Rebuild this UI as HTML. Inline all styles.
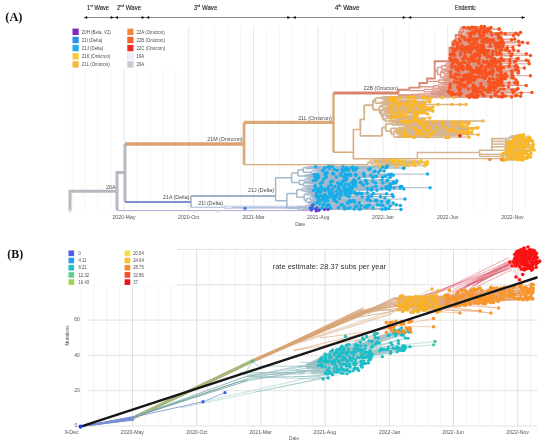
<!DOCTYPE html>
<html><head><meta charset="utf-8"><style>
html,body{margin:0;padding:0;background:#fff;}
svg{display:block;}
text{font-family:"Liberation Sans",sans-serif;}
text.serif{font-family:"Liberation Serif",serif;}
</style></head><body>
<svg width="550" height="446" viewBox="0 0 550 446">
<rect width="550" height="446" fill="#fff"/>
<line x1="72.2" y1="26" x2="72.2" y2="211.5" stroke="#f0f0f0" stroke-width="0.6"/>
<line x1="85.1" y1="26" x2="85.1" y2="211.5" stroke="#f0f0f0" stroke-width="0.6"/>
<line x1="98.1" y1="26" x2="98.1" y2="211.5" stroke="#f0f0f0" stroke-width="0.6"/>
<line x1="111" y1="26" x2="111" y2="211.5" stroke="#f0f0f0" stroke-width="0.6"/>
<line x1="124" y1="26" x2="124" y2="211.5" stroke="#e2e2e2" stroke-width="0.8"/>
<line x1="136.9" y1="26" x2="136.9" y2="211.5" stroke="#f0f0f0" stroke-width="0.6"/>
<line x1="149.9" y1="26" x2="149.9" y2="211.5" stroke="#f0f0f0" stroke-width="0.6"/>
<line x1="162.8" y1="26" x2="162.8" y2="211.5" stroke="#f0f0f0" stroke-width="0.6"/>
<line x1="175.8" y1="26" x2="175.8" y2="211.5" stroke="#f0f0f0" stroke-width="0.6"/>
<line x1="188.7" y1="26" x2="188.7" y2="211.5" stroke="#e2e2e2" stroke-width="0.8"/>
<line x1="201.7" y1="26" x2="201.7" y2="211.5" stroke="#f0f0f0" stroke-width="0.6"/>
<line x1="214.6" y1="26" x2="214.6" y2="211.5" stroke="#f0f0f0" stroke-width="0.6"/>
<line x1="227.6" y1="26" x2="227.6" y2="211.5" stroke="#f0f0f0" stroke-width="0.6"/>
<line x1="240.5" y1="26" x2="240.5" y2="211.5" stroke="#f0f0f0" stroke-width="0.6"/>
<line x1="253.5" y1="26" x2="253.5" y2="211.5" stroke="#e2e2e2" stroke-width="0.8"/>
<line x1="266.4" y1="26" x2="266.4" y2="211.5" stroke="#f0f0f0" stroke-width="0.6"/>
<line x1="279.4" y1="26" x2="279.4" y2="211.5" stroke="#f0f0f0" stroke-width="0.6"/>
<line x1="292.3" y1="26" x2="292.3" y2="211.5" stroke="#f0f0f0" stroke-width="0.6"/>
<line x1="305.3" y1="26" x2="305.3" y2="211.5" stroke="#f0f0f0" stroke-width="0.6"/>
<line x1="318.2" y1="26" x2="318.2" y2="211.5" stroke="#e2e2e2" stroke-width="0.8"/>
<line x1="331.2" y1="26" x2="331.2" y2="211.5" stroke="#f0f0f0" stroke-width="0.6"/>
<line x1="344.1" y1="26" x2="344.1" y2="211.5" stroke="#f0f0f0" stroke-width="0.6"/>
<line x1="357.1" y1="26" x2="357.1" y2="211.5" stroke="#f0f0f0" stroke-width="0.6"/>
<line x1="370" y1="26" x2="370" y2="211.5" stroke="#f0f0f0" stroke-width="0.6"/>
<line x1="383" y1="26" x2="383" y2="211.5" stroke="#e2e2e2" stroke-width="0.8"/>
<line x1="395.9" y1="26" x2="395.9" y2="211.5" stroke="#f0f0f0" stroke-width="0.6"/>
<line x1="408.8" y1="26" x2="408.8" y2="211.5" stroke="#f0f0f0" stroke-width="0.6"/>
<line x1="421.8" y1="26" x2="421.8" y2="211.5" stroke="#f0f0f0" stroke-width="0.6"/>
<line x1="434.7" y1="26" x2="434.7" y2="211.5" stroke="#f0f0f0" stroke-width="0.6"/>
<line x1="447.7" y1="26" x2="447.7" y2="211.5" stroke="#e2e2e2" stroke-width="0.8"/>
<line x1="460.6" y1="26" x2="460.6" y2="211.5" stroke="#f0f0f0" stroke-width="0.6"/>
<line x1="473.6" y1="26" x2="473.6" y2="211.5" stroke="#f0f0f0" stroke-width="0.6"/>
<line x1="486.5" y1="26" x2="486.5" y2="211.5" stroke="#f0f0f0" stroke-width="0.6"/>
<line x1="499.5" y1="26" x2="499.5" y2="211.5" stroke="#f0f0f0" stroke-width="0.6"/>
<line x1="512.4" y1="26" x2="512.4" y2="211.5" stroke="#e2e2e2" stroke-width="0.8"/>
<line x1="525.4" y1="26" x2="525.4" y2="211.5" stroke="#f0f0f0" stroke-width="0.6"/>
<line x1="84" y1="17.5" x2="525" y2="17.5" stroke="#333" stroke-width="0.6"/>
<path d="M84,17.5L87.2,16.1L87.2,18.9Z" fill="#111"/>
<path d="M113.8,17.5L110.6,16.1L110.6,18.9Z" fill="#111"/>
<path d="M114.8,17.5L118,16.1L118,18.9Z" fill="#111"/>
<path d="M144.8,17.5L141.6,16.1L141.6,18.9Z" fill="#111"/>
<path d="M146,17.5L149.2,16.1L149.2,18.9Z" fill="#111"/>
<path d="M290.6,17.5L287.4,16.1L287.4,18.9Z" fill="#111"/>
<path d="M292.6,17.5L295.8,16.1L295.8,18.9Z" fill="#111"/>
<path d="M406,17.5L402.8,16.1L402.8,18.9Z" fill="#111"/>
<path d="M408,17.5L411.2,16.1L411.2,18.9Z" fill="#111"/>
<path d="M525,17.5L521.8,16.1L521.8,18.9Z" fill="#111"/>
<text x="87" y="9.9" font-size="6.6" fill="#222" stroke="#222" stroke-width="0.12" textLength="22" lengthAdjust="spacingAndGlyphs">1<tspan font-size="3.8" dy="-2.4">st</tspan><tspan dy="2.4"> Wave</tspan></text>
<text x="116.9" y="9.9" font-size="6.6" fill="#222" stroke="#222" stroke-width="0.12" textLength="24.2" lengthAdjust="spacingAndGlyphs">2<tspan font-size="3.8" dy="-2.4">nd</tspan><tspan dy="2.4"> Wave</tspan></text>
<text x="193.8" y="9.9" font-size="6.6" fill="#222" stroke="#222" stroke-width="0.12" textLength="23.5" lengthAdjust="spacingAndGlyphs">3<tspan font-size="3.8" dy="-2.4">rd</tspan><tspan dy="2.4"> Wave</tspan></text>
<text x="334.7" y="9.9" font-size="6.6" fill="#222" stroke="#222" stroke-width="0.12" textLength="24.9" lengthAdjust="spacingAndGlyphs">4<tspan font-size="3.8" dy="-2.4">th</tspan><tspan dy="2.4"> Wave</tspan></text>
<text x="455" y="9.9" font-size="6.3" fill="#222" text-anchor="start" textLength="20.7" lengthAdjust="spacingAndGlyphs" stroke="#222" stroke-width="0.12">Endemic</text>
<text x="5.3" y="21.2" font-size="13" font-weight="bold" fill="#111" class="serif" textLength="17.2" lengthAdjust="spacingAndGlyphs">(A)</text>
<rect x="60" y="24" width="126" height="45" fill="#fff"/>
<rect x="72.5" y="28.6" width="6.2" height="6.4" fill="#7b2bbf"/>
<text x="81.8" y="33.6" font-size="5.1" fill="#4a4a4a" text-anchor="start" textLength="29.0" lengthAdjust="spacingAndGlyphs">20H (Beta, V2)</text>
<rect x="72.5" y="36.8" width="6.2" height="6.4" fill="#2c8fe8"/>
<text x="81.8" y="41.8" font-size="5.1" fill="#4a4a4a" text-anchor="start" textLength="20.5" lengthAdjust="spacingAndGlyphs">21I (Delta)</text>
<rect x="72.5" y="44.9" width="6.2" height="6.4" fill="#22aee8"/>
<text x="81.8" y="49.9" font-size="5.1" fill="#4a4a4a" text-anchor="start" textLength="21.4" lengthAdjust="spacingAndGlyphs">21J (Delta)</text>
<rect x="72.5" y="53.1" width="6.2" height="6.4" fill="#f7cc3a"/>
<text x="81.8" y="58.1" font-size="5.1" fill="#4a4a4a" text-anchor="start" textLength="28.5" lengthAdjust="spacingAndGlyphs">21K (Omicron)</text>
<rect x="72.5" y="61.2" width="6.2" height="6.4" fill="#f5b63c"/>
<text x="81.8" y="66.2" font-size="5.1" fill="#4a4a4a" text-anchor="start" textLength="27.9" lengthAdjust="spacingAndGlyphs">21L (Omicron)</text>
<rect x="127.3" y="28.6" width="6.2" height="6.4" fill="#f58a3c"/>
<text x="136.4" y="33.6" font-size="5.1" fill="#4a4a4a" text-anchor="start" textLength="28.3" lengthAdjust="spacingAndGlyphs">22A (Omicron)</text>
<rect x="127.3" y="36.8" width="6.2" height="6.4" fill="#f5612f"/>
<text x="136.4" y="41.8" font-size="5.1" fill="#4a4a4a" text-anchor="start" textLength="28.5" lengthAdjust="spacingAndGlyphs">22B (Omicron)</text>
<rect x="127.3" y="44.9" width="6.2" height="6.4" fill="#ee2b25"/>
<text x="136.4" y="49.9" font-size="5.1" fill="#4a4a4a" text-anchor="start" textLength="28.8" lengthAdjust="spacingAndGlyphs">22C (Omicron)</text>
<rect x="127.3" y="53.1" width="6.2" height="6.4" fill="#eef2f7" stroke="#d5dbe3" stroke-width="0.4"/>
<text x="136.4" y="58.1" font-size="5.1" fill="#4a4a4a" text-anchor="start" textLength="7.8" lengthAdjust="spacingAndGlyphs">19A</text>
<rect x="127.3" y="61.2" width="6.2" height="6.4" fill="#c6cbd3"/>
<text x="136.4" y="66.2" font-size="5.1" fill="#4a4a4a" text-anchor="start" textLength="7.8" lengthAdjust="spacingAndGlyphs">20A</text>
<text x="124" y="219" font-size="5.2" fill="#555" text-anchor="middle">2020-May</text>
<text x="188.7" y="219" font-size="5.2" fill="#555" text-anchor="middle">2020-Oct</text>
<text x="253.5" y="219" font-size="5.2" fill="#555" text-anchor="middle">2021-Mar</text>
<text x="318.2" y="219" font-size="5.2" fill="#555" text-anchor="middle">2021-Aug</text>
<text x="382.9" y="219" font-size="5.2" fill="#555" text-anchor="middle">2022-Jan</text>
<text x="447.7" y="219" font-size="5.2" fill="#555" text-anchor="middle">2022-Jun</text>
<text x="512.4" y="219" font-size="5.2" fill="#555" text-anchor="middle">2022-Nov</text>
<text x="300.2" y="225.9" font-size="4.8" fill="#555" text-anchor="middle">Date</text>
<path d="M70,210.5V191.3H117" fill="none" stroke="#b6bac0" stroke-width="3"/>
<path d="M117,210.6V172.5H125" fill="none" stroke="#b6bac0" stroke-width="3"/>
<path d="M125,202V143.8" fill="none" stroke="#b6bac0" stroke-width="3"/>
<circle cx="70" cy="210.6" r="1.3" fill="#fff" stroke="#b6bac0" stroke-width="0.7"/>
<line x1="117" y1="210.6" x2="312" y2="210.6" stroke="#b9a8d8" stroke-width="1.0"/>
<path d="M125,202H191" fill="none" stroke="#7d90d0" stroke-width="2"/>
<path d="M191,196V207.3" fill="none" stroke="#93abc6" stroke-width="1.4"/>
<line x1="191" y1="207.3" x2="226" y2="207.3" stroke="#a9b7d6" stroke-width="1.1"/>
<rect x="224.5" y="206" width="88" height="2.8" fill="#dde7f1" stroke="#b8c9dc" stroke-width="0.6"/>
<line x1="232" y1="207.4" x2="312" y2="207.4" stroke="#9aa6dc" stroke-width="0.7"/>
<circle cx="194.5" cy="211.3" r="1" fill="#fff" stroke="#bbb" stroke-width="0.5"/>
<circle cx="217" cy="211.3" r="1" fill="#fff" stroke="#bbb" stroke-width="0.5"/>
<path d="M191,196H275.6" fill="none" stroke="#9bb3c8" stroke-width="1.9"/>
<path d="M125,144H244" fill="none" stroke="#dba277" stroke-width="3.5"/>
<path d="M244,122.4V164.7" fill="none" stroke="#d9ab7c" stroke-width="2.8"/>
<path d="M244,122.4H333.5" fill="none" stroke="#d8aa76" stroke-width="3.4"/>
<path d="M244,164.7H368" fill="none" stroke="#d9ab7c" stroke-width="1.3"/>
<path d="M333.5,93V152.3" fill="none" stroke="#d9ab7c" stroke-width="2.4"/>
<path d="M333.5,93H398.5" fill="none" stroke="#d8846f" stroke-width="3"/>
<path d="M398.5,93V95H420" fill="none" stroke="#dc9282" stroke-width="1.3"/>
<path d="M333.5,152.3H353.4V129.5" fill="none" stroke="#d9ab7c" stroke-width="1.6"/>
<path d="M353.4,152.3V158.7H417.4" fill="none" stroke="#d9ab7c" stroke-width="1.5"/>
<path d="M318,166.1L387.2,166.1M320.9,166.5L329.3,166.5M320.9,166.6L387.1,166.6M311.2,166.7L315.6,166.7M319.1,166.7L332.6,166.7M321.6,166.8L343,166.8M323,166.8L328.1,166.8M323,167L382.5,167M315.3,167.2L352.8,167.2M323.2,167.4L351.8,167.4M332,167.5L353,167.5M332,167.7L386,167.7M321.1,167.7L324.9,167.7M321.1,167.8L404.1,167.8M320.5,167.9L346.2,167.9M319.9,168L357,168M321.7,168.2L403.6,168.2M321.7,168.6L329.2,168.6M313.3,168.7L370.3,168.7M310.3,168.8L347.7,168.8M332.5,169.2L368.9,169.2M332.5,169.2L348.6,169.2M323.7,169.3L342.1,169.3M326.4,169.3L346.4,169.3M328.1,169.6L344.9,169.6M328.1,169.6L334.3,169.6M330.6,169.7L345.4,169.7M330.6,169.8L355.4,169.8M319.9,169.9L323.7,169.9M318.4,169.9L380.5,169.9M333.4,170.2L353.5,170.2M333.4,170.4L348.1,170.4M319.9,170.6L337.3,170.6M319.9,170.7L322.6,170.7M319,171L384.1,171M333.2,171.1L375,171.1M338.5,171.5L343.1,171.5M338.5,171.9L373.9,171.9M336.8,172.1L342.8,172.1M325.6,172.3L378.6,172.3M319.5,172.8L327.2,172.8M320.9,173.4L325.1,173.4M320.9,173.5L363.7,173.5M318,173.7L332.7,173.7M324.2,173.8L333.8,173.8M324.2,173.8L333.2,173.8M333.6,173.9L345.5,173.9M333.6,174L350,174M329.9,174L340.7,174M352.3,174.1L427.5,174.1M352.3,174.3L391.4,174.3M310.3,174.3L314.3,174.3M310.3,174.3L355.8,174.3M309.7,174.5L317.3,174.5M327.7,174.6L388.8,174.6M333.7,174.6L348.5,174.6M333.7,174.7L364.5,174.7M317.9,174.9L325.8,174.9M326.9,175.1L370.7,175.1M326.9,175.2L350.6,175.2M325.5,175.3L355.7,175.3M331.2,175.3L347,175.3M331.2,175.3L393.1,175.3M316.1,175.3L340.5,175.3M316.1,175.7L325.4,175.7M313.2,175.9L318.5,175.9M313.2,175.9L364.2,175.9M334.3,176.1L385.7,176.1M334.3,176.2L376.2,176.2M311.1,176.3L315.1,176.3M324.2,176.6L343.7,176.6M324.2,176.7L346.7,176.7M317.6,176.9L336.3,176.9M313.3,176.9L374.2,176.9M313.3,177.1L326.2,177.1M311.8,177.2L315.2,177.2M311.8,177.2L382.8,177.2M312.5,177.3L372.7,177.3M313.7,177.3L390.2,177.3M313.7,177.7L318.6,177.7M311.9,178.2L359,178.2M317.3,178.6L346.7,178.6M317.3,178.9L323.8,178.9M315.3,179.3L344.5,179.3M312.5,179.5L316.3,179.5M311.3,179.8L354.1,179.8M331.3,179.9L381.9,179.9M331.3,179.9L387.7,179.9M309.6,180.2L345.8,180.2M310.2,180.3L316.2,180.3M310.7,180.3L365.9,180.3M310.7,180.4L313.7,180.4M333.2,180.4L354.1,180.4M333.2,180.7L396.8,180.7M335,180.9L355.1,180.9M350,181L386.9,181M350,181L372.9,181M326.4,181.2L332.4,181.2M335.7,181.5L354.6,181.5M335.7,181.6L366.1,181.6M328.2,181.6L343.1,181.6M324.3,181.6L354.7,181.6M324.3,181.9L330.4,181.9M321.4,181.9L341.8,181.9M313.8,182L393.5,182M316.6,182.2L322.3,182.2M316.6,182.4L351.7,182.4M320.1,182.4L360.4,182.4M320.1,182.9L337.8,182.9M338.3,182.9L375.6,182.9M338.3,182.9L396.1,182.9M315.2,183L382.9,183M331.3,183.1L361.3,183.1M331.3,183.1L355.5,183.1M316.4,183.4L367,183.4M317,183.4L393.2,183.4M317.3,183.6L320.3,183.6M317.3,183.7L353.5,183.7M334.2,184L390.6,184M334.2,184.1L354,184.1M327.8,184.3L345.6,184.3M322.1,184.3L339.3,184.3M330.3,184.5L348.6,184.5M330.3,184.5L354.5,184.5M325.6,184.6L341.5,184.6M326.3,184.9L389.6,184.9M326.3,185L331.2,185M319.3,185.1L363.4,185.1M332.8,185.2L353.7,185.2M332.8,185.7L353.7,185.7M323.9,185.7L390,185.7M323.9,185.8L349.5,185.8M309.4,185.8L315.3,185.8M328.2,186.1L355.8,186.1M328.2,186.2L350.1,186.2M326.4,186.3L338.8,186.3M326.4,186.4L400.4,186.4M322.6,186.4L375.8,186.4M322.6,186.4L328.6,186.4M315.5,186.4L401.8,186.4M317.6,186.5L334.8,186.5M318.2,186.7L321.4,186.7M318.2,186.8L386.1,186.8M316.9,186.9L343.7,186.9M311.6,187L315.2,187M311.6,187.5L344.7,187.5M323.2,187.5L349.9,187.5M342.5,187.6L387.3,187.6M342.5,187.6L390.5,187.6M327.6,187.7L430,187.7M333.3,187.8L344.4,187.8M333.3,187.9L351.2,187.9M349.3,187.9L400.1,187.9M349.3,188L372.1,188M333.9,188.1L394.2,188.1M329.5,188.2L386.3,188.2M329.5,188.3L352.3,188.3M315.2,188.4L319.4,188.4M319.1,188.4L339.4,188.4M319.1,188.4L338,188.4M330.3,188.5L387,188.5M346.2,188.6L372,188.6M346.2,188.7L367.4,188.7M332.3,188.8L381.8,188.8M332.3,188.9L349.6,188.9M319,188.9L345.1,188.9M319,188.9L325.1,188.9M313.1,189L332.5,189M315.1,189L322,189M315.1,189.1L403.8,189.1M315.2,189.3L346.9,189.3M315.2,189.5L327.8,189.5M311.2,189.6L316.8,189.6M311.2,189.8L389.6,189.8M321.9,189.8L371.1,189.8M342.5,189.9L371.4,189.9M342.5,190.3L377,190.3M324.4,190.4L329.8,190.4M317.8,190.4L344.5,190.4M316.5,190.4L324.6,190.4M316.5,190.5L346.4,190.5M309.2,190.5L313.5,190.5M314.1,190.6L340.9,190.6M314.1,190.9L328.9,190.9M314.5,190.9L336.6,190.9M315.3,191.3L347.2,191.3M315.3,191.4L319,191.4M313.7,191.4L351.6,191.4M312,191.9L320.7,191.9M317.9,192.2L332.9,192.2M317.9,192.2L349.3,192.2M312.3,192.3L317.6,192.3M323.5,192.3L340.5,192.3M323.5,192.5L341.1,192.5M324.8,192.6L354.6,192.6M324.8,192.6L346.7,192.6M316.5,192.7L367.3,192.7M320.5,192.8L329.5,192.8M320.5,192.9L355.7,192.9M321.5,193.1L359.4,193.1M321.5,193.2L338.6,193.2M313.5,193.3L316.7,193.3M325.4,193.4L340.7,193.4M325.4,193.4L339.4,193.4M312.9,193.4L361.9,193.4M321.3,193.5L373.3,193.5M338.5,193.7L345.1,193.7M338.5,193.7L386.7,193.7M334.9,193.8L360.2,193.8M338,193.8L350.1,193.8M338,193.9L356.5,193.9M322.1,194L331.5,194M322.1,194.3L329.6,194.3M318.8,194.3L344.8,194.3M334.1,194.4L356.9,194.4M334.1,194.5L392.2,194.5M317.8,194.7L336.5,194.7M317.8,194.8L325.2,194.8M318,195.1L324.5,195.1M318,195.4L340.8,195.4M316,195.5L320.5,195.5M316,195.8L333.9,195.8M313.2,195.8L347.1,195.8M313.2,195.8L316.1,195.8M312.9,196L371.7,196M314.4,196.1L336.7,196.1M314.4,196.1L319.2,196.1M314.9,196.2L319.3,196.2M314.9,196.5L380.5,196.5M323.5,196.5L393.1,196.5M323.5,196.6L349.2,196.6M317.5,196.8L323.1,196.8M317.5,196.8L368.1,196.8M321.5,196.8L330.7,196.8M322.6,196.8L326.6,196.8M322.6,196.9L368.6,196.9M321.2,196.9L362.2,196.9M321.2,197.1L325,197.1M319.6,197.2L334.1,197.2M319.6,197.3L323,197.3M318.2,197.4L328,197.4M313.1,197.6L317.3,197.6M313.1,197.8L335.5,197.8M315,197.9L318,197.9M315,198.1L384.9,198.1M314.4,198.6L339.5,198.6M316.3,198.8L324,198.8M318.7,199L323.8,199M318.7,199L405,199M315.9,199.3L333.5,199.3M345.7,199.4L367,199.4M345.7,199.4L367.9,199.4M333.3,199.8L367.8,199.8M317.2,199.9L321.5,199.9M314.7,200.3L319.5,200.3M314.7,200.4L376.8,200.4M312.8,200.4L375.2,200.4M315.3,200.4L319,200.4M315.3,200.4L353.8,200.4M320.5,200.5L326.3,200.5M349.4,200.7L370.4,200.7M349.4,200.7L376.7,200.7M332,200.7L349.8,200.7M318.3,200.8L327.7,200.8M323.3,200.8L334.6,200.8M337.2,200.9L387.9,200.9M337.2,200.9L351.9,200.9M344.6,201.1L389.1,201.1M344.6,201.6L381.6,201.6M315.9,201.8L324.9,201.8M315.9,201.9L387.6,201.9M324.9,201.9L336.9,201.9M324.9,202.1L350.5,202.1M319.8,202.2L347.8,202.2M311.5,202.3L354.6,202.3M312.3,202.4L317,202.4M312.3,202.8L359.2,202.8M309.6,203L393.1,203M310.9,203L387.7,203M313,203.3L347.7,203.3M313,203.7L319.8,203.7M311.2,204.3L314,204.3M317.6,204.6L323.5,204.6M317.6,204.8L396.4,204.8M315.2,204.8L342.3,204.8M322.9,204.8L377.5,204.8M322.9,204.9L328.9,204.9M321.7,205L380.6,205M327.9,205.1L340.9,205.1M327.9,205.2L368.4,205.2M320.6,205.3L326.9,205.3M321.9,205.3L328.5,205.3M334.9,205.4L369.4,205.4M334.9,205.5L361,205.5M318.9,205.6L400.4,205.6M343,205.6L382.9,205.6M343,205.8L366.9,205.8M325.8,205.8L343.1,205.8M323.5,206L390.2,206M325.6,206.1L329.2,206.1M325.6,206.1L356.9,206.1M325,206.6L355.7,206.6M334.5,207.1L364.9,207.1M334.5,207.1L344.8,207.1M329.2,207.2L366.9,207.2M317.7,207.3L322.7,207.3M317.7,207.7L373,207.7M316.2,207.7L350,207.7M317,207.7L338.3,207.7M322.7,208L385.4,208M322.7,208.2L330.6,208.2M317.6,208.2L326.6,208.2M317.6,208.5L347.8,208.5M315.4,208.6L388.7,208.6M311.4,208.6L316.2,208.6M312,208.7L316.3,208.7M312,208.9L344.5,208.9M328.8,209.1L360.5,209.1M328.8,209.1L354.2,209.1M311.2,209.1L320.4,209.1M335,209.1L359.1,209.1M335,209.2L382,209.2M332.4,209.3L385.6,209.3M332.4,209.4L401,209.4" fill="none" stroke="#a3b9cb" stroke-width="1.0"/>
<path d="M320.9,166.5L320.9,166.6M318,166.5L320.9,166.5M323,166.8L323,167M321.6,166.9L323,166.9M332,167.5L332,167.7M323.2,167.6L332,167.6M321.1,167.7L321.1,167.8M320.5,167.8L321.1,167.8M321.7,168.2L321.7,168.6M317.5,168.4L321.7,168.4M332.5,169.2L332.5,169.2M318.1,169.2L332.5,169.2M328.1,169.6L328.1,169.6M326.4,169.6L328.1,169.6M330.6,169.7L330.6,169.8M319.9,169.7L330.6,169.7M333.4,170.2L333.4,170.4M319.6,170.3L333.4,170.3M319.9,170.6L319.9,170.7M319.6,170.7L319.9,170.7M338.5,171.5L338.5,171.9M336.8,171.7L338.5,171.7M320.9,173.4L320.9,173.5M319.5,173.4L320.9,173.4M324.2,173.8L324.2,173.8M321.8,173.8L324.2,173.8M333.6,173.9L333.6,174M325.8,174L333.6,174M352.3,174.1L352.3,174.3M329.9,174.2L352.3,174.2M310.3,174.3L310.3,174.3M309.7,174.3L310.3,174.3M333.7,174.6L333.7,174.7M327.7,174.7L333.7,174.7M326.9,175.1L326.9,175.2M317.9,175.1L326.9,175.1M331.2,175.3L331.2,175.3M325.5,175.3L331.2,175.3M316.1,175.3L316.1,175.7M310.5,175.5L316.1,175.5M313.2,175.9L313.2,175.9M310.5,175.9L313.2,175.9M334.3,176.1L334.3,176.2M311.1,176.2L334.3,176.2M324.2,176.6L324.2,176.7M317.6,176.7L324.2,176.7M313.3,176.9L313.3,177.1M308.4,177L313.3,177M311.8,177.2L311.8,177.2M311.2,177.2L311.8,177.2M313.7,177.3L313.7,177.7M312.5,177.5L313.7,177.5M317.3,178.6L317.3,178.9M315.3,178.7L317.3,178.7M331.3,179.9L331.3,179.9M308.6,179.9L331.3,179.9M310.7,180.3L310.7,180.4M310.2,180.4L310.7,180.4M333.2,180.4L333.2,180.7M320.4,180.6L333.2,180.6M350,181L350,181M335,181L350,181M335.7,181.5L335.7,181.6M328.2,181.5L335.7,181.5M324.3,181.6L324.3,181.9M321.4,181.8L324.3,181.8M316.6,182.2L316.6,182.4M313.8,182.3L316.6,182.3M320.1,182.4L320.1,182.9M309.4,182.6L320.1,182.6M338.3,182.9L338.3,182.9M312.1,182.9L338.3,182.9M331.3,183.1L331.3,183.1M315.8,183.1L331.3,183.1M317.3,183.6L317.3,183.7M317,183.7L317.3,183.7M334.2,184L334.2,184.1M327.8,184.1L334.2,184.1M330.3,184.5L330.3,184.5M323.9,184.5L330.3,184.5M326.3,184.9L326.3,185M325.6,184.9L326.3,184.9M332.8,185.2L332.8,185.7M313.7,185.4L332.8,185.4M323.9,185.7L323.9,185.8M309.4,185.8L323.9,185.8M328.2,186.1L328.2,186.2M316.9,186.2L328.2,186.2M326.4,186.3L326.4,186.4M321.5,186.3L326.4,186.3M322.6,186.4L322.6,186.4M321.5,186.4L322.6,186.4M318.2,186.7L318.2,186.8M317.6,186.8L318.2,186.8M311.6,187L311.6,187.5M311,187.2L311.6,187.2M342.5,187.6L342.5,187.6M323.2,187.6L342.5,187.6M333.3,187.8L333.3,187.9M327.6,187.8L333.3,187.8M349.3,187.9L349.3,188M333.9,188L349.3,188M329.5,188.2L329.5,188.3M315.2,188.2L329.5,188.2M319.1,188.4L319.1,188.4M311.3,188.4L319.1,188.4M346.2,188.6L346.2,188.7M330.3,188.6L346.2,188.6M332.3,188.8L332.3,188.9M317.8,188.8L332.3,188.8M319,188.9L319,188.9M317.8,188.9L319,188.9M315.1,189L315.1,189.1M313.1,189.1L315.1,189.1M315.2,189.3L315.2,189.5M309.4,189.4L315.2,189.4M311.2,189.6L311.2,189.8M309.4,189.7L311.2,189.7M342.5,189.9L342.5,190.3M324.4,190.1L342.5,190.1M316.5,190.4L316.5,190.5M313.5,190.4L316.5,190.4M314.1,190.6L314.1,190.9M309.2,190.7L314.1,190.7M315.3,191.3L315.3,191.4M314.5,191.3L315.3,191.3M317.9,192.2L317.9,192.2M312.3,192.2L317.9,192.2M323.5,192.3L323.5,192.5M317.9,192.4L323.5,192.4M324.8,192.6L324.8,192.6M317.9,192.6L324.8,192.6M320.5,192.8L320.5,192.9M316.5,192.8L320.5,192.8M321.5,193.1L321.5,193.2M312.3,193.2L321.5,193.2M325.4,193.4L325.4,193.4M313.5,193.4L325.4,193.4M338.5,193.7L338.5,193.7M334.9,193.7L338.5,193.7M338,193.8L338,193.9M332.2,193.9L338,193.9M322.1,194L322.1,194.3M318.8,194.2L322.1,194.2M334.1,194.4L334.1,194.5M314.7,194.5L334.1,194.5M317.8,194.7L317.8,194.8M313.6,194.8L317.8,194.8M318,195.1L318,195.4M315.3,195.2L318,195.2M316,195.5L316,195.8M315.3,195.6L316,195.6M313.2,195.8L313.2,195.8M312.9,195.8L313.2,195.8M314.4,196.1L314.4,196.1M312.8,196.1L314.4,196.1M314.9,196.2L314.9,196.5M314,196.3L314.9,196.3M323.5,196.5L323.5,196.6M314,196.6L323.5,196.6M317.5,196.8L317.5,196.8M316.3,196.8L317.5,196.8M322.6,196.8L322.6,196.9M321.5,196.9L322.6,196.9M321.2,196.9L321.2,197.1M320.5,197L321.2,197M319.6,197.2L319.6,197.3M319,197.3L319.6,197.3M313.1,197.6L313.1,197.8M311.7,197.7L313.1,197.7M315,197.9L315,198.1M314.4,198L315,198M318.7,199L318.7,199M316.3,199L318.7,199M345.7,199.4L345.7,199.4M333.3,199.4L345.7,199.4M314.7,200.3L314.7,200.4M312.8,200.3L314.7,200.3M315.3,200.4L315.3,200.4M314.6,200.4L315.3,200.4M349.4,200.7L349.4,200.7M332,200.7L349.4,200.7M337.2,200.9L337.2,200.9M323.3,200.9L337.2,200.9M344.6,201.1L344.6,201.6M319.4,201.3L344.6,201.3M315.9,201.8L315.9,201.9M313,201.9L315.9,201.9M324.9,201.9L324.9,202.1M319.8,202L324.9,202M312.3,202.4L312.3,202.8M311.5,202.6L312.3,202.6M313,203.3L313,203.7M311.2,203.5L313,203.5M317.6,204.6L317.6,204.8M315.2,204.7L317.6,204.7M322.9,204.8L322.9,204.9M321.7,204.9L322.9,204.9M327.9,205.1L327.9,205.2M317.3,205.1L327.9,205.1M334.9,205.4L334.9,205.5M321.9,205.5L334.9,205.5M343,205.6L343,205.8M325.8,205.7L343,205.7M325.6,206.1L325.6,206.1M325,206.1L325.6,206.1M334.5,207.1L334.5,207.1M329.2,207.1L334.5,207.1M317.7,207.3L317.7,207.7M316.2,207.5L317.7,207.5M322.7,208L322.7,208.2M317,208.1L322.7,208.1M317.6,208.2L317.6,208.5M315.4,208.3L317.6,208.3M312,208.7L312,208.9M311.4,208.8L312,208.8M328.8,209.1L328.8,209.1M307.6,209.1L328.8,209.1M335,209.1L335,209.2M311.2,209.2L335,209.2M332.4,209.3L332.4,209.4M302.7,209.3L332.4,209.3" fill="none" stroke="#a3b9cb" stroke-width="1.1"/>
<path d="M318,166.1L318,166.5M310.2,166.3L318,166.3M321.6,166.8L321.6,166.9M319.1,166.8L321.6,166.8M319.1,166.7L319.1,166.8M315.3,166.8L319.1,166.8M315.3,166.8L315.3,167.2M311.2,167L315.3,167M323.2,167.4L323.2,167.6M309.3,167.5L323.2,167.5M320.5,167.8L320.5,167.9M319.9,167.8L320.5,167.8M319.9,167.8L319.9,168M317.5,167.9L319.9,167.9M326.4,169.3L326.4,169.6M323.7,169.4L326.4,169.4M323.7,169.3L323.7,169.4M319.2,169.4L323.7,169.4M319.9,169.7L319.9,169.9M319.2,169.8L319.9,169.8M319.6,170.3L319.6,170.7M319,170.5L319.6,170.5M319,170.5L319,171M318.4,170.7L319,170.7M336.8,171.7L336.8,172.1M333.2,171.9L336.8,171.9M333.2,171.1L333.2,171.9M325.6,171.5L333.2,171.5M325.6,171.5L325.6,172.3M315.6,171.9L325.6,171.9M319.5,172.8L319.5,173.4M318,173.1L319.5,173.1M318,173.1L318,173.7M316,173.4L318,173.4M329.9,174L329.9,174.2M325.8,174.1L329.9,174.1M325.8,174L325.8,174.1M321.8,174L325.8,174M309.7,174.3L309.7,174.5M308.9,174.4L309.7,174.4M327.7,174.6L327.7,174.7M308.9,174.6L327.7,174.6M317.9,174.9L317.9,175.1M312.6,175L317.9,175M325.5,175.3L325.5,175.3M312.6,175.3L325.5,175.3M310.5,175.5L310.5,175.9M306.5,175.7L310.5,175.7M311.1,176.2L311.1,176.3M310.3,176.3L311.1,176.3M317.6,176.7L317.6,176.9M310.3,176.8L317.6,176.8M312.5,177.3L312.5,177.5M311.2,177.4L312.5,177.4M311.2,177.2L311.2,177.4M310,177.3L311.2,177.3M315.3,178.7L315.3,179.3M312.5,179L315.3,179M312.5,179L312.5,179.5M311.9,179.3L312.5,179.3M311.9,178.2L311.9,179.3M311.3,178.7L311.9,178.7M310.2,180.3L310.2,180.4M309.6,180.3L310.2,180.3M309.6,180.2L309.6,180.3M308.6,180.2L309.6,180.2M335,180.9L335,181M326.4,180.9L335,180.9M326.4,180.9L326.4,181.2M323.5,181L326.4,181M328.2,181.5L328.2,181.6M323.5,181.6L328.2,181.6M321.4,181.8L321.4,181.9M317.1,181.8L321.4,181.8M313.8,182L313.8,182.3M311.1,182.2L313.8,182.2M317,183.4L317,183.7M316.4,183.5L317,183.5M316.4,183.4L316.4,183.5M315.8,183.5L316.4,183.5M327.8,184.1L327.8,184.3M314.2,184.2L327.8,184.2M325.6,184.6L325.6,184.9M323.9,184.8L325.6,184.8M323.9,184.5L323.9,184.8M322.1,184.6L323.9,184.6M309.4,185.8L309.4,185.8M308.3,185.8L309.4,185.8M321.5,186.3L321.5,186.4M316.9,186.4L321.5,186.4M317.6,186.5L317.6,186.8M316.9,186.6L317.6,186.6M316.9,186.6L316.9,186.9M315.5,186.8L316.9,186.8M315.5,186.4L315.5,186.8M313.4,186.6L315.5,186.6M323.2,187.5L323.2,187.6M309.6,187.5L323.2,187.5M327.6,187.7L327.6,187.8M313.3,187.8L327.6,187.8M333.9,188L333.9,188.1M314.1,188L333.9,188M315.2,188.2L315.2,188.4M314.1,188.3L315.2,188.3M330.3,188.5L330.3,188.6M316.4,188.6L330.3,188.6M317.8,188.8L317.8,188.9M316.4,188.9L317.8,188.9M313.1,189L313.1,189.1M309.9,189L313.1,189M309.4,189.4L309.4,189.7M307.9,189.5L309.4,189.5M324.4,190.1L324.4,190.4M321.9,190.2L324.4,190.2M321.9,189.8L321.9,190.2M317.8,190L321.9,190M317.8,190L317.8,190.4M313.5,190.2L317.8,190.2M309.2,190.5L309.2,190.7M308.4,190.6L309.2,190.6M314.5,190.9L314.5,191.3M313.7,191.1L314.5,191.1M313.7,191.1L313.7,191.4M312,191.3L313.7,191.3M312,191.3L312,191.9M308.4,191.6L312,191.6M312.3,192.2L312.3,192.3M310.4,192.2L312.3,192.2M317.9,192.4L317.9,192.6M310.4,192.5L317.9,192.5M316.5,192.7L316.5,192.8M310.9,192.8L316.5,192.8M313.5,193.3L313.5,193.4M312.9,193.3L313.5,193.3M312.9,193.3L312.9,193.4M312.3,193.4L312.9,193.4M334.9,193.7L334.9,193.8M332.2,193.7L334.9,193.7M332.2,193.7L332.2,193.9M321.3,193.8L332.2,193.8M318.8,194.2L318.8,194.3M314.7,194.2L318.8,194.2M314.7,194.2L314.7,194.5M310.5,194.4L314.7,194.4M315.3,195.2L315.3,195.6M313.6,195.4L315.3,195.4M312.9,195.8L312.9,196M312.3,195.9L312.9,195.9M314,196.3L314,196.6M312.8,196.5L314,196.5M321.5,196.8L321.5,196.9M320.5,196.8L321.5,196.8M320.5,196.8L320.5,197M319,196.9L320.5,196.9M314.4,198L314.4,198.6M313.8,198.3L314.4,198.3M316.3,198.8L316.3,199M313.8,198.9L316.3,198.9M333.3,199.4L333.3,199.8M317.2,199.6L333.3,199.6M317.2,199.6L317.2,199.9M315.9,199.8L317.2,199.8M315.9,199.3L315.9,199.8M313.1,199.5L315.9,199.5M312.8,200.3L312.8,200.4M311.5,200.4L312.8,200.4M332,200.7L332,200.7M320.5,200.7L332,200.7M320.5,200.5L320.5,200.7M318.3,200.6L320.5,200.6M318.3,200.6L318.3,200.8M314.6,200.7L318.3,200.7M323.3,200.8L323.3,200.9M319.4,200.9L323.3,200.9M319.4,200.9L319.4,201.3M314,201.1L319.4,201.1M319.8,202L319.8,202.2M311.2,202.1L319.8,202.1M311.5,202.3L311.5,202.6M308.8,202.5L311.5,202.5M311.2,203.5L311.2,204.3M310.9,203.9L311.2,203.9M310.9,203L310.9,203.9M310.3,203.5L310.9,203.5M315.2,204.7L315.2,204.8M310.3,204.7L315.2,204.7M321.7,204.9L321.7,205M317.3,204.9L321.7,204.9M317.3,204.9L317.3,205.1M311.2,205L317.3,205M321.9,205.3L321.9,205.5M320.6,205.4L321.9,205.4M320.6,205.3L320.6,205.4M318.9,205.3L320.6,205.3M318.9,205.3L318.9,205.6M316.5,205.4L318.9,205.4M325.8,205.7L325.8,205.8M320.6,205.8L325.8,205.8M325,206.1L325,206.6M323.5,206.3L325,206.3M323.5,206L323.5,206.3M322.3,206.1L323.5,206.1M329.2,207.1L329.2,207.2M322.3,207.2L329.2,207.2M316.2,207.5L316.2,207.7M312.4,207.6L316.2,207.6M317,207.7L317,208.1M312.4,207.9L317,207.9M315.4,208.3L315.4,208.6M310.8,208.5L315.4,208.5M311.4,208.6L311.4,208.8M310.8,208.7L311.4,208.7M311.2,209.1L311.2,209.2M307.6,209.1L311.2,209.1M307.6,209.1L307.6,209.1M302.7,209.1L307.6,209.1" fill="none" stroke="#a3b9cb" stroke-width="1.2"/>
<path d="M311.2,166.7L311.2,167M310.2,166.8L311.2,166.8M310.2,166.3L310.2,166.8M309.3,166.6L310.2,166.6M309.3,166.6L309.3,167.5M306.1,167L309.3,167M317.5,167.9L317.5,168.4M313.3,168.1L317.5,168.1M313.3,168.1L313.3,168.7M310.3,168.4L313.3,168.4M310.3,168.4L310.3,168.8M306.1,168.6L310.3,168.6M319.2,169.4L319.2,169.8M318.1,169.6L319.2,169.6M318.1,169.2L318.1,169.6M317.1,169.4L318.1,169.4M318.4,169.9L318.4,170.7M317.1,170.3L318.4,170.3M321.8,173.8L321.8,174M316,173.9L321.8,173.9M316,173.4L316,173.9M311.7,173.7L316,173.7M308.9,174.4L308.9,174.6M308.1,174.5L308.9,174.5M312.6,175L312.6,175.3M308.1,175.1L312.6,175.1M308.1,174.5L308.1,175.1M306.5,174.8L308.1,174.8M310.3,176.3L310.3,176.8M308.4,176.5L310.3,176.5M308.4,176.5L308.4,177M304.6,176.8L308.4,176.8M311.3,178.7L311.3,179.8M310,179.3L311.3,179.3M310,177.3L310,179.3M307.7,178.3L310,178.3M308.6,179.9L308.6,180.2M307.7,180.1L308.6,180.1M323.5,181L323.5,181.6M320.4,181.3L323.5,181.3M320.4,180.6L320.4,181.3M317.1,180.9L320.4,180.9M317.1,180.9L317.1,181.8M311.1,181.4L317.1,181.4M315.8,183.1L315.8,183.5M315.2,183.3L315.8,183.3M315.2,183L315.2,183.3M314.2,183.1L315.2,183.1M314.2,183.1L314.2,184.2M312.1,183.7L314.2,183.7M312.1,182.9L312.1,183.7M309.4,183.3L312.1,183.3M322.1,184.3L322.1,184.6M319.3,184.5L322.1,184.5M319.3,184.5L319.3,185.1M313.7,184.8L319.3,184.8M313.7,184.8L313.7,185.4M308.3,185.1L313.7,185.1M308.3,185.1L308.3,185.8M306.6,185.4L308.3,185.4M316.9,186.2L316.9,186.4M313.4,186.3L316.9,186.3M313.4,186.3L313.4,186.6M311,186.4L313.4,186.4M311,186.4L311,187.2M309.6,186.8L311,186.8M314.1,188L314.1,188.3M313.3,188.2L314.1,188.2M313.3,187.8L313.3,188.2M311.3,188L313.3,188M311.3,188L311.3,188.4M306.6,188.2L311.3,188.2M316.4,188.6L316.4,188.9M309.9,188.7L316.4,188.7M309.9,188.7L309.9,189M306.6,188.9L309.9,188.9M313.5,190.2L313.5,190.4M307.9,190.3L313.5,190.3M307.9,189.5L307.9,190.3M305.4,189.9L307.9,189.9M308.4,190.6L308.4,191.6M307.5,191.1L308.4,191.1M310.4,192.2L310.4,192.5M307.5,192.3L310.4,192.3M312.3,193.2L312.3,193.4M310.9,193.3L312.3,193.3M310.9,192.8L310.9,193.3M309.6,193L310.9,193M321.3,193.5L321.3,193.8M309.6,193.6L321.3,193.6M313.6,194.8L313.6,195.4M312.3,195.1L313.6,195.1M312.3,195.1L312.3,195.9M311.7,195.5L312.3,195.5M312.8,196.1L312.8,196.5M311.7,196.3L312.8,196.3M319,196.9L319,197.3M318.2,197.1L319,197.1M318.2,197.1L318.2,197.4M316.3,197.3L318.2,197.3M316.3,196.8L316.3,197.3M311.7,197L316.3,197M311.7,197L311.7,197.7M310,197.4L311.7,197.4M313.8,198.3L313.8,198.9M313.1,198.6L313.8,198.6M313.1,198.6L313.1,199.5M311.5,199.1L313.1,199.1M314.6,200.4L314.6,200.7M314,200.6L314.6,200.6M314,200.6L314,201.1M313,200.8L314,200.8M310.3,203.5L310.3,204.7M309.6,204.1L310.3,204.1M309.6,203L309.6,204.1M308.8,203.6L309.6,203.6M308.8,202.5L308.8,203.6M308.1,203L308.8,203M322.3,206.1L322.3,207.2M320.6,206.7L322.3,206.7M320.6,205.8L320.6,206.7M316.5,206.2L320.6,206.2M312.4,207.6L312.4,207.9M308.8,207.7L312.4,207.7M310.8,208.5L310.8,208.7M308.8,208.6L310.8,208.6M308.8,207.7L308.8,208.6M305.7,208.2L308.8,208.2M302.7,209.1L302.7,209.3M297.8,209.2L302.7,209.2" fill="none" stroke="#a3b9cb" stroke-width="1.3"/>
<path d="M306.1,167L306.1,168.6M303.2,167.8L306.1,167.8M317.1,169.4L317.1,170.3M315.6,169.9L317.1,169.9M315.6,169.9L315.6,171.9M311.7,170.9L315.6,170.9M311.7,170.9L311.7,173.7M303.2,172.3L311.7,172.3M306.5,174.8L306.5,175.7M304.6,175.3L306.5,175.3M304.6,175.3L304.6,176.8M297.9,176L304.6,176M307.7,178.3L307.7,180.1M304.8,179.2L307.7,179.2M311.1,181.4L311.1,182.2M304.8,181.8L311.1,181.8M309.4,182.6L309.4,183.3M303.5,183L309.4,183M309.6,186.8L309.6,187.5M306.6,187.2L309.6,187.2M306.6,185.4L306.6,187.2M303.5,186.3L306.6,186.3M306.6,188.2L306.6,188.9M302.1,188.5L306.6,188.5M307.5,191.1L307.5,192.3M305.4,191.7L307.5,191.7M305.4,189.9L305.4,191.7M302.1,190.8L305.4,190.8M309.6,193L309.6,193.6M307.8,193.3L309.6,193.3M311.7,195.5L311.7,196.3M310.5,195.9L311.7,195.9M310.5,194.4L310.5,195.9M307.8,195.1L310.5,195.1M311.5,199.1L311.5,200.4M310,199.7L311.5,199.7M310,197.4L310,199.7M306.5,198.5L310,198.5M313,200.8L313,201.9M311.2,201.3L313,201.3M311.2,201.3L311.2,202.1M308.1,201.7L311.2,201.7M308.1,201.7L308.1,203M306.5,202.4L308.1,202.4M316.5,205.4L316.5,206.2M311.2,205.8L316.5,205.8M311.2,205L311.2,205.8M305.7,205.4L311.2,205.4" fill="none" stroke="#a3b9cb" stroke-width="1.4"/>
<path d="M303.2,167.8L303.2,172.3M297.9,170L303.2,170M297.9,170L297.9,176M291.6,173L297.9,173M304.8,179.2L304.8,181.8M299.2,180.5L304.8,180.5M303.5,183L303.5,186.3M299.2,184.6L303.5,184.6M299.2,180.5L299.2,184.6M291.6,182.6L299.2,182.6M291.6,173L291.6,182.6M275.6,177.8L291.6,177.8M302.1,188.5L302.1,190.8M296.7,189.7L302.1,189.7M307.8,193.3L307.8,195.1M304.2,194.2L307.8,194.2M306.5,198.5L306.5,202.4M304.2,200.5L306.5,200.5M304.2,194.2L304.2,200.5M296.7,197.3L304.2,197.3M296.7,189.7L296.7,197.3M286.9,193.5L296.7,193.5M305.7,205.4L305.7,208.2M297.8,206.8L305.7,206.8M297.8,206.8L297.8,209.2M286.9,208L297.8,208M286.9,193.5L286.9,208M275.6,200.8L286.9,200.8M275.6,177.8L275.6,200.8" fill="none" stroke="#a3b9cb" stroke-width="1.5"/>
<path d="M398.5,93.1V89.8H409.4V87.6H419.5V83H427.1V78.5H434.7V61.2H449.5V47.7H452.3V41.8H455.7V35H459V32H463V29.2H467" fill="none" stroke="#d98676" stroke-width="1.9"/>
<path d="M443.8,92.8L513.2,92.8M443.8,93L449.8,93M452,93L521.2,93M452,93.2L472.5,93.2M453.9,93.4L461,93.4M453.9,93.4L502.5,93.4M450,93.7L482.1,93.7M456.8,93.7L495.9,93.7M456.8,93.8L476.2,93.8M441.1,93.9L457.6,93.9M447.5,94.3L454.5,94.3M447.5,94.7L483.1,94.7M446.1,95L495.2,95M442.8,95L469.8,95M442.8,95L459.6,95M436.3,95.1L452,95.1M453.7,95.2L502.9,95.2M463.9,95.2L516.9,95.2M463.9,95.3L478,95.3M461.2,95.7L484.2,95.7M461.2,95.7L515.6,95.7M458.9,95.8L472.8,95.8M463.5,95.9L505.4,95.9M463.5,96L467.4,96M462.4,96.2L520.6,96.2M456.8,96.4L498.4,96.4M457.3,96.5L471.9,96.5M457.3,96.5L502.7,96.5M459.8,96.7L476.2,96.7M481,96.8L501.3,96.8M481,96.8L502.5,96.8M478.8,96.9L491,96.9M478.8,96.9L511.6,96.9M468,97.2L477,97.2M468,97.3L474,97.3M447.3,97.5L469.3,97.5" fill="none" stroke="#dd9888" stroke-width="0.9"/>
<path d="M443.8,92.8L443.8,93M439.8,92.9L443.8,92.9M452,93L452,93.2M439.8,93.1L452,93.1M453.9,93.4L453.9,93.4M450,93.4L453.9,93.4M456.8,93.7L456.8,93.8M442.9,93.7L456.8,93.7M447.5,94.3L447.5,94.7M446.1,94.5L447.5,94.5M442.8,95L442.8,95M436.3,95L442.8,95M463.9,95.2L463.9,95.3M453.7,95.2L463.9,95.2M461.2,95.7L461.2,95.7M445.9,95.7L461.2,95.7M463.5,95.9L463.5,96M462.4,96L463.5,96M457.3,96.5L457.3,96.5M452.4,96.5L457.3,96.5M481,96.8L481,96.8M471.8,96.8L481,96.8M478.8,96.9L478.8,96.9M471.8,96.9L478.8,96.9M468,97.2L468,97.3M465.1,97.2L468,97.2" fill="none" stroke="#dd9888" stroke-width="1.0"/>
<path d="M439.8,92.9L439.8,93.1M434.8,93L439.8,93M450,93.4L450,93.7M442.9,93.5L450,93.5M442.9,93.5L442.9,93.7M434.8,93.6L442.9,93.6M446.1,94.5L446.1,95M441.1,94.7L446.1,94.7M441.1,93.9L441.1,94.7M431,94.3L441.1,94.3M436.3,95L436.3,95.1M426.6,95L436.3,95M453.7,95.2L453.7,95.2M426.6,95.2L453.7,95.2M462.4,96L462.4,96.2M458.9,96.1L462.4,96.1M458.9,95.8L458.9,96.1M456.8,95.9L458.9,95.9M456.8,95.9L456.8,96.4M452.4,96.2L456.8,96.2M471.8,96.8L471.8,96.9M465.1,96.9L471.8,96.9" fill="none" stroke="#dd9888" stroke-width="1.1"/>
<path d="M434.8,93L434.8,93.6M431,93.3L434.8,93.3M426.6,95L426.6,95.2M419.1,95.1L426.6,95.1M452.4,96.2L452.4,96.5M445.9,96.3L452.4,96.3M445.9,95.7L445.9,96.3M438.7,96L445.9,96M465.1,96.9L465.1,97.2M459.8,97.1L465.1,97.1M459.8,96.7L459.8,97.1M447.3,96.9L459.8,96.9M447.3,96.9L447.3,97.5M438.7,97.2L447.3,97.2" fill="none" stroke="#dd9888" stroke-width="1.2"/>
<path d="M431,93.3L431,94.3M419.1,93.8L431,93.8M419.1,93.8L419.1,95.1M411.5,94.5L419.1,94.5M438.7,96L438.7,97.2M411.5,96.6L438.7,96.6" fill="none" stroke="#dd9888" stroke-width="1.3"/>
<path d="M411.5,94.5L411.5,96.6M398.5,95.5L411.5,95.5M398.5,93.1L398.5,95.5" fill="none" stroke="#dd9888" stroke-width="1.4"/>
<path d="M452.2,88.6L517.9,88.6M452.2,88.7L476.1,88.7M449.5,88.9L468.4,88.9M452.6,88.9L500.8,88.9M452.6,89L460.4,89M481.3,89L504,89M481.3,89.4L517,89.4M468.4,89.5L489.8,89.5M458.7,89.8L483.7,89.8M449.2,90L489.4,90M462.2,90L473.3,90M462.2,90.1L512,90.1M456.4,90.2L475.6,90.2M465.4,90.2L494.2,90.2M468.6,90.3L486.1,90.3M468.6,90.4L476.8,90.4M454.7,90.6L459.5,90.6M453.7,91.1L490.4,91.1M453.4,91.2L498,91.2M453.4,91.2L474.2,91.2M435.8,91.3L514.3,91.3M435.8,91.5L448.3,91.5M459.9,91.6L477,91.6M459.9,91.6L474.3,91.6M455.4,91.7L478.9,91.7M455.4,91.9L480.8,91.9M443.2,92.1L449.8,92.1M443.2,92.3L452.1,92.3M460.4,92.3L488.1,92.3M460.4,92.4L531.9,92.4" fill="none" stroke="#dd9888" stroke-width="0.9"/>
<path d="M452.2,88.6L452.2,88.7M444.9,88.6L452.2,88.6M452.6,88.9L452.6,89M449.5,88.9L452.6,88.9M481.3,89L481.3,89.4M468.4,89.2L481.3,89.2M462.2,90L462.2,90.1M456.4,90L462.2,90M468.6,90.3L468.6,90.4M465.4,90.4L468.6,90.4M453.4,91.2L453.4,91.2M445.5,91.2L453.4,91.2M435.8,91.3L435.8,91.5M430.2,91.4L435.8,91.4M459.9,91.6L459.9,91.6M447.9,91.6L459.9,91.6M455.4,91.7L455.4,91.9M447.9,91.8L455.4,91.8M443.2,92.1L443.2,92.3M440.2,92.2L443.2,92.2M460.4,92.3L460.4,92.4M436.1,92.3L460.4,92.3" fill="none" stroke="#dd9888" stroke-width="1.0"/>
<path d="M449.5,88.9L449.5,88.9M444.9,88.9L449.5,88.9M444.9,88.6L444.9,88.9M432.3,88.8L444.9,88.8M468.4,89.2L468.4,89.5M458.7,89.4L468.4,89.4M458.7,89.4L458.7,89.8M439.3,89.6L458.7,89.6M456.4,90L456.4,90.2M452,90.1L456.4,90.1M465.4,90.2L465.4,90.4M454.7,90.3L465.4,90.3M454.7,90.3L454.7,90.6M453.7,90.5L454.7,90.5M453.7,90.5L453.7,91.1M452,90.8L453.7,90.8M447.9,91.6L447.9,91.8M440.2,91.7L447.9,91.7" fill="none" stroke="#dd9888" stroke-width="1.1"/>
<path d="M452,90.1L452,90.8M449.2,90.4L452,90.4M449.2,90L449.2,90.4M445.5,90.2L449.2,90.2M445.5,90.2L445.5,91.2M439.3,90.7L445.5,90.7M440.2,91.7L440.2,92.2M436.1,91.9L440.2,91.9M436.1,91.9L436.1,92.3M430.2,92.1L436.1,92.1M430.2,91.4L430.2,92.1M424,91.8L430.2,91.8" fill="none" stroke="#dd9888" stroke-width="1.2"/>
<path d="M439.3,89.6L439.3,90.7M432.3,90.1L439.3,90.1M432.3,88.8L432.3,90.1M424,89.4L432.3,89.4" fill="none" stroke="#dd9888" stroke-width="1.3"/>
<path d="M424,89.4L424,91.8M409.4,90.6L424,90.6M409.4,89.8L409.4,90.6" fill="none" stroke="#dd9888" stroke-width="1.4"/>
<path d="M444.9,84.6L464.2,84.6M454.5,84.7L462.4,84.7M454.5,84.9L461.5,84.9M451.1,84.9L473.4,84.9M474.3,85.1L489.2,85.1M474.3,85.1L502.1,85.1M483.3,85.4L493.6,85.4M483.3,85.5L526.2,85.5M486,85.6L497.9,85.6M486,85.6L503,85.6M474.6,85.8L498.8,85.8M453.8,86.1L466.3,86.1M454.6,86.5L458.1,86.5M454.6,86.5L493.1,86.5M468.1,86.5L480.9,86.5M468.1,86.7L508.6,86.7M456.5,87L464.4,87M443.7,87.2L475.8,87.2M450.1,87.2L491.1,87.2M451.7,87.3L459.6,87.3M451.7,87.3L473.5,87.3M446.5,87.4L449.9,87.4M446.5,87.4L483.1,87.4M444.9,87.5L495.9,87.5M444.4,87.8L458.1,87.8M444.4,87.9L491.4,87.9M442.6,88L449.6,88M460.5,88.1L494.9,88.1M460.5,88.2L488.4,88.2M462.8,88.3L472.3,88.3M462.8,88.3L479.8,88.3M460.4,88.3L494.8,88.3" fill="none" stroke="#dd9888" stroke-width="0.9"/>
<path d="M454.5,84.7L454.5,84.9M451.1,84.8L454.5,84.8M474.3,85.1L474.3,85.1M466.8,85.1L474.3,85.1M483.3,85.4L483.3,85.5M479.4,85.4L483.3,85.4M486,85.6L486,85.6M479.4,85.6L486,85.6M454.6,86.5L454.6,86.5M453.8,86.5L454.6,86.5M468.1,86.5L468.1,86.7M456.5,86.6L468.1,86.6M451.7,87.3L451.7,87.3M450.1,87.3L451.7,87.3M446.5,87.4L446.5,87.4M445.6,87.4L446.5,87.4M444.4,87.8L444.4,87.9M438,87.8L444.4,87.8M460.5,88.1L460.5,88.2M450.5,88.2L460.5,88.2M462.8,88.3L462.8,88.3M460.4,88.3L462.8,88.3" fill="none" stroke="#dd9888" stroke-width="1.0"/>
<path d="M451.1,84.8L451.1,84.9M444.9,84.9L451.1,84.9M444.9,84.6L444.9,84.9M438,84.7L444.9,84.7M479.4,85.4L479.4,85.6M474.6,85.5L479.4,85.5M474.6,85.5L474.6,85.8M466.8,85.7L474.6,85.7M453.8,86.1L453.8,86.5M452.6,86.3L453.8,86.3M456.5,86.6L456.5,87M452.6,86.8L456.5,86.8M450.1,87.2L450.1,87.3M445.6,87.3L450.1,87.3M445.6,87.3L445.6,87.4M444.9,87.3L445.6,87.3M460.4,88.3L460.4,88.3M450.5,88.3L460.4,88.3M450.5,88.2L450.5,88.3M442.6,88.2L450.5,88.2" fill="none" stroke="#dd9888" stroke-width="1.1"/>
<path d="M466.8,85.1L466.8,85.7M448.8,85.4L466.8,85.4M452.6,86.3L452.6,86.8M448.8,86.5L452.6,86.5M444.9,87.3L444.9,87.5M443.7,87.4L444.9,87.4M443.7,87.2L443.7,87.4M441.6,87.3L443.7,87.3M442.6,88L442.6,88.2M438,88.1L442.6,88.1M438,87.8L438,88.1M433.5,88L438,88" fill="none" stroke="#dd9888" stroke-width="1.2"/>
<path d="M448.8,85.4L448.8,86.5M441.6,86L448.8,86M441.6,86L441.6,87.3M438,86.6L441.6,86.6" fill="none" stroke="#dd9888" stroke-width="1.3"/>
<path d="M438,84.7L438,86.6M433.5,85.7L438,85.7M433.5,85.7L433.5,88M419.5,86.8L433.5,86.8M419.5,87.6L419.5,86.8" fill="none" stroke="#dd9888" stroke-width="1.4"/>
<path d="M448.4,79L456.4,79M458.7,79.1L468.7,79.1M458.7,79.2L502.2,79.2M453.7,79.2L497,79.2M453.7,79.3L460.1,79.3M453.7,79.5L501.1,79.5M456.1,79.6L462.5,79.6M456.1,79.9L516.1,79.9M454.2,80L473.3,80M454.2,80.3L474,80.3M457,80.5L497.2,80.5M457,80.6L463.1,80.6M454.2,80.8L500.2,80.8M454.5,81.3L460.6,81.3M454.5,81.7L470.1,81.7M447.9,81.7L501.7,81.7M463.3,81.7L488.5,81.7M463.3,81.7L489.4,81.7M451.2,81.9L454.2,81.9M457,81.9L499.3,81.9M457,82.1L470.8,82.1M450,82.1L467.7,82.1M455.8,82.2L494.2,82.2M473.8,82.2L517.5,82.2M473.8,82.4L490.8,82.4M450,82.4L499.9,82.4M450,82.6L457.2,82.6M467.2,82.8L514.7,82.8M467.2,82.8L500.7,82.8M457.4,83L496.5,83M460.7,83L468.5,83M460.7,83L509.1,83M445.3,83.3L459.5,83.3M446.3,83.6L480.9,83.6M458.1,83.7L499.4,83.7M458.1,84.2L493.2,84.2M448.2,84.2L500.3,84.2M448.2,84.3L450.3,84.3M462.8,84.4L517.5,84.4M462.8,84.4L497.1,84.4" fill="none" stroke="#dd9888" stroke-width="0.9"/>
<path d="M458.7,79.1L458.7,79.2M453.7,79.1L458.7,79.1M453.7,79.3L453.7,79.5M451.2,79.4L453.7,79.4M456.1,79.6L456.1,79.9M451.2,79.7L456.1,79.7M454.2,80L454.2,80.3M447.8,80.1L454.2,80.1M457,80.5L457,80.6M454.2,80.6L457,80.6M454.5,81.3L454.5,81.7M451.8,81.5L454.5,81.5M463.3,81.7L463.3,81.7M450.6,81.7L463.3,81.7M457,81.9L457,82.1M451.2,82L457,82M473.8,82.2L473.8,82.4M455.8,82.3L473.8,82.3M450,82.4L450,82.6M443.6,82.5L450,82.5M467.2,82.8L467.2,82.8M451.5,82.8L467.2,82.8M460.7,83L460.7,83M457.4,83L460.7,83M458.1,83.7L458.1,84.2M447,83.9L458.1,83.9M448.2,84.2L448.2,84.3M447.6,84.2L448.2,84.2M462.8,84.4L462.8,84.4M447.6,84.4L462.8,84.4" fill="none" stroke="#dd9888" stroke-width="1.0"/>
<path d="M453.7,79.1L453.7,79.2M448.4,79.2L453.7,79.2M448.4,79L448.4,79.2M446.8,79.1L448.4,79.1M451.2,79.4L451.2,79.7M446.8,79.6L451.2,79.6M454.2,80.6L454.2,80.8M451.8,80.7L454.2,80.7M451.8,80.7L451.8,81.5M447.8,81.1L451.8,81.1M451.2,81.9L451.2,82M450.6,81.9L451.2,81.9M450.6,81.7L450.6,81.9M450,81.8L450.6,81.8M455.8,82.2L455.8,82.3M446.3,82.2L455.8,82.2M457.4,83L457.4,83M451.5,83L457.4,83M451.5,82.8L451.5,83M444.5,82.9L451.5,82.9M447.6,84.2L447.6,84.4M447,84.3L447.6,84.3" fill="none" stroke="#dd9888" stroke-width="1.1"/>
<path d="M446.8,79.1L446.8,79.6M444,79.3L446.8,79.3M447.8,80.1L447.8,81.1M444,80.6L447.8,80.6M450,81.8L450,82.1M447.9,82L450,82M447.9,81.7L447.9,82M446.3,81.8L447.9,81.8M446.3,81.8L446.3,82.2M443.6,82L446.3,82M447,83.9L447,84.3M446.3,84.1L447,84.1M446.3,83.6L446.3,84.1M445.3,83.8L446.3,83.8M445.3,83.3L445.3,83.8M444.5,83.6L445.3,83.6" fill="none" stroke="#dd9888" stroke-width="1.2"/>
<path d="M444,79.3L444,80.6M438.6,80L444,80M443.6,82L443.6,82.5M441.1,82.3L443.6,82.3M444.5,82.9L444.5,83.6M441.1,83.2L444.5,83.2" fill="none" stroke="#dd9888" stroke-width="1.3"/>
<path d="M441.1,82.3L441.1,83.2M438.6,82.7L441.1,82.7M438.6,80L438.6,82.7M427.1,81.4L438.6,81.4M427.1,83L427.1,81.4" fill="none" stroke="#dd9888" stroke-width="1.4"/>
<path d="M460.8,62L469.4,62M465.7,62.3L484.2,62.3M465.7,62.3L492.3,62.3M456.6,62.4L465.1,62.4M470.5,62.4L493.6,62.4M470.5,62.5L496.5,62.5M457,62.8L462.9,62.8M453.7,62.9L457.8,62.9M453.7,63.1L509.9,63.1M452.4,63.1L462,63.1M449.2,63.2L452.8,63.2M451.1,63.2L488.9,63.2M454.7,63.2L478.6,63.2M454.7,63.4L460.5,63.4M470.3,63.5L491,63.5M470.3,63.5L479.2,63.5M467.7,63.8L529.2,63.8M457.8,64.4L500.5,64.4M460.6,64.8L490.9,64.8M461.7,64.9L467.8,64.9M461.7,64.9L489.5,64.9M455.5,65.1L459.3,65.1M474.1,65.2L491.9,65.2M474.1,65.3L488.2,65.3M469.8,65.3L495.4,65.3M449.8,65.6L489.2,65.6M449.8,65.6L451.8,65.6M456.8,65.7L516.4,65.7M462.4,65.8L509.2,65.8M463.9,65.8L481.8,65.8M463.9,65.9L467.5,65.9M459.6,65.9L492.7,65.9M461.6,66L515,66M461.6,66.2L469,66.2M457.7,66.2L462.4,66.2M457.7,66.3L509.1,66.3M461.6,66.4L489.6,66.4M461.6,66.4L467.2,66.4M459.9,66.5L489,66.5M458.4,66.6L495.9,66.6M449.3,66.6L489,66.6M460.6,66.6L486.8,66.6M460.6,66.6L500.4,66.6M451.8,66.7L481.3,66.7M451.8,66.8L455.5,66.8M449.4,67.1L488.7,67.1M450,67.2L452.1,67.2M450,67.2L462.6,67.2M473.3,67.3L499.5,67.3M473.3,67.3L517.7,67.3M462.2,67.5L470.3,67.5M462.2,67.5L500.7,67.5M458.9,67.7L503.4,67.7M458.9,67.8L476.8,67.8M454.5,67.8L485.1,67.8M454.8,67.9L479.9,67.9M454.8,68L460.5,68M454.5,68L524.4,68M455.1,68.1L458.1,68.1M455.1,68.4L463.8,68.4M471.6,68.8L516.7,68.8M471.6,69L497.8,69M455.7,69L492.5,69M461,69L480.2,69M461,69L467.8,69M466,69.2L500.5,69.2M466,69.4L478.8,69.4M463.1,69.4L492.1,69.4M463.1,69.4L476.6,69.4M452.1,69.5L456.4,69.5M449.8,69.6L477.1,69.6M454.4,69.7L485.7,69.7M456.9,69.7L462.5,69.7M456.9,69.7L498.3,69.7M451.8,69.7L497.5,69.7M453.2,69.9L457.7,69.9M453.2,70L481.5,70M454.2,70L471.3,70M454.2,70.1L515.3,70.1M461.9,70.1L477.3,70.1M461.9,70.3L471.5,70.3M459.4,70.3L470.4,70.3M451.2,70.4L473.3,70.4M460,70.4L485.8,70.4M460,70.6L472.2,70.6M452.7,70.7L518.5,70.7M452.7,70.9L458.6,70.9M464.7,71L483.1,71M464.7,71L511.8,71M464.9,71.2L472.3,71.2M468.4,71.4L490.1,71.4M470,71.4L500.2,71.4M470,71.5L473.6,71.5M479.2,71.7L493.5,71.7M479.2,71.7L511.8,71.7M447.8,71.7L475.5,71.7M448.4,71.8L478.3,71.8M449.3,71.9L472.1,71.9M449.3,71.9L450.4,71.9M449,71.9L500.6,71.9M461.8,72L492,72M461.8,72.3L481.4,72.3M461.1,72.5L478.8,72.5M466,72.5L501.4,72.5M467.9,72.6L473.4,72.6M467.9,72.9L518.3,72.9M454.3,73L478,73M455.6,73L485.3,73M462.9,73.2L480,73.2M465.1,73.4L487.1,73.4M465.1,73.4L470.6,73.4M467,73.6L489.7,73.6M467,73.7L505.6,73.7M450.7,73.8L471.5,73.8M451.3,74L482,74M452.9,74.2L455.6,74.2M453.5,74.3L512.1,74.3M453.5,74.4L456.9,74.4M458,74.4L492.3,74.4M458,74.7L466.2,74.7M452.1,74.7L468.6,74.7M453.7,75L500.6,75M453.7,75L459.4,75M449.2,75L451.2,75M458.9,75.1L497.2,75.1M458.9,75.2L469.8,75.2M448,75.4L503.5,75.4M447.3,75.6L487,75.6M454.8,75.7L530.4,75.7M454.8,75.7L463.7,75.7M457.9,75.8L465.1,75.8M460.7,75.8L485,75.8M460.7,75.9L468.2,75.9M455.4,76L506.8,76M448.8,76.1L512.5,76.1M449.1,76.1L469.6,76.1M449.4,76.3L472.8,76.3M449.7,76.4L465.8,76.4M450,76.5L502.3,76.5M450,76.7L450.8,76.7M458.3,76.7L478.8,76.7M462,77L500.7,77M462,77L476.2,77M462.7,77.1L485.6,77.1M462.7,77.2L470.3,77.2M458.4,77.3L481.9,77.3M449.9,77.5L511.9,77.5M449.9,77.5L454.7,77.5M451.8,77.5L500,77.5M451.8,77.6L454.1,77.6M451.2,77.7L474.4,77.7M464.9,77.8L504.8,77.8M464.9,78L513.5,78M448.8,78.2L501.3,78.2M463.7,78.2L500.1,78.2M466.9,78.5L484.7,78.5M466.9,78.6L475.5,78.6M472.7,78.7L489.7,78.7M472.7,78.7L505.2,78.7M456.6,78.7L471,78.7M458.6,78.7L462.8,78.7M458.6,78.8L467.2,78.8M474.4,78.8L492.9,78.8M474.4,78.8L500.9,78.8M451.9,79L465.7,79" fill="none" stroke="#dd9888" stroke-width="0.9"/>
<path d="M465.7,62.3L465.7,62.3M460.8,62.3L465.7,62.3M470.5,62.4L470.5,62.5M457,62.4L470.5,62.4M453.7,62.9L453.7,63.1M452.4,63L453.7,63M454.7,63.2L454.7,63.4M451.1,63.3L454.7,63.3M470.3,63.5L470.3,63.5M467.7,63.5L470.3,63.5M461.7,64.9L461.7,64.9M460.6,64.9L461.7,64.9M474.1,65.2L474.1,65.3M469.8,65.2L474.1,65.2M449.8,65.6L449.8,65.6M449.2,65.6L449.8,65.6M463.9,65.8L463.9,65.9M462.4,65.8L463.9,65.8M461.6,66L461.6,66.2M456.5,66.1L461.6,66.1M457.7,66.2L457.7,66.3M456.5,66.3L457.7,66.3M461.6,66.4L461.6,66.4M459.9,66.4L461.6,66.4M460.6,66.6L460.6,66.6M450.5,66.6L460.6,66.6M451.8,66.7L451.8,66.8M450.5,66.7L451.8,66.7M450,67.2L450,67.2M449.4,67.2L450,67.2M473.3,67.3L473.3,67.3M459,67.3L473.3,67.3M462.2,67.5L462.2,67.5M459,67.5L462.2,67.5M458.9,67.7L458.9,67.8M454.5,67.8L458.9,67.8M454.8,67.9L454.8,68M453.5,67.9L454.8,67.9M455.1,68.1L455.1,68.4M454.5,68.2L455.1,68.2M471.6,68.8L471.6,69M451.5,68.9L471.6,68.9M461,69L461,69M458.2,69L461,69M466,69.2L466,69.4M458.2,69.3L466,69.3M463.1,69.4L463.1,69.4M452.1,69.4L463.1,69.4M456.9,69.7L456.9,69.7M454.4,69.7L456.9,69.7M453.2,69.9L453.2,70M451.8,69.9L453.2,69.9M454.2,70L454.2,70.1M448.6,70L454.2,70M461.9,70.1L461.9,70.3M459.4,70.2L461.9,70.2M460,70.4L460,70.6M448.6,70.5L460,70.5M452.7,70.7L452.7,70.9M448.6,70.8L452.7,70.8M464.7,71L464.7,71M459.1,71L464.7,71M470,71.4L470,71.5M469.3,71.5L470,71.5M479.2,71.7L479.2,71.7M469.3,71.7L479.2,71.7M449.3,71.9L449.3,71.9M449,71.9L449.3,71.9M461.8,72L461.8,72.3M448.7,72.2L461.8,72.2M467.9,72.6L467.9,72.9M466,72.8L467.9,72.8M465.1,73.4L465.1,73.4M462.9,73.4L465.1,73.4M467,73.6L467,73.7M459.4,73.7L467,73.7M453.5,74.3L453.5,74.4M452.9,74.3L453.5,74.3M458,74.4L458,74.7M452.3,74.5L458,74.5M453.7,75L453.7,75M452.1,75L453.7,75M458.9,75.1L458.9,75.2M449.2,75.1L458.9,75.1M454.8,75.7L454.8,75.7M450.3,75.7L454.8,75.7M460.7,75.8L460.7,75.9M457.9,75.8L460.7,75.8M450,76.5L450,76.7M449.7,76.6L450,76.6M462,77L462,77M458.3,77L462,77M462.7,77.1L462.7,77.2M458.4,77.1L462.7,77.1M449.9,77.5L449.9,77.5M447.1,77.5L449.9,77.5M451.8,77.5L451.8,77.6M451.2,77.6L451.8,77.6M464.9,77.8L464.9,78M450.6,77.9L464.9,77.9M466.9,78.5L466.9,78.6M463.7,78.6L466.9,78.6M472.7,78.7L472.7,78.7M460.9,78.7L472.7,78.7M458.6,78.7L458.6,78.8M456.2,78.8L458.6,78.8M474.4,78.8L474.4,78.8M456.2,78.8L474.4,78.8" fill="none" stroke="#dd9888" stroke-width="1.0"/>
<path d="M460.8,62L460.8,62.3M456.6,62.2L460.8,62.2M456.6,62.2L456.6,62.4M454.6,62.3L456.6,62.3M457,62.4L457,62.8M454.6,62.6L457,62.6M452.4,63L452.4,63.1M451.5,63L452.4,63M451.1,63.2L451.1,63.3M449.2,63.3L451.1,63.3M449.2,63.2L449.2,63.3M448.1,63.2L449.2,63.2M467.7,63.5L467.7,63.8M457.8,63.6L467.7,63.6M457.8,63.6L457.8,64.4M452.1,64L457.8,64M460.6,64.8L460.6,64.9M454.3,64.8L460.6,64.8M469.8,65.2L469.8,65.3M455.5,65.3L469.8,65.3M455.5,65.1L455.5,65.3M454.3,65.2L455.5,65.2M462.4,65.8L462.4,65.8M459.6,65.8L462.4,65.8M459.6,65.8L459.6,65.9M456.8,65.8L459.6,65.8M456.8,65.7L456.8,65.8M449.2,65.8L456.8,65.8M456.5,66.1L456.5,66.3M453.6,66.2L456.5,66.2M459.9,66.4L459.9,66.5M458.4,66.4L459.9,66.4M458.4,66.4L458.4,66.6M453.6,66.5L458.4,66.5M450.5,66.6L450.5,66.7M449.3,66.7L450.5,66.7M449.3,66.6L449.3,66.7M447.1,66.7L449.3,66.7M449.4,67.1L449.4,67.2M448.5,67.2L449.4,67.2M459,67.3L459,67.5M448.5,67.4L459,67.4M454.5,67.8L454.5,67.8M447.9,67.8L454.5,67.8M454.5,68L454.5,68.2M453.5,68.1L454.5,68.1M453.5,67.9L453.5,68.1M451.5,68L453.5,68M458.2,69L458.2,69.3M455.7,69.2L458.2,69.2M455.7,69L455.7,69.2M449.2,69.1L455.7,69.1M452.1,69.4L452.1,69.5M449.8,69.5L452.1,69.5M449.8,69.5L449.8,69.6M445.8,69.5L449.8,69.5M454.4,69.7L454.4,69.7M450.1,69.7L454.4,69.7M451.8,69.7L451.8,69.9M450.1,69.8L451.8,69.8M459.4,70.2L459.4,70.3M451.2,70.2L459.4,70.2M451.2,70.2L451.2,70.4M446.2,70.3L451.2,70.3M448.6,70.5L448.6,70.8M445.6,70.6L448.6,70.6M469.3,71.5L469.3,71.7M468.4,71.6L469.3,71.6M468.4,71.4L468.4,71.6M464.9,71.5L468.4,71.5M449,71.9L449,71.9M448.7,71.9L449,71.9M448.7,71.9L448.7,72.2M448.4,72L448.7,72M466,72.5L466,72.8M461.1,72.6L466,72.6M461.1,72.5L461.1,72.6M454.3,72.6L461.1,72.6M454.3,72.6L454.3,73M447.2,72.8L454.3,72.8M462.9,73.2L462.9,73.4M459.4,73.3L462.9,73.3M459.4,73.3L459.4,73.7M455.6,73.5L459.4,73.5M452.9,74.2L452.9,74.3M452.3,74.3L452.9,74.3M452.3,74.3L452.3,74.5M451.3,74.4L452.3,74.4M452.1,74.7L452.1,75M448.6,74.8L452.1,74.8M449.2,75L449.2,75.1M448.6,75.1L449.2,75.1M457.9,75.8L457.9,75.8M455.4,75.8L457.9,75.8M455.4,75.8L455.4,76M450.3,75.9L455.4,75.9M449.7,76.4L449.7,76.6M449.4,76.5L449.7,76.5M449.4,76.3L449.4,76.5M449.1,76.4L449.4,76.4M449.1,76.1L449.1,76.4M448.8,76.2L449.1,76.2M458.3,76.7L458.3,77M448.3,76.8L458.3,76.8M458.4,77.1L458.4,77.3M447.7,77.2L458.4,77.2M451.2,77.6L451.2,77.7M450.6,77.6L451.2,77.6M450.6,77.6L450.6,77.9M448.8,77.8L450.6,77.8M463.7,78.2L463.7,78.6M460.9,78.4L463.7,78.4M460.9,78.4L460.9,78.7M456.6,78.5L460.9,78.5M456.2,78.8L456.2,78.8M451.9,78.8L456.2,78.8M451.9,78.8L451.9,79M449.3,78.9L451.9,78.9" fill="none" stroke="#dd9888" stroke-width="1.1"/>
<path d="M454.6,62.3L454.6,62.6M451.5,62.4L454.6,62.4M451.5,62.4L451.5,63M448.1,62.7L451.5,62.7M454.3,64.8L454.3,65.2M452.1,65L454.3,65M452.1,64L452.1,65M448.6,64.5L452.1,64.5M449.2,65.6L449.2,65.8M448.6,65.7L449.2,65.7M453.6,66.2L453.6,66.5M447.9,66.4L453.6,66.4M448.5,67.2L448.5,67.4M447.9,67.3L448.5,67.3M447.9,67.3L447.9,67.8M447.1,67.5L447.9,67.5M451.5,68L451.5,68.9M449.2,68.5L451.5,68.5M450.1,69.7L450.1,69.8M448.6,69.8L450.1,69.8M448.6,69.8L448.6,70M446.2,69.9L448.6,69.9M464.9,71.2L464.9,71.5M459.1,71.3L464.9,71.3M459.1,71L459.1,71.3M446.4,71.1L459.1,71.1M448.4,71.8L448.4,72M447.8,71.9L448.4,71.9M447.8,71.7L447.8,71.9M447.2,71.8L447.8,71.8M455.6,73L455.6,73.5M448.3,73.3L455.6,73.3M451.3,74L451.3,74.4M450.7,74.2L451.3,74.2M450.7,73.8L450.7,74.2M448.3,74L450.7,74M448.6,74.8L448.6,75.1M448,74.9L448.6,74.9M448,74.9L448,75.4M447.3,75.2L448,75.2M447.3,75.2L447.3,75.6M445.7,75.4L447.3,75.4M450.3,75.7L450.3,75.9M444.3,75.8L450.3,75.8M448.8,76.1L448.8,76.2M448.3,76.2L448.8,76.2M448.3,76.2L448.3,76.8M447.7,76.5L448.3,76.5M448.8,77.8L448.8,78.2M445.4,78L448.8,78M456.6,78.5L456.6,78.7M449.3,78.6L456.6,78.6M449.3,78.6L449.3,78.9M442.7,78.8L449.3,78.8" fill="none" stroke="#dd9888" stroke-width="1.2"/>
<path d="M448.1,62.7L448.1,63.2M446.8,63L448.1,63M448.6,64.5L448.6,65.7M447.9,65.1L448.6,65.1M447.1,66.7L447.1,67.5M445.5,67.1L447.1,67.1M449.2,68.5L449.2,69.1M445.8,68.8L449.2,68.8M445.8,68.8L445.8,69.5M441.7,69.2L445.8,69.2M446.2,69.9L446.2,70.3M442.4,70.1L446.2,70.1M447.2,71.8L447.2,72.8M446.4,72.3L447.2,72.3M446.4,71.1L446.4,72.3M445.6,71.7L446.4,71.7M448.3,73.3L448.3,74M445.7,73.6L448.3,73.6M445.7,73.6L445.7,75.4M444.4,74.5L445.7,74.5M447.7,76.5L447.7,77.2M447.1,76.9L447.7,76.9M447.1,76.9L447.1,77.5M445.4,77.2L447.1,77.2M445.4,77.2L445.4,78M444.3,77.6L445.4,77.6" fill="none" stroke="#dd9888" stroke-width="1.3"/>
<path d="M447.9,65.1L447.9,66.4M446.8,65.7L447.9,65.7M446.8,63L446.8,65.7M445.5,64.4L446.8,64.4M445.6,70.6L445.6,71.7M444.4,71.2L445.6,71.2M444.4,71.2L444.4,74.5M442.4,72.8L444.4,72.8M444.3,75.8L444.3,77.6M442.7,76.7L444.3,76.7M442.7,76.7L442.7,78.8M440.7,77.7L442.7,77.7" fill="none" stroke="#dd9888" stroke-width="1.4"/>
<path d="M445.5,64.4L445.5,67.1M441.7,65.7L445.5,65.7M441.7,65.7L441.7,69.2M437.5,67.4L441.7,67.4M442.4,70.1L442.4,72.8M440.7,71.5L442.4,71.5M440.7,71.5L440.7,77.7M437.5,74.6L440.7,74.6M437.5,67.4L437.5,74.6M434.7,71L437.5,71M434.7,78.5L434.7,71" fill="none" stroke="#dd9888" stroke-width="1.5"/>
<path d="M461.1,48.6L464.2,48.6M461.1,49.1L483.2,49.1M462.4,49.2L476.5,49.2M462.4,49.3L467.6,49.3M474.5,49.5L501.9,49.5M474.5,49.5L507.3,49.5M457.7,49.6L462.2,49.6M457.7,49.6L482.5,49.6M454.8,49.7L480.9,49.7M454.2,49.7L499.9,49.7M454.2,49.7L456.7,49.7M454.2,49.8L455.6,49.8M454.2,49.8L505.6,49.8M456.9,49.8L469.4,49.8M456.9,49.8L463.8,49.8M452.8,50L513.7,50M453.1,50.2L478.4,50.2M453.1,50.3L454.6,50.3M466,50.6L488.4,50.6M466,50.6L482.9,50.6M455.5,50.8L464.5,50.8M452.2,50.8L485.9,50.8M452.5,50.9L471.1,50.9M452.5,50.9L453.3,50.9M465.4,51L487.1,51M470.2,51L518.3,51M472.1,51L500.4,51M472.1,51.2L478.6,51.2M463.9,51.3L492.8,51.3M465,51.5L468.4,51.5M465,51.7L484.4,51.7M462.2,51.7L509.3,51.7M468,51.8L479.4,51.8M468,51.8L495.9,51.8M459.6,52L485.6,52M459.6,52L488,52M451.9,52.5L460.6,52.5M463.5,52.5L481.4,52.5M463.5,52.6L470.4,52.6M467.8,52.7L480.9,52.7M467.8,52.8L477.2,52.8M452.2,52.8L453.3,52.8M462.8,53L499.3,53M462.8,53.1L492.2,53.1M455.2,53.1L465.1,53.1M490.3,53.4L498.9,53.4M490.3,53.8L526.3,53.8M484.8,53.9L512.1,53.9M470.4,54.1L484.5,54.1M464.5,54.1L501.1,54.1M456.4,54.2L474.4,54.2M456.4,54.2L478.1,54.2M451.9,54.3L450.5,54.3M451.9,54.4L492.6,54.4M451.9,54.4L497.1,54.4M452.2,54.6L451.1,54.6M452.2,54.7L454.7,54.7M451.3,54.8L484.4,54.8M451.6,55.1L460.5,55.1M451.6,55.1L450.8,55.1M451.9,55.2L486.7,55.2M451.9,55.2L453.4,55.2M480.1,55.5L530.5,55.5M480.1,55.5L510.9,55.5M451,55.7L479.5,55.7M459.3,55.7L476.3,55.7M459.3,55.9L464.9,55.9M456,56L511,56M464.7,56.1L488.7,56.1M467.1,56.1L472.3,56.1M467.1,56.2L479.5,56.2M465.5,56.5L489.2,56.5M465.5,56.7L472.4,56.7M459,56.8L471.6,56.8M459,56.8L465.5,56.8M467.3,57L487.4,57M467.3,57.2L491.9,57.2M459.1,57.3L474.7,57.3M458.8,57.4L465.2,57.4M458.8,57.5L473.1,57.5M452.2,58L501.3,58M452.2,58.4L450.1,58.4M451.9,58.6L518.2,58.6M456.9,58.7L462.7,58.7M456.9,58.8L517.2,58.8M457.1,58.8L494.6,58.8M457.1,59L463.4,59M451.6,59.1L467.9,59.1M453.1,59.1L455.5,59.1M453.1,59.1L470.8,59.1M453,59.2L500.8,59.2M453,59.3L455,59.3M452.5,59.4L479.1,59.4M452.5,59.4L452.4,59.4M452.2,59.7L509.7,59.7M452.2,59.9L473,59.9M452.2,60L450.9,60M470.6,60.2L503.5,60.2M470.6,60.3L491.3,60.3M462.9,60.3L526.3,60.3M462.9,60.6L494.8,60.6M453.1,60.7L454.7,60.7M452.5,60.7L473,60.7M452.2,60.8L452.3,60.8M452.2,60.8L457.1,60.8M458.6,60.8L475.3,60.8M458.6,61L474,61M459,61L498.2,61M459,61.1L478.1,61.1M475,61.1L528.5,61.1M475,61.2L499.9,61.2M468.1,61.4L483.2,61.4M454.5,61.4L515.7,61.4M454.5,61.5L456.2,61.5M453.9,61.5L487,61.5M465.4,61.6L500.3,61.6M480.8,61.6L498.9,61.6M480.8,61.7L514.9,61.7M459.5,61.7L514.6,61.7M459.5,61.7L486,61.7" fill="none" stroke="#dd9888" stroke-width="0.9"/>
<path d="M461.1,48.6L461.1,49.1M459.8,48.9L461.1,48.9M462.4,49.2L462.4,49.3M459.8,49.3L462.4,49.3M474.5,49.5L474.5,49.5M457.2,49.5L474.5,49.5M457.7,49.6L457.7,49.6M454.8,49.6L457.7,49.6M454.2,49.7L454.2,49.7M453.6,49.7L454.2,49.7M454.2,49.8L454.2,49.8M453.9,49.8L454.2,49.8M456.9,49.8L456.9,49.8M453.9,49.8L456.9,49.8M453.1,50.2L453.1,50.3M452.8,50.2L453.1,50.2M466,50.6L466,50.6M455.5,50.6L466,50.6M452.5,50.9L452.5,50.9M452.2,50.9L452.5,50.9M472.1,51L472.1,51.2M470.2,51.1L472.1,51.1M465,51.5L465,51.7M463.9,51.6L465,51.6M468,51.8L468,51.8M457.2,51.8L468,51.8M459.6,52L459.6,52M451.6,52L459.6,52M463.5,52.5L463.5,52.6M460.3,52.6L463.5,52.6M467.8,52.7L467.8,52.8M460.3,52.8L467.8,52.8M462.8,53L462.8,53.1M455.2,53L462.8,53M490.3,53.4L490.3,53.8M484.8,53.6L490.3,53.6M456.4,54.2L456.4,54.2M451,54.2L456.4,54.2M451.9,54.3L451.9,54.4M451.6,54.3L451.9,54.3M452.2,54.6L452.2,54.7M451.9,54.6L452.2,54.6M451.6,55.1L451.6,55.1M451.3,55.1L451.6,55.1M451.9,55.2L451.9,55.2M451.6,55.2L451.9,55.2M480.1,55.5L480.1,55.5M451.6,55.5L480.1,55.5M459.3,55.7L459.3,55.9M456,55.8L459.3,55.8M467.1,56.1L467.1,56.2M464.7,56.2L467.1,56.2M465.5,56.5L465.5,56.7M462,56.6L465.5,56.6M459,56.8L459,56.8M455.9,56.8L459,56.8M467.3,57L467.3,57.2M459.1,57.1L467.3,57.1M458.8,57.4L458.8,57.5M455.2,57.4L458.8,57.4M452.2,58L452.2,58.4M451.9,58.2L452.2,58.2M456.9,58.7L456.9,58.8M455.1,58.8L456.9,58.8M457.1,58.8L457.1,59M455.1,58.9L457.1,58.9M453.1,59.1L453.1,59.1M452.5,59.1L453.1,59.1M453,59.2L453,59.3M452.5,59.2L453,59.2M452.5,59.4L452.5,59.4M452.2,59.4L452.5,59.4M452.2,59.9L452.2,60M451.9,60L452.2,60M470.6,60.2L470.6,60.3M452.8,60.2L470.6,60.2M462.9,60.3L462.9,60.6M453.1,60.5L462.9,60.5M452.2,60.8L452.2,60.8M451.9,60.8L452.2,60.8M458.6,60.8L458.6,61M451.9,60.9L458.6,60.9M459,61L459,61.1M452,61L459,61M475,61.1L475,61.2M468.1,61.1L475,61.1M454.5,61.4L454.5,61.5M454.2,61.4L454.5,61.4M480.8,61.6L480.8,61.7M465.4,61.7L480.8,61.7M459.5,61.7L459.5,61.7M452.6,61.7L459.5,61.7" fill="none" stroke="#dd9888" stroke-width="1.0"/>
<path d="M459.8,48.9L459.8,49.3M457.2,49.1L459.8,49.1M454.8,49.6L454.8,49.7M453.1,49.7L454.8,49.7M453.9,49.8L453.9,49.8M453.6,49.8L453.9,49.8M452.8,50L452.8,50.2M452.5,50.1L452.8,50.1M455.5,50.6L455.5,50.8M451.6,50.7L455.5,50.7M452.2,50.8L452.2,50.9M451.9,50.9L452.2,50.9M470.2,51L470.2,51.1M465.4,51L470.2,51M465.4,51L465.4,51M451.9,51L465.4,51M463.9,51.3L463.9,51.6M462.2,51.5L463.9,51.5M462.2,51.5L462.2,51.7M457.2,51.6L462.2,51.6M460.3,52.6L460.3,52.8M452.2,52.7L460.3,52.7M452.2,52.7L452.2,52.8M451.9,52.7L452.2,52.7M455.2,53L455.2,53.1M450.4,53.1L455.2,53.1M484.8,53.6L484.8,53.9M470.4,53.8L484.8,53.8M470.4,53.8L470.4,54.1M464.5,53.9L470.4,53.9M464.5,53.9L464.5,54.1M450.7,54L464.5,54M451.9,54.4L451.9,54.6M451.6,54.5L451.9,54.5M451.6,54.3L451.6,54.5M451.3,54.4L451.6,54.4M451.6,55.2L451.6,55.5M451.3,55.3L451.6,55.3M456,55.8L456,56M450.7,55.9L456,55.9M464.7,56.1L464.7,56.2M462,56.1L464.7,56.1M462,56.1L462,56.6M455.9,56.4L462,56.4M459.1,57.1L459.1,57.3M455.2,57.2L459.1,57.2M455.2,57.2L455.2,57.4M451.6,57.3L455.2,57.3M451.9,58.2L451.9,58.6M451.6,58.4L451.9,58.4M455.1,58.8L455.1,58.9M451.3,58.8L455.1,58.8M452.5,59.1L452.5,59.2M451.9,59.2L452.5,59.2M452.2,59.4L452.2,59.7M451.9,59.6L452.2,59.6M453.1,60.5L453.1,60.7M452.8,60.6L453.1,60.6M452.8,60.2L452.8,60.6M452.5,60.4L452.8,60.4M451.9,60.8L451.9,60.9M451.6,60.8L451.9,60.8M468.1,61.1L468.1,61.4M454.2,61.3L468.1,61.3M454.2,61.3L454.2,61.4M453.9,61.4L454.2,61.4M465.4,61.6L465.4,61.7M453.3,61.6L465.4,61.6" fill="none" stroke="#dd9888" stroke-width="1.1"/>
<path d="M457.2,49.1L457.2,49.5M451.9,49.3L457.2,49.3M453.6,49.7L453.6,49.8M453.1,49.8L453.6,49.8M453.1,49.7L453.1,49.8M452.5,49.7L453.1,49.7M451.9,50.9L451.9,51M451.6,50.9L451.9,50.9M451.6,50.7L451.6,50.9M451.3,50.8L451.6,50.8M457.2,51.6L457.2,51.8M451.3,51.7L457.2,51.7M451.9,52.5L451.9,52.7M451.6,52.6L451.9,52.6M451.6,52L451.6,52.6M451.3,52.3L451.6,52.3M451.3,54.4L451.3,54.8M451,54.6L451.3,54.6M451,54.2L451,54.6M450.7,54.4L451,54.4M451.3,55.1L451.3,55.3M451,55.2L451.3,55.2M451,55.2L451,55.7M450.7,55.5L451,55.5M450.7,55.5L450.7,55.9M450.4,55.7L450.7,55.7M455.9,56.4L455.9,56.8M450.7,56.6L455.9,56.6M451.6,57.3L451.6,58.4M451.3,57.8L451.6,57.8M451.9,59.2L451.9,59.6M451.6,59.4L451.9,59.4M451.6,59.1L451.6,59.4M451.3,59.2L451.6,59.2M452.5,60.4L452.5,60.7M451.9,60.6L452.5,60.6M451.9,60L451.9,60.6M451.6,60.3L451.9,60.3M453.9,61.4L453.9,61.5M453.3,61.4L453.9,61.4M453.3,61.4L453.3,61.6M452.6,61.5L453.3,61.5M452.6,61.5L452.6,61.7M452,61.6L452.6,61.6" fill="none" stroke="#dd9888" stroke-width="1.2"/>
<path d="M452.5,49.7L452.5,50.1M451.9,49.9L452.5,49.9M451.9,49.3L451.9,49.9M451.3,49.6L451.9,49.6M451.3,51.7L451.3,52.3M450.7,52L451.3,52M450.7,54L450.7,54.4M450.4,54.2L450.7,54.2M450.4,53.1L450.4,54.2M450.1,53.6L450.4,53.6M451.3,57.8L451.3,58.8M451,58.3L451.3,58.3M451.6,60.3L451.6,60.8M451.3,60.6L451.6,60.6M451.3,59.2L451.3,60.6M451,59.9L451.3,59.9M452,61L452,61.6M450.1,61.3L452,61.3" fill="none" stroke="#dd9888" stroke-width="1.3"/>
<path d="M451.3,49.6L451.3,50.8M450.7,50.2L451.3,50.2M450.7,50.2L450.7,52M450.1,51.1L450.7,51.1M451,58.3L451,59.9M450.7,59.1L451,59.1M450.7,56.6L450.7,59.1M450.4,57.9L450.7,57.9" fill="none" stroke="#dd9888" stroke-width="1.4"/>
<path d="M450.1,51.1L450.1,53.6M449.8,52.4L450.1,52.4M450.4,55.7L450.4,57.9M450.1,56.8L450.4,56.8M450.1,56.8L450.1,61.3M449.8,59.1L450.1,59.1M449.8,52.4L449.8,59.1M449.5,55.7L449.8,55.7M449.5,55.2L449.5,55.7" fill="none" stroke="#dd9888" stroke-width="1.5"/>
<path d="M480.9,42.6L502.2,42.6M480.9,42.6L498.8,42.6M466.7,43L527.8,43M455,43.2L503.5,43.2M455.3,43.3L457.2,43.3M455.3,43.3L496.3,43.3M481.2,43.4L502,43.4M481.2,43.6L490.4,43.6M472.4,43.7L501,43.7M467.8,43.8L494.9,43.8M460.6,43.9L471.3,43.9M460.6,44L473.4,44M453.8,44.1L457.9,44.1M453.8,44.3L453.7,44.3M453.5,44.8L477.8,44.8M460,45.1L473.4,45.1M469.2,45.1L483.5,45.1M469.2,45.2L502.8,45.2M457.8,45.2L481,45.2M477,45.3L519.2,45.3M480.4,45.4L498.7,45.4M480.4,45.5L495.2,45.5M459.9,45.5L461.9,45.5M459.9,46L482.2,46M461.8,46.2L468.2,46.2M461.8,46.3L490.1,46.3M467,46.3L497.9,46.3M467,46.5L502.7,46.5M455.6,46.6L457.3,46.6M459.2,46.7L474.9,46.7M459.2,47.3L470.6,47.3M455.3,47.4L482,47.4M459.7,47.5L512.8,47.5M459.7,47.5L480.7,47.5M456.3,47.6L507.3,47.6M456.3,47.6L464.8,47.6M455.6,47.6L477.6,47.6M456.2,47.7L459.4,47.7M456.2,47.7L499.9,47.7M459.4,47.8L465.7,47.8M459.4,48.2L496.2,48.2M453.8,48.2L452.3,48.2M456.9,48.4L459.9,48.4M456.9,48.4L472.8,48.4M455.9,48.5L460.9,48.5M454.6,48.5L483.9,48.5" fill="none" stroke="#dd9888" stroke-width="0.9"/>
<path d="M480.9,42.6L480.9,42.6M466.7,42.6L480.9,42.6M455.3,43.3L455.3,43.3M455,43.3L455.3,43.3M481.2,43.4L481.2,43.6M472.4,43.5L481.2,43.5M460.6,43.9L460.6,44M453.2,43.9L460.6,43.9M453.8,44.1L453.8,44.3M453.5,44.2L453.8,44.2M469.2,45.1L469.2,45.2M460,45.2L469.2,45.2M480.4,45.4L480.4,45.5M477,45.4L480.4,45.4M459.9,45.5L459.9,46M459.4,45.8L459.9,45.8M461.8,46.2L461.8,46.3M458.8,46.3L461.8,46.3M467,46.3L467,46.5M457.1,46.4L467,46.4M459.2,46.7L459.2,47.3M455.6,47L459.2,47M459.7,47.5L459.7,47.5M454.7,47.5L459.7,47.5M456.3,47.6L456.3,47.6M453.2,47.6L456.3,47.6M456.2,47.7L456.2,47.7M455.6,47.7L456.2,47.7M459.4,47.8L459.4,48.2M454.9,48L459.4,48M456.9,48.4L456.9,48.4M455.9,48.4L456.9,48.4" fill="none" stroke="#dd9888" stroke-width="1.0"/>
<path d="M466.7,42.6L466.7,43M453.8,42.8L466.7,42.8M455,43.2L455,43.3M454.4,43.3L455,43.3M472.4,43.5L472.4,43.7M467.8,43.6L472.4,43.6M467.8,43.6L467.8,43.8M454.4,43.7L467.8,43.7M453.5,44.2L453.5,44.8M453.2,44.5L453.5,44.5M453.2,43.9L453.2,44.5M452.9,44.2L453.2,44.2M460,45.1L460,45.2M456.2,45.1L460,45.1M477,45.3L477,45.4M459.4,45.4L477,45.4M459.4,45.4L459.4,45.8M458.8,45.6L459.4,45.6M455.6,46.6L455.6,47M455.3,46.8L455.6,46.8M455.3,46.8L455.3,47.4M454.7,47.1L455.3,47.1M455.6,47.6L455.6,47.7M454.9,47.7L455.6,47.7M454.9,47.7L454.9,48M453.8,47.8L454.9,47.8M455.9,48.4L455.9,48.5M454.6,48.4L455.9,48.4M454.6,48.4L454.6,48.5M453.5,48.5L454.6,48.5" fill="none" stroke="#dd9888" stroke-width="1.1"/>
<path d="M454.4,43.3L454.4,43.7M453.8,43.5L454.4,43.5M453.8,42.8L453.8,43.5M452.9,43.2L453.8,43.2M458.8,45.6L458.8,46.3M457.8,45.9L458.8,45.9M457.8,45.2L457.8,45.9M457.1,45.6L457.8,45.6M457.1,45.6L457.1,46.4M456.2,46L457.1,46M454.7,47.1L454.7,47.5M454.1,47.3L454.7,47.3M453.8,47.8L453.8,48.2M453.5,48L453.8,48M453.5,48L453.5,48.5M453.2,48.3L453.5,48.3" fill="none" stroke="#dd9888" stroke-width="1.2"/>
<path d="M452.9,43.2L452.9,44.2M452.6,43.7L452.9,43.7M456.2,45.1L456.2,46M454.1,45.5L456.2,45.5M454.1,45.5L454.1,47.3M452.9,46.4L454.1,46.4M453.2,47.6L453.2,48.3M452.9,47.9L453.2,47.9" fill="none" stroke="#dd9888" stroke-width="1.3"/>
<path d="M452.9,46.4L452.9,47.9M452.6,47.2L452.9,47.2" fill="none" stroke="#dd9888" stroke-width="1.4"/>
<path d="M452.6,43.7L452.6,47.2M452.3,45.4L452.6,45.4M452.3,45.5L452.3,45.4" fill="none" stroke="#dd9888" stroke-width="1.5"/>
<path d="M461.9,35.7L480.7,35.7M461.9,36.1L470.5,36.1M459.4,36.1L461.4,36.1M461.5,36.4L498.5,36.4M461.5,36.7L470,36.7M465.3,37.4L500.3,37.4M465.3,37.5L470.5,37.5M463,37.5L480.1,37.5M461.7,37.7L464.1,37.7M461.7,38L498.5,38M461.1,38.6L486.7,38.6M460.5,38.6L501.3,38.6M464.9,38.7L476.4,38.7M464.9,38.7L470.6,38.7M462.6,38.9L473.8,38.9M468.8,38.9L482.8,38.9M468.8,39.1L514.7,39.1M463.1,39.1L468.8,39.1M463.1,39.3L484.4,39.3M457.9,39.4L471.1,39.4M457.9,39.4L459.6,39.4M459.2,39.5L488,39.5M460,39.6L477,39.6M475.5,39.7L511.5,39.7M475.5,39.7L489.5,39.7M462.4,39.8L465.1,39.8M462.4,39.8L493.2,39.8M474.5,39.9L488.9,39.9M474.5,40L487.1,40M471.8,40.4L501.7,40.4M460.7,40.5L493.7,40.5M463.1,40.6L501.9,40.6M464.2,40.6L468.2,40.6M464.2,40.9L492.5,40.9M457.2,41L454.8,41M463,41L473.9,41M463,41.3L518.6,41.3M458.4,41.4L482.1,41.4M458.4,41.5L460.4,41.5M459.8,41.5L469.4,41.5M463,41.9L487.2,41.9M471.8,42.1L484.4,42.1M471.8,42.2L522.4,42.2M465.4,42.5L475.9,42.5" fill="none" stroke="#dd9888" stroke-width="0.9"/>
<path d="M461.9,35.7L461.9,36.1M459.4,35.9L461.9,35.9M461.5,36.4L461.5,36.7M459,36.6L461.5,36.6M465.3,37.4L465.3,37.5M463,37.4L465.3,37.4M461.7,37.7L461.7,38M461.1,37.8L461.7,37.8M464.9,38.7L464.9,38.7M462.6,38.7L464.9,38.7M468.8,38.9L468.8,39.1M460.7,39L468.8,39M463.1,39.1L463.1,39.3M460.7,39.2L463.1,39.2M457.9,39.4L457.9,39.4M457.6,39.4L457.9,39.4M475.5,39.7L475.5,39.7M461.6,39.7L475.5,39.7M462.4,39.8L462.4,39.8M461.6,39.8L462.4,39.8M474.5,39.9L474.5,40M471.8,40L474.5,40M464.2,40.6L464.2,40.9M463.1,40.8L464.2,40.8M463,41L463,41.3M457.8,41.2L463,41.2M458.4,41.4L458.4,41.5M457.8,41.5L458.4,41.5M471.8,42.1L471.8,42.2M465.4,42.2L471.8,42.2" fill="none" stroke="#dd9888" stroke-width="1.0"/>
<path d="M459.4,35.9L459.4,36.1M459,36L459.4,36M459,36L459,36.6M458.4,36.3L459,36.3M463,37.4L463,37.5M459.9,37.5L463,37.5M461.1,37.8L461.1,38.6M460.5,38.2L461.1,38.2M460.5,38.2L460.5,38.6M459.9,38.4L460.5,38.4M462.6,38.7L462.6,38.9M457.8,38.8L462.6,38.8M460.7,39L460.7,39.2M457.6,39.1L460.7,39.1M461.6,39.7L461.6,39.8M460,39.8L461.6,39.8M460,39.6L460,39.8M459.2,39.7L460,39.7M471.8,40L471.8,40.4M456.3,40.2L471.8,40.2M463.1,40.6L463.1,40.8M460.7,40.7L463.1,40.7M460.7,40.5L460.7,40.7M456.9,40.6L460.7,40.6M457.8,41.2L457.8,41.5M457.2,41.3L457.8,41.3M457.2,41L457.2,41.3M456.9,41.2L457.2,41.2M465.4,42.2L465.4,42.5M463,42.3L465.4,42.3M463,41.9L463,42.3M459.8,42.1L463,42.1M459.8,41.5L459.8,42.1M456.6,41.8L459.8,41.8" fill="none" stroke="#dd9888" stroke-width="1.1"/>
<path d="M459.9,37.5L459.9,38.4M458.4,37.9L459.9,37.9M457.6,39.1L457.6,39.4M457.3,39.3L457.6,39.3M459.2,39.5L459.2,39.7M457.3,39.6L459.2,39.6M456.9,40.6L456.9,41.2M456.6,40.9L456.9,40.9" fill="none" stroke="#dd9888" stroke-width="1.2"/>
<path d="M458.4,36.3L458.4,37.9M457.8,37.1L458.4,37.1M457.8,37.1L457.8,38.8M456.7,38L457.8,38M457.3,39.3L457.3,39.6M456.7,39.4L457.3,39.4M456.6,40.9L456.6,41.8M456.3,41.4L456.6,41.4M456.3,40.2L456.3,41.4M456,40.8L456.3,40.8" fill="none" stroke="#dd9888" stroke-width="1.3"/>
<path d="M456.7,38L456.7,39.4M456,38.7L456.7,38.7M456,38.7L456,40.8M455.7,39.7L456,39.7M455.7,39L455.7,39.7" fill="none" stroke="#dd9888" stroke-width="1.4"/>
<path d="M469.2,26.6L481.4,26.6M469.2,26.6L484.5,26.6M469,26.9L472,26.9M469,27.1L481.8,27.1M468,27.4L475.7,27.4M461.9,27.4L463.9,27.4M465,27.6L491,27.6M467.9,27.8L475.7,27.8M467.9,27.9L472.6,27.9M464,28.1L467.8,28.1M466.6,28.5L470,28.5M466.6,28.5L483.7,28.5M465.5,28.6L488.2,28.6M477.2,28.6L489,28.6M477.2,29.1L499.1,29.1M473.9,29.3L479.9,29.3M473.9,29.3L499.1,29.3M477,29.7L489.2,29.7M477,30.1L484.6,30.1M472.6,30.4L476.5,30.4M474,30.4L479.9,30.4M479.2,30.5L487.8,30.5M479.2,30.5L486.3,30.5M473,30.9L476.2,30.9M473,31.1L484,31.1M468.3,31.4L475.1,31.4M468.3,31.6L479.6,31.6M466.7,31.9L486.6,31.9M469.1,31.9L472.6,31.9M477.7,32L485.7,32M477.7,32.2L490.9,32.2M475.2,32.6L520.6,32.6M471.3,32.7L483.3,32.7M471.3,32.7L474.3,32.7M470.6,32.8L501.3,32.8M469.9,33.3L515.8,33.3M465.4,33.4L470.7,33.4M465.2,33.4L479.3,33.4M466.4,33.5L470,33.5M467.3,33.6L469.2,33.6M467.3,33.8L499.2,33.8M467,33.8L505.3,33.8M467.9,34L474,34M467.9,34.1L496.3,34.1M474.4,34.7L518.2,34.7M474.4,35L491.9,35M472.7,35.4L513.5,35.4M472.7,35.5L483.5,35.5" fill="none" stroke="#dd9888" stroke-width="0.9"/>
<path d="M469.2,26.6L469.2,26.6M466.2,26.6L469.2,26.6M469,26.9L469,27.1M468,27L469,27M467.9,27.8L467.9,27.9M465,27.9L467.9,27.9M466.6,28.5L466.6,28.5M465.5,28.5L466.6,28.5M477.2,28.6L477.2,29.1M465.6,28.8L477.2,28.8M473.9,29.3L473.9,29.3M471.4,29.3L473.9,29.3M477,29.7L477,30.1M472.6,29.9L477,29.9M479.2,30.5L479.2,30.5M474,30.5L479.2,30.5M473,30.9L473,31.1M471.8,31L473,31M468.3,31.4L468.3,31.6M466.7,31.5L468.3,31.5M477.7,32L477.7,32.2M475.2,32.1L477.7,32.1M471.3,32.7L471.3,32.7M470.6,32.7L471.3,32.7M467.3,33.6L467.3,33.8M467,33.7L467.3,33.7M467.9,34L467.9,34.1M465.8,34.1L467.9,34.1M474.4,34.7L474.4,35M468,34.8L474.4,34.8M472.7,35.4L472.7,35.5M468,35.4L472.7,35.4" fill="none" stroke="#dd9888" stroke-width="1.0"/>
<path d="M468,27L468,27.4M466.2,27.2L468,27.2M466.2,26.6L466.2,27.2M461.9,26.9L466.2,26.9M465,27.6L465,27.9M462.3,27.7L465,27.7M465.5,28.5L465.5,28.6M464,28.6L465.5,28.6M464,28.1L464,28.6M462.3,28.3L464,28.3M472.6,29.9L472.6,30.4M471.4,30.1L472.6,30.1M471.4,29.3L471.4,30.1M468.8,29.7L471.4,29.7M474,30.4L474,30.5M471.8,30.4L474,30.4M471.8,30.4L471.8,31M468.8,30.7L471.8,30.7M466.7,31.5L466.7,31.9M463.6,31.7L466.7,31.7M475.2,32.1L475.2,32.6M469.1,32.4L475.2,32.4M469.1,31.9L469.1,32.4M467.8,32.1L469.1,32.1M470.6,32.7L470.6,32.8M469.9,32.7L470.6,32.7M469.9,32.7L469.9,33.3M467.8,33L469.9,33M467,33.7L467,33.8M466.4,33.8L467,33.8M466.4,33.5L466.4,33.8M465.8,33.6L466.4,33.6M468,34.8L468,35.4M462.2,35.1L468,35.1" fill="none" stroke="#dd9888" stroke-width="1.1"/>
<path d="M461.9,26.9L461.9,27.4M461.3,27.2L461.9,27.2M462.3,27.7L462.3,28.3M461.3,28L462.3,28M468.8,29.7L468.8,30.7M465.6,30.2L468.8,30.2M467.8,32.1L467.8,33M465.4,32.6L467.8,32.6M465.4,32.6L465.4,33.4M464.6,33L465.4,33M465.8,33.6L465.8,34.1M465.2,33.8L465.8,33.8M465.2,33.4L465.2,33.8M464.6,33.6L465.2,33.6" fill="none" stroke="#dd9888" stroke-width="1.2"/>
<path d="M461.3,27.2L461.3,28M460.7,27.6L461.3,27.6M465.6,28.8L465.6,30.2M460.7,29.5L465.6,29.5M464.6,33L464.6,33.6M463.6,33.3L464.6,33.3M463.6,31.7L463.6,33.3M462.2,32.5L463.6,32.5" fill="none" stroke="#dd9888" stroke-width="1.3"/>
<path d="M460.7,27.6L460.7,29.5M460.1,28.6L460.7,28.6M462.2,32.5L462.2,35.1M460.1,33.8L462.2,33.8" fill="none" stroke="#dd9888" stroke-width="1.4"/>
<path d="M460.1,28.6L460.1,33.8M459,31.2L460.1,31.2M459,31L459,31.2" fill="none" stroke="#dd9888" stroke-width="1.5"/>
<path d="M385.6,96.7L411.4,96.7M387.2,96.9L422.9,96.9M387.2,97.2L390.8,97.2M386.6,97.2L424.8,97.2M384.8,97.4L423.4,97.4M385.3,97.4L391.2,97.4M385.3,97.5L393,97.5M401.3,97.5L442,97.5M401.3,97.5L454,97.5M389,97.5L395,97.5M389,97.6L413.4,97.6M388.2,97.7L423.4,97.7M388.2,97.8L400.5,97.8M393.5,97.9L407.9,97.9M393.5,98.1L431,98.1M384.6,98.4L394.6,98.4M387.9,98.5L391.8,98.5M387.9,98.5L413.9,98.5M388.9,98.8L427.4,98.8M388.9,98.9L394.7,98.9M387.8,100.1L391.9,100.1M386.1,100.5L397,100.5M392.8,100.7L414.8,100.7M392.8,100.9L409.4,100.9M385.9,100.9L389.4,100.9M385.9,101L393.6,101M386.4,101L390.8,101M386.4,101.1L429.1,101.1M402.8,101.7L415.8,101.7M402.8,101.8L429.8,101.8M400.6,102.5L413,102.5M403.4,102.7L424.9,102.7M403.4,102.9L413,102.9M384.4,103.3L401.9,103.3M384.4,103.3L395,103.3M385.4,103.4L405.9,103.4M385.4,103.8L395.6,103.8M383.7,104.1L405.7,104.1M394.7,104.1L420.4,104.1M394.7,104.4L415.7,104.4M391.4,104.4L398.8,104.4M391.4,104.5L438,104.5M415.5,104.5L452,104.5M415.5,104.5L460,104.5M404.3,104.5L466,104.5M389.5,104.7L408.9,104.7M395.1,105.1L422,105.1M395.1,105.3L412.5,105.3M390.4,105.7L398.9,105.7M390.4,105.8L391.5,105.8M390.4,105.8L391.7,105.8M390.4,106L407.8,106M389,106.2L424.3,106.2M388.4,106.4L412.4,106.4M391.4,106.4L418.5,106.4M393.4,106.5L399.5,106.5M397.8,107L407.4,107M397.8,107L433,107M387.4,107.3L391.7,107.3M387.4,107.5L421.5,107.5M386.4,107.5L391.9,107.5M385.1,107.7L413,107.7M398.8,107.9L426.5,107.9M405,108.1L425.9,108.1M405,108.4L429.1,108.4M390.4,109L396.5,109M390.4,109.3L430.6,109.3M388.7,109.5L422.5,109.5M386.7,109.8L409.2,109.8M386.7,109.9L389.9,109.9M386,110.1L431.3,110.1M399.7,110.3L410.8,110.3M399.7,110.4L432.3,110.4M392.5,110.9L432.7,110.9M384.5,111.4L402.2,111.4M386.3,111.5L417.4,111.5M390.6,111.8L415.4,111.8M390.6,112L398.9,112M388.1,112L424.8,112M388.4,112.1L404.7,112.1M388.4,112.2L390.4,112.2M386.9,112.2L422.5,112.2M399.6,112.4L417.7,112.4M399.6,112.6L419.7,112.6M391.8,112.6L419.3,112.6M391.8,112.9L395.2,112.9M390.9,113L406,113M390.8,113.1L415.6,113.1M397.7,113.7L413.9,113.7M397.7,113.9L427.6,113.9M392.7,114.9L400.9,114.9M388.6,115.5L393.2,115.5M393.2,115.6L415.4,115.6M393.2,115.7L417.3,115.7M387.5,115.7L403.2,115.7M388.3,115.9L415.1,115.9M389.5,115.9L415.4,115.9M390.1,116L393.1,116M390.1,116.4L399.3,116.4M391.6,116.5L407.3,116.5M391.6,116.5L399.7,116.5M388.3,116.8L396.1,116.8M388.9,116.9L415.5,116.9M388.9,117.8L391.9,117.8M386.7,117.9L429.9,117.9M387.9,118.3L391.7,118.3M387.9,118.5L415.4,118.5M396.1,119.4L423.8,119.4M397,120.5L413.1,120.5M399.1,120.5L417.4,120.5M400,120.9L403.9,120.9M400,121L411.3,121M396.5,121.2L416.7,121.2M396.5,121.2L405.3,121.2M402.6,121.6L421.8,121.6M402.6,122L433.1,122" fill="none" stroke="#d5b48e" stroke-width="1.4"/>
<path d="M387.2,96.9L387.2,97.2M386.6,97L387.2,97M386.6,97L386.6,97.2M385.6,97.1L386.6,97.1M385.3,97.4L385.3,97.5M382.8,97.5L385.3,97.5M401.3,97.5L401.3,97.5M387.3,97.5L401.3,97.5M389,97.5L389,97.6M388.2,97.6L389,97.6M388.2,97.6L388.2,97.7M387.3,97.7L388.2,97.7M393.5,97.9L393.5,98.1M388.2,98L393.5,98M388.2,97.8L388.2,98M384.4,97.9L388.2,97.9M387.9,98.5L387.9,98.5M387.2,98.5L387.9,98.5M388.9,98.8L388.9,98.9M387.8,98.9L388.9,98.9M387.8,98.9L387.8,100.1M387.2,99.5L387.8,99.5M392.8,100.7L392.8,100.9M385.2,100.8L392.8,100.8M385.9,100.9L385.9,101M385.2,101L385.9,101M386.4,101L386.4,101.1M385.3,101.1L386.4,101.1M402.8,101.7L402.8,101.8M395.8,101.7L402.8,101.7M403.4,102.7L403.4,102.9M400.6,102.8L403.4,102.8M400.6,102.5L400.6,102.8M395.8,102.6L400.6,102.6M384.4,103.3L384.4,103.3M382.5,103.3L384.4,103.3M385.4,103.4L385.4,103.8M383.7,103.6L385.4,103.6M383.7,103.6L383.7,104.1M380.6,103.8L383.7,103.8M394.7,104.1L394.7,104.4M388.1,104.2L394.7,104.2M391.4,104.4L391.4,104.5M388.1,104.5L391.4,104.5M415.5,104.5L415.5,104.5M404.3,104.5L415.5,104.5M404.3,104.5L404.3,104.5M386.2,104.5L404.3,104.5M395.1,105.1L395.1,105.3M389.8,105.2L395.1,105.2M390.4,105.7L390.4,105.8M390.1,105.8L390.4,105.8M390.4,105.8L390.4,106M390.1,105.9L390.4,105.9M397.8,107L397.8,107M393.4,107L397.8,107M393.4,106.5L393.4,107M391.4,106.8L393.4,106.8M387.4,107.3L387.4,107.5M386.4,107.4L387.4,107.4M386.4,107.4L386.4,107.5M385.1,107.5L386.4,107.5M405,108.1L405,108.4M398.8,108.3L405,108.3M398.8,107.9L398.8,108.3M385.8,108.1L398.8,108.1M390.4,109L390.4,109.3M388.7,109.2L390.4,109.2M388.7,109.2L388.7,109.5M385.8,109.3L388.7,109.3M386.7,109.8L386.7,109.9M386,109.9L386.7,109.9M386,109.9L386,110.1M385.4,110L386,110M399.7,110.3L399.7,110.4M392.5,110.4L399.7,110.4M392.5,110.4L392.5,110.9M385.4,110.6L392.5,110.6M390.6,111.8L390.6,112M387.5,111.9L390.6,111.9M388.4,112.1L388.4,112.2M388.1,112.1L388.4,112.1M388.1,112L388.1,112.1M387.5,112.1L388.1,112.1M399.6,112.4L399.6,112.6M389.4,112.5L399.6,112.5M391.8,112.6L391.8,112.9M390.9,112.7L391.8,112.7M390.9,112.7L390.9,113M389.4,112.9L390.9,112.9M397.7,113.7L397.7,113.9M392.7,113.8L397.7,113.8M392.7,113.8L392.7,114.9M390.8,114.4L392.7,114.4M393.2,115.6L393.2,115.7M388.6,115.6L393.2,115.6M388.6,115.5L388.6,115.6M387.5,115.6L388.6,115.6M390.1,116L390.1,116.4M389.5,116.2L390.1,116.2M389.5,115.9L389.5,116.2M388.9,116.1L389.5,116.1M391.6,116.5L391.6,116.5M388.9,116.5L391.6,116.5M388.9,116.9L388.9,117.8M388.3,117.4L388.9,117.4M388.3,116.8L388.3,117.4M387.7,117.1L388.3,117.1M387.9,118.3L387.9,118.5M386.7,118.4L387.9,118.4M386.7,117.9L386.7,118.4M385.2,118.2L386.7,118.2M400,120.9L400,121M399.1,120.9L400,120.9M399.1,120.5L399.1,120.9M397,120.7L399.1,120.7M396.5,121.2L396.5,121.2M394.7,121.2L396.5,121.2M402.6,121.6L402.6,122M389.3,121.8L402.6,121.8" fill="none" stroke="#d5b48e" stroke-width="1.5"/>
<path d="M385.6,96.7L385.6,97.1M384.8,96.9L385.6,96.9M384.8,96.9L384.8,97.4M382.8,97.2L384.8,97.2M382.8,97.2L382.8,97.5M381.1,97.3L382.8,97.3M387.3,97.5L387.3,97.7M384.4,97.6L387.3,97.6M384.4,97.6L384.4,97.9M382.7,97.7L384.4,97.7M387.2,98.5L387.2,99.5M386.1,99L387.2,99M386.1,99L386.1,100.5M384.6,99.7L386.1,99.7M384.6,98.4L384.6,99.7M382.7,99.1L384.6,99.1M385.2,100.8L385.2,101M383.5,100.9L385.2,100.9M395.8,101.7L395.8,102.6M385.3,102.2L395.8,102.2M385.3,101.1L385.3,102.2M383.5,101.6L385.3,101.6M388.1,104.2L388.1,104.5M384.8,104.3L388.1,104.3M390.1,105.8L390.1,105.9M389.8,105.8L390.1,105.8M389.8,105.2L389.8,105.8M389.5,105.5L389.8,105.5M389.5,104.7L389.5,105.5M389,105.1L389.5,105.1M389,105.1L389,106.2M388.4,105.6L389,105.6M391.4,106.4L391.4,106.8M387.5,106.6L391.4,106.6M385.1,107.5L385.1,107.7M382.4,107.6L385.1,107.6M385.8,108.1L385.8,109.3M383.3,108.7L385.8,108.7M385.4,110L385.4,110.6M384.5,110.3L385.4,110.3M384.5,110.3L384.5,111.4M383.3,110.9L384.5,110.9M387.5,111.9L387.5,112.1M386.9,112L387.5,112M386.9,112L386.9,112.2M386.3,112.1L386.9,112.1M386.3,111.5L386.3,112.1M384.6,111.8L386.3,111.8M389.4,112.5L389.4,112.9M388.2,112.7L389.4,112.7M390.8,113.1L390.8,114.4M388.2,113.7L390.8,113.7M387.5,115.6L387.5,115.7M386.7,115.7L387.5,115.7M388.9,116.1L388.9,116.5M388.3,116.3L388.9,116.3M388.3,115.9L388.3,116.3M387.7,116.1L388.3,116.1M397,120.5L397,120.7M396.1,120.6L397,120.6M396.1,119.4L396.1,120.6M394.7,120L396.1,120M394.7,120L394.7,121.2M389.3,120.6L394.7,120.6" fill="none" stroke="#d5b48e" stroke-width="1.6"/>
<path d="M382.7,97.7L382.7,99.1M381.1,98.4L382.7,98.4M383.5,100.9L383.5,101.6M382.5,101.3L383.5,101.3M382.5,101.3L382.5,103.3M380.6,102.3L382.5,102.3M388.4,105.6L388.4,106.4M387.5,106L388.4,106M387.5,106L387.5,106.6M386.2,106.3L387.5,106.3M383.3,108.7L383.3,110.9M381.4,109.8L383.3,109.8M388.2,112.7L388.2,113.7M386.7,113.2L388.2,113.2M386.7,113.2L386.7,115.7M385.8,114.4L386.7,114.4M387.7,116.1L387.7,117.1M385.8,116.6L387.7,116.6M389.3,120.6L389.3,121.8M385.2,121.2L389.3,121.2M385.2,118.2L385.2,121.2M383,119.7L385.2,119.7" fill="none" stroke="#d5b48e" stroke-width="1.7"/>
<path d="M381.1,97.3L381.1,98.4M375.4,97.9L381.1,97.9M380.6,102.3L380.6,103.8M375.4,103.1L380.6,103.1M386.2,104.5L386.2,106.3M384.8,105.4L386.2,105.4M384.8,104.3L384.8,105.4M382.4,104.9L384.8,104.9M382.4,104.9L382.4,107.6M379.5,106.2L382.4,106.2M385.8,114.4L385.8,116.6M384.6,115.5L385.8,115.5M384.6,111.8L384.6,115.5M383,113.6L384.6,113.6" fill="none" stroke="#d5b48e" stroke-width="1.8"/>
<path d="M375.4,97.9L375.4,103.1M372.9,100.5L375.4,100.5M383,113.6L383,119.7M381.4,116.7L383,116.7M381.4,109.8L381.4,116.7M379.5,113.2L381.4,113.2M379.5,106.2L379.5,113.2M372.9,109.7L379.5,109.7M372.9,100.5L372.9,109.7M364.2,105.1L372.9,105.1M364.2,114.3L364.2,105.1" fill="none" stroke="#d5b48e" stroke-width="1.9"/>
<path d="M353.4,129.5H360.4V119.4H364.2V114.3" fill="none" stroke="#d5b48e" stroke-width="1.6"/>
<path d="M360.4,119.4V135.9H382" fill="none" stroke="#d5b48e" stroke-width="1.6"/>
<path d="M398.4,121L483,121M398.4,121.1L401.5,121.1M397.7,121.2L442.5,121.2M399.9,121.5L406.7,121.5M399.9,121.6L436.2,121.6M402.6,121.7L454.9,121.7M402.6,121.9L408.9,121.9M417.3,121.9L461.5,121.9M417.3,122L428.2,122M409.3,122.3L468.1,122.3M403.9,122.3L468.9,122.3M403.9,122.4L410,122.4M400.3,122.5L421.6,122.5M414.1,122.6L462.9,122.6M414.1,122.6L452.3,122.6M401.3,123.1L404.5,123.1M400.5,123.3L469.2,123.3M403.8,123.9L426,123.9M403.8,123.9L455.8,123.9M410.8,123.9L418.8,123.9M410.8,124.4L460.9,124.4M410.9,124.6L442.7,124.6M410.9,124.7L425,124.7M407,125.3L467.2,125.3M413.7,125.3L455.5,125.3M416.3,125.6L460.8,125.6M416.3,126L422.8,126M406.3,126.4L463.7,126.4M408.1,127.3L430,127.3M408.7,127.3L410.7,127.3M408.7,127.3L423.4,127.3M407.5,127.4L445,127.4M404,127.7L436.5,127.7M426.9,127.7L477.9,127.7M437.8,128L476,128M437.8,128.4L470,128.4M407.7,128.8L415.2,128.8M407.7,129L423.8,129M403.6,129.3L472.4,129.3M397.7,129.3L452.9,129.3M399.3,129.7L450.3,129.7M401,129.7L404.6,129.7M407.8,130.5L428.8,130.5M407.8,130.6L467.3,130.6M406.9,130.6L417.6,130.6M406.9,130.6L448.6,130.6M397.4,130.7L467.1,130.7M398.3,130.8L426.8,130.8M398.6,130.9L461.3,130.9M398.6,131.1L399.1,131.1M398,131.1L419.8,131.1M397.7,131.2L448.4,131.2M397.1,131.5L454.9,131.5M405.3,132L433.3,132M405.3,132.2L463.8,132.2M428.9,132.2L459.7,132.2M428.9,132.3L468.6,132.3M422,132.4L471.6,132.4M422,132.4L463.4,132.4M401.9,132.4L460.7,132.4M402.5,132.8L405,132.8M402.5,132.9L416.9,132.9M407.8,133L464.2,133M407.8,133.3L421.4,133.3M400.9,133.4L403.3,133.4M400.9,133.6L468.1,133.6M407.1,133.7L421.5,133.7M407.1,133.7L417.7,133.7M408.9,134.1L431.4,134.1M415.9,134.1L466.9,134.1M418.9,134.2L429.4,134.2M418.9,134.2L423,134.2M426.2,134.7L478.2,134.7M426.2,134.7L460,134.7M412.5,135L460.3,135M401.4,135.1L430.7,135.1M402.3,135.7L460,135.7M402.3,135.7L405.5,135.7M398.8,135.8L403,135.8M400.9,136L405.3,136M403.8,136.2L410,136.2M403.8,136.9L414.1,136.9M411.4,136.9L427.3,136.9M411.4,137.2L469,137.2M404.4,137.4L448.7,137.4M404.4,137.4L414,137.4M395.9,137.4L446.2,137.4" fill="none" stroke="#d5b48e" stroke-width="1.3"/>
<path d="M398.4,121L398.4,121.1M397.7,121.1L398.4,121.1M399.9,121.5L399.9,121.6M398.7,121.6L399.9,121.6M402.6,121.7L402.6,121.9M398.7,121.8L402.6,121.8M417.3,121.9L417.3,122M409.3,122L417.3,122M403.9,122.3L403.9,122.4M402.7,122.4L403.9,122.4M414.1,122.6L414.1,122.6M401.3,122.6L414.1,122.6M403.8,123.9L403.8,123.9M398.6,123.9L403.8,123.9M410.8,123.9L410.8,124.4M406.5,124.2L410.8,124.2M410.9,124.6L410.9,124.7M406.5,124.7L410.9,124.7M416.3,125.6L416.3,126M413.7,125.8L416.3,125.8M408.7,127.3L408.7,127.3M408.1,127.3L408.7,127.3M437.8,128L437.8,128.4M426.9,128.2L437.8,128.2M407.7,128.8L407.7,129M403.6,128.9L407.7,128.9M407.8,130.5L407.8,130.6M401,130.5L407.8,130.5M406.9,130.6L406.9,130.6M400,130.6L406.9,130.6M398.6,130.9L398.6,131.1M398.3,131L398.6,131M405.3,132L405.3,132.2M396.8,132.1L405.3,132.1M428.9,132.2L428.9,132.3M400.3,132.3L428.9,132.3M422,132.4L422,132.4M401.3,132.4L422,132.4M402.5,132.8L402.5,132.9M401.9,132.8L402.5,132.8M407.8,133L407.8,133.3M400.3,133.2L407.8,133.2M400.9,133.4L400.9,133.6M400.3,133.5L400.9,133.5M407.1,133.7L407.1,133.7M400.1,133.7L407.1,133.7M418.9,134.2L418.9,134.2M417.7,134.2L418.9,134.2M426.2,134.7L426.2,134.7M417.7,134.7L426.2,134.7M402.3,135.7L402.3,135.7M401.4,135.7L402.3,135.7M403.8,136.2L403.8,136.9M400.9,136.6L403.8,136.6M411.4,136.9L411.4,137.2M402.2,137.1L411.4,137.1M404.4,137.4L404.4,137.4M402.2,137.4L404.4,137.4" fill="none" stroke="#d5b48e" stroke-width="1.4"/>
<path d="M397.7,121.1L397.7,121.2M397.1,121.1L397.7,121.1M398.7,121.6L398.7,121.8M397.1,121.7L398.7,121.7M409.3,122L409.3,122.3M402.7,122.1L409.3,122.1M402.7,122.1L402.7,122.4M400.3,122.2L402.7,122.2M401.3,122.6L401.3,123.1M400.5,122.8L401.3,122.8M400.5,122.8L400.5,123.3M398.6,123L400.5,123M406.5,124.2L406.5,124.7M403.3,124.4L406.5,124.4M413.7,125.3L413.7,125.8M407,125.6L413.7,125.6M407,125.3L407,125.6M403.3,125.4L407,125.4M408.1,127.3L408.1,127.3M407.5,127.3L408.1,127.3M407.5,127.3L407.5,127.4M406.3,127.4L407.5,127.4M406.3,126.4L406.3,127.4M404,126.9L406.3,126.9M426.9,127.7L426.9,128.2M402.6,127.9L426.9,127.9M403.6,128.9L403.6,129.3M398.5,129.1L403.6,129.1M401,129.7L401,130.5M400,130.1L401,130.1M400,130.1L400,130.6M399.3,130.4L400,130.4M398.3,130.8L398.3,131M398,130.9L398.3,130.9M398,130.9L398,131.1M397.7,131L398,131M397.7,131L397.7,131.2M397.4,131.1L397.7,131.1M401.9,132.4L401.9,132.8M401.3,132.6L401.9,132.6M401.3,132.4L401.3,132.6M400.3,132.5L401.3,132.5M400.3,133.2L400.3,133.5M399.3,133.3L400.3,133.3M417.7,134.2L417.7,134.7M415.9,134.4L417.7,134.4M415.9,134.1L415.9,134.4M412.5,134.3L415.9,134.3M401.4,135.1L401.4,135.7M400.8,135.4L401.4,135.4M400.9,136L400.9,136.6M398.8,136.3L400.9,136.3M398.8,135.8L398.8,136.3M397.5,136.1L398.8,136.1M402.2,137.1L402.2,137.4M397.5,137.2L402.2,137.2" fill="none" stroke="#d5b48e" stroke-width="1.5"/>
<path d="M397.1,121.1L397.1,121.7M396.3,121.4L397.1,121.4M400.3,122.2L400.3,122.5M396.3,122.4L400.3,122.4M398.6,123L398.6,123.9M395.2,123.5L398.6,123.5M403.3,124.4L403.3,125.4M392.3,124.9L403.3,124.9M404,126.9L404,127.7M402.6,127.3L404,127.3M402.6,127.3L402.6,127.9M398.5,127.6L402.6,127.6M399.3,129.7L399.3,130.4M397.7,130L399.3,130M397.7,129.3L397.7,130M395.3,129.7L397.7,129.7M397.4,130.7L397.4,131.1M397.1,130.9L397.4,130.9M397.1,130.9L397.1,131.5M396.8,131.2L397.1,131.2M396.8,131.2L396.8,132.1M396.2,131.6L396.8,131.6M400.3,132.3L400.3,132.5M399.3,132.4L400.3,132.4M399.3,132.4L399.3,133.3M398.7,132.9L399.3,132.9M412.5,134.3L412.5,135M408.9,134.6L412.5,134.6M408.9,134.1L408.9,134.6M400.8,134.4L408.9,134.4M400.8,134.4L400.8,135.4M400.1,134.9L400.8,134.9M397.5,136.1L397.5,137.2M395.9,136.6L397.5,136.6M395.9,136.6L395.9,137.4M393.7,137L395.9,137" fill="none" stroke="#d5b48e" stroke-width="1.6"/>
<path d="M396.3,121.4L396.3,122.4M395.2,121.9L396.3,121.9M395.2,121.9L395.2,123.5M392.3,122.7L395.2,122.7M398.5,127.6L398.5,129.1M391,128.3L398.5,128.3M400.1,133.7L400.1,134.9M398.7,134.3L400.1,134.3" fill="none" stroke="#d5b48e" stroke-width="1.7"/>
<path d="M392.3,122.7L392.3,124.9M385.8,123.8L392.3,123.8M398.7,132.9L398.7,134.3M396.2,133.6L398.7,133.6M396.2,131.6L396.2,133.6M395.3,132.6L396.2,132.6M395.3,129.7L395.3,132.6M393.7,131.1L395.3,131.1M393.7,131.1L393.7,137M391,134.1L393.7,134.1M391,128.3L391,134.1M385.8,131.2L391,131.2M385.8,123.8L385.8,131.2M382,127.5L385.8,127.5M382,135.9L382,127.5" fill="none" stroke="#d5b48e" stroke-width="1.8"/>
<path d="M417.4,158.7V152.5H479.5V150.2H491.8V138.6H508" fill="none" stroke="#d5b48e" stroke-width="1.6"/>
<path d="M491.8,141.4H506.6" fill="none" stroke="#d5b48e" stroke-width="1.5"/>
<path d="M491.8,144.1H504.1" fill="none" stroke="#d5b48e" stroke-width="1.5"/>
<path d="M491.8,146.8H505.2" fill="none" stroke="#d5b48e" stroke-width="1.5"/>
<path d="M479.5,152.5V156.4" fill="none" stroke="#d5b48e" stroke-width="1.4"/>
<path d="M479.5,154.3H506.5" fill="none" stroke="#d5b48e" stroke-width="1.4"/>
<path d="M479.5,156.4H505.4" fill="none" stroke="#d5b48e" stroke-width="1.4"/>
<path d="M491.8,150.2H505" fill="none" stroke="#d5b48e" stroke-width="1.4"/>
<path d="M516.7,134.8L523.5,134.8M516.7,135.2L520.2,135.2M515.6,135.9L522.6,135.9M514.6,136L523.6,136M514.6,136.3L518.9,136.3M514.1,136.4L520.1,136.4M514.1,136.8L516.1,136.8M512.7,136.9L515.8,136.9M514,137L528.5,137M514.8,137.1L518.1,137.1M516.1,137.2L518.3,137.2M516.1,137.9L521.9,137.9M515.5,138.1L530,138.1M512.6,138.6L522,138.6M513.4,139.3L525.4,139.3M513.7,139.5L515.1,139.5M513.7,139.8L530.5,139.8M515.7,139.8L520.6,139.8M515.7,139.9L527.7,139.9M511.1,140.5L513.1,140.5M511.1,140.6L531.8,140.6M510.7,141L520.6,141M510.1,141.1L522.1,141.1M509.7,141.2L514.8,141.2M509.7,141.4L532.3,141.4M508.8,141.5L525.5,141.5M511.2,141.6L514.8,141.6M511.2,141.6L524.5,141.6M509.4,141.7L528.2,141.7M509.7,142L510.8,142M509.7,142.1L518.7,142.1M508.4,142.1L513.6,142.1M506.5,142.9L527.6,142.9M506.8,143L508.2,143M507.1,143.1L527.5,143.1M507.7,143.6L507.4,143.6M507.7,143.6L525.1,143.6M507.4,143.7L510,143.7M509.2,143.7L512.4,143.7M511.8,144.2L528.1,144.2M512.4,144.4L533.2,144.4M512.4,144.4L514.7,144.4M514.3,144.5L533.3,144.5M514.3,144.6L520.1,144.6M508,144.8L511,144.8M508.6,144.9L528.4,144.9M513.2,144.9L521.5,144.9M513.2,146.1L516.4,146.1M511.5,146.3L523,146.3M508.9,146.3L510.3,146.3M508.3,146.3L519.8,146.3M508.2,146.4L519.8,146.4M512.3,146.4L519.2,146.4M512.3,146.5L532.7,146.5M508.5,146.7L509.9,146.7M509.2,146.8L511.2,146.8M509.2,146.8L525.7,146.8M510.8,147.3L514.2,147.3M510.8,147.4L531,147.4M508.3,147.6L522.7,147.6M508,148.1L524.8,148.1M508,148.4L509.4,148.4M507.1,148.4L507.1,148.4M507.1,148.6L512,148.6M509.2,148.6L513,148.6M509.2,149.2L532.9,149.2M506.5,149.3L515.1,149.3M512.2,149.4L520.7,149.4M512.2,149.9L534.1,149.9M507.7,149.9L509.9,149.9M507.4,150.4L506.8,150.4M508,150.4L508,150.4M508,150.6L529.5,150.6M515,150.8L522,150.8M515,151L530.2,151M507.1,151.2L521.5,151.2M507.1,151.3L509.1,151.3M507.7,151.5L507.3,151.5M507.7,151.5L514.6,151.5M507.4,151.6L522.1,151.6M507.1,151.7L511,151.7M512.3,151.7L524.6,151.7M512.3,152.1L526.3,152.1M507.5,152.4L510.5,152.4M507.5,152.8L509.2,152.8M512.4,152.8L519.3,152.8M512.4,153L518.2,153M510.3,153L514.7,153M510.3,153.1L515.8,153.1M507.1,153.1L504.2,153.1M507.1,153.3L519.4,153.3M513.1,153.4L526.1,153.4M515.1,153.4L521.4,153.4M515.1,153.4L520.3,153.4M508.5,153.6L511.2,153.6M508.5,153.6L531,153.6M507.7,153.6L509.7,153.6M507.9,153.7L517.3,153.7M507.9,153.7L510.7,153.7M507.1,153.7L510.5,153.7M507.1,153.8L503.2,153.8M506.8,154.1L517.3,154.1M507.1,154.5L516,154.5M507.4,154.6L527.8,154.6M507.4,154.8L502,154.8M506.8,155.2L522,155.2M507.1,155.4L509.7,155.4M507.1,155.4L516.2,155.4M508.3,155.6L510.9,155.6M511.6,155.9L519.6,155.9M511.6,156.3L521.6,156.3M511.2,156.5L528.1,156.5M511.2,156.6L514.1,156.6M515.7,156.7L530.4,156.7M515.7,156.9L530.4,156.9M507.7,156.9L520.9,156.9M508,157.4L508.5,157.4M508,157.6L524.5,157.6M507.4,157.8L522.9,157.8M511.5,158.1L522.3,158.1M511.5,158.1L527.3,158.1M507.4,158.2L509.3,158.2M507.7,158.2L525.6,158.2M507.7,158.5L503,158.5M511.9,158.6L520,158.6M511.9,158.9L517.4,158.9M510.8,158.9L513.8,158.9M513,159.3L516.7,159.3M513,159.5L522.3,159.5M507.4,159.6L506.3,159.6M507.4,159.7L523,159.7M507.4,159.8L518,159.8M507.7,160L521.9,160M507.7,160.6L503.6,160.6" fill="none" stroke="#d5b48e" stroke-width="1.0"/>
<path d="M516.7,134.8L516.7,135.2M515.6,135L516.7,135M515.6,135L515.6,135.9M512.7,135.5L515.6,135.5M514.6,136L514.6,136.3M513.5,136.2L514.6,136.2M514.1,136.4L514.1,136.8M513.5,136.6L514.1,136.6M516.1,137.2L516.1,137.9M515.5,137.5L516.1,137.5M515.5,137.5L515.5,138.1M514.8,137.8L515.5,137.8M513.7,139.5L513.7,139.8M513.4,139.6L513.7,139.6M513.4,139.3L513.4,139.6M513.1,139.5L513.4,139.5M515.7,139.8L515.7,139.9M513.1,139.9L515.7,139.9M511.1,140.5L511.1,140.6M510.7,140.6L511.1,140.6M510.7,140.6L510.7,141M510.1,140.8L510.7,140.8M509.7,141.2L509.7,141.4M507.8,141.3L509.7,141.3M511.2,141.6L511.2,141.6M509.1,141.6L511.2,141.6M509.7,142L509.7,142.1M509.4,142.1L509.7,142.1M509.4,141.7L509.4,142.1M509.1,141.9L509.4,141.9M507.7,143.6L507.7,143.6M507.4,143.6L507.7,143.6M507.4,143.6L507.4,143.7M507.1,143.6L507.4,143.6M512.4,144.4L512.4,144.4M511.8,144.4L512.4,144.4M511.8,144.2L511.8,144.4M511.1,144.3L511.8,144.3M514.3,144.5L514.3,144.6M511.1,144.5L514.3,144.5M513.2,144.9L513.2,146.1M511.5,145.5L513.2,145.5M511.5,145.5L511.5,146.3M508.9,145.9L511.5,145.9M512.3,146.4L512.3,146.5M508.5,146.5L512.3,146.5M508.5,146.5L508.5,146.7M508.2,146.6L508.5,146.6M509.2,146.8L509.2,146.8M508.9,146.8L509.2,146.8M510.8,147.3L510.8,147.4M508.9,147.4L510.8,147.4M508,148.1L508,148.4M507.7,148.2L508,148.2M507.1,148.4L507.1,148.6M506.8,148.5L507.1,148.5M509.2,148.6L509.2,149.2M506.8,148.9L509.2,148.9M512.2,149.4L512.2,149.9M507.7,149.7L512.2,149.7M507.7,149.7L507.7,149.9M507.1,149.8L507.7,149.8M508,150.4L508,150.6M507.7,150.5L508,150.5M515,150.8L515,151M507.7,150.9L515,150.9M507.1,151.2L507.1,151.3M506.8,151.3L507.1,151.3M507.7,151.5L507.7,151.5M507.4,151.5L507.7,151.5M507.4,151.5L507.4,151.6M507.1,151.6L507.4,151.6M512.3,151.7L512.3,152.1M507.2,151.9L512.3,151.9M507.5,152.4L507.5,152.8M507.2,152.6L507.5,152.6M512.4,152.8L512.4,153M509.3,152.9L512.4,152.9M510.3,153L510.3,153.1M509.3,153L510.3,153M507.1,153.1L507.1,153.3M506.8,153.2L507.1,153.2M515.1,153.4L515.1,153.4M513.1,153.4L515.1,153.4M513.1,153.4L513.1,153.4M506.8,153.4L513.1,153.4M508.5,153.6L508.5,153.6M507.7,153.6L508.5,153.6M507.7,153.6L507.7,153.6M507.1,153.6L507.7,153.6M507.9,153.7L507.9,153.7M507.1,153.7L507.9,153.7M507.1,153.7L507.1,153.8M506.8,153.7L507.1,153.7M506.8,153.7L506.8,154.1M506.5,153.9L506.8,153.9M507.4,154.6L507.4,154.8M507.1,154.7L507.4,154.7M507.1,154.5L507.1,154.7M506.8,154.6L507.1,154.6M507.1,155.4L507.1,155.4M506.5,155.4L507.1,155.4M511.6,155.9L511.6,156.3M508.3,156.1L511.6,156.1M508.3,155.6L508.3,156.1M507.7,155.9L508.3,155.9M511.2,156.5L511.2,156.6M510.2,156.5L511.2,156.5M515.7,156.7L515.7,156.9M510.2,156.8L515.7,156.8M508,157.4L508,157.6M507.7,157.5L508,157.5M507.7,156.9L507.7,157.5M507.4,157.2L507.7,157.2M511.5,158.1L511.5,158.1M507.1,158.1L511.5,158.1M507.7,158.2L507.7,158.5M507.4,158.4L507.7,158.4M507.4,158.2L507.4,158.4M507.1,158.3L507.4,158.3M511.9,158.6L511.9,158.9M509.8,158.7L511.9,158.7M513,159.3L513,159.5M510.8,159.4L513,159.4M510.8,158.9L510.8,159.4M509.8,159.2L510.8,159.2M507.4,159.6L507.4,159.7M507.1,159.7L507.4,159.7M507.7,160L507.7,160.6M507.4,160.3L507.7,160.3M507.4,159.8L507.4,160.3M507.1,160.1L507.4,160.1" fill="none" stroke="#d5b48e" stroke-width="1.1"/>
<path d="M513.5,136.2L513.5,136.6M512.7,136.4L513.5,136.4M512.7,135.5L512.7,136.4M510.9,135.9L512.7,135.9M514.8,137.1L514.8,137.8M514,137.5L514.8,137.5M514,137L514,137.5M512.7,137.2L514,137.2M512.7,136.9L512.7,137.2M512,137L512.7,137M513.1,139.5L513.1,139.9M512.6,139.7L513.1,139.7M512.6,138.6L512.6,139.7M512,139.2L512.6,139.2M510.1,140.8L510.1,141.1M509.2,140.9L510.1,140.9M509.1,141.6L509.1,141.9M508.8,141.7L509.1,141.7M508.8,141.5L508.8,141.7M508.4,141.6L508.8,141.6M508.4,141.6L508.4,142.1M507.8,141.9L508.4,141.9M507.1,143.1L507.1,143.6M506.8,143.4L507.1,143.4M506.8,143L506.8,143.4M506.5,143.2L506.8,143.2M506.5,142.9L506.5,143.2M506.2,143.1L506.5,143.1M511.1,144.3L511.1,144.5M509.2,144.4L511.1,144.4M509.2,143.7L509.2,144.4M508,144L509.2,144M508,144L508,144.8M506.9,144.4L508,144.4M508.9,145.9L508.9,146.3M508.6,146.1L508.9,146.1M508.6,144.9L508.6,146.1M508.3,145.5L508.6,145.5M508.3,145.5L508.3,146.3M507.9,145.9L508.3,145.9M508.2,146.4L508.2,146.6M507.9,146.5L508.2,146.5M508.9,146.8L508.9,147.4M508.3,147.1L508.9,147.1M508.3,147.1L508.3,147.6M507.7,147.3L508.3,147.3M507.7,147.3L507.7,148.2M507.4,147.8L507.7,147.8M506.8,148.5L506.8,148.9M506.5,148.7L506.8,148.7M506.5,148.7L506.5,149.3M506.2,149L506.5,149M507.7,150.5L507.7,150.9M507.4,150.7L507.7,150.7M507.4,150.4L507.4,150.7M507.1,150.6L507.4,150.6M507.1,149.8L507.1,150.6M506.8,150.2L507.1,150.2M507.1,151.6L507.1,151.7M506.8,151.6L507.1,151.6M507.2,151.9L507.2,152.6M506.8,152.2L507.2,152.2M506.8,151.6L506.8,152.2M506.5,151.9L506.8,151.9M509.3,152.9L509.3,153M506.5,153L509.3,153M506.8,153.2L506.8,153.4M506.5,153.3L506.8,153.3M507.1,153.6L507.1,153.7M506.5,153.7L507.1,153.7M506.5,153.7L506.5,153.9M506.2,153.8L506.5,153.8M506.8,154.6L506.8,155.2M506.5,154.9L506.8,154.9M506.5,154.9L506.5,155.4M506.2,155.2L506.5,155.2M510.2,156.5L510.2,156.8M507.7,156.7L510.2,156.7M507.7,155.9L507.7,156.7M506.8,156.3L507.7,156.3M507.4,157.2L507.4,157.8M507.1,157.5L507.4,157.5M507.1,157.5L507.1,158.1M506.8,157.8L507.1,157.8M509.8,158.7L509.8,159.2M507.1,158.9L509.8,158.9M507.1,158.3L507.1,158.9M506.8,158.6L507.1,158.6M507.1,159.7L507.1,160.1M506.8,159.9L507.1,159.9" fill="none" stroke="#d5b48e" stroke-width="1.2"/>
<path d="M512,137L512,139.2M510.9,138.1L512,138.1M510.9,135.9L510.9,138.1M509.2,137L510.9,137M507.8,141.3L507.8,141.9M506.9,141.6L507.8,141.6M507.9,145.9L507.9,146.5M507.4,146.2L507.9,146.2M507.4,146.2L507.4,147.8M506.9,147L507.4,147M506.8,150.2L506.8,151.3M506.5,150.7L506.8,150.7M506.5,150.7L506.5,151.9M506.2,151.3L506.5,151.3M506.5,153L506.5,153.3M506.2,153.1L506.5,153.1M506.2,153.1L506.2,153.8M505.9,153.5L506.2,153.5M506.8,156.3L506.8,157.8M506.5,157L506.8,157M506.8,158.6L506.8,159.9M506.5,159.2L506.8,159.2" fill="none" stroke="#d5b48e" stroke-width="1.3"/>
<path d="M509.2,137L509.2,140.9M506.9,139L509.2,139M506.9,139L506.9,141.6M505.3,140.3L506.9,140.3M506.9,144.4L506.9,147M506.2,145.7L506.9,145.7M506.2,143.1L506.2,145.7M505.9,144.4L506.2,144.4M506.2,149L506.2,151.3M505.9,150.2L506.2,150.2M506.5,157L506.5,159.2M506.2,158.1L506.5,158.1M506.2,155.2L506.2,158.1M505.9,156.7L506.2,156.7M505.9,153.5L505.9,156.7M505.6,155.1L505.9,155.1" fill="none" stroke="#d5b48e" stroke-width="1.4"/>
<path d="M505.9,144.4L505.9,150.2M505.6,147.3L505.9,147.3M505.6,147.3L505.6,155.1M505.3,151.2L505.6,151.2M505.3,140.3L505.3,151.2M505,145.7L505.3,145.7M505,147L505,145.7" fill="none" stroke="#d5b48e" stroke-width="1.5"/>
<path d="M417.4,158.7H502" fill="none" stroke="#d5b48e" stroke-width="1.3"/>
<path d="M376.8,159.9L396,159.9M382.6,160.1L391.1,160.1M387.4,160.3L395.5,160.3M390.2,160.7L400.2,160.7M390.2,160.7L421.2,160.7M379.7,160.7L386.7,160.7M379.7,161L404.2,161M375.1,161.6L427.2,161.6M375.7,161.6L376.8,161.6M375.7,161.7L413.9,161.7M378.4,161.9L398.1,161.9M378.4,161.9L393.8,161.9M400.2,162.4L427.2,162.4M400.2,162.6L425.3,162.6M389.4,162.8L414,162.8M392.4,162.9L412.9,162.9M392.4,163L419.3,163M397,163L418.5,163M397,163.1L401.9,163.1M394.9,163.2L414,163.2M392.1,164.3L427,164.3M386.7,164.5L408.9,164.5M386.7,165L403.9,165M377.6,165.6L415.2,165.6M377.6,165.7L379.7,165.7M382.7,165.7L408.4,165.7M387.1,165.9L424.7,165.9M387.1,165.9L396.9,165.9" fill="none" stroke="#d5b48e" stroke-width="0.9"/>
<path d="M390.2,160.7L390.2,160.7M387.4,160.7L390.2,160.7M379.7,160.7L379.7,161M374.5,160.9L379.7,160.9M375.7,161.6L375.7,161.7M375.1,161.6L375.7,161.6M378.4,161.9L378.4,161.9M373.9,161.9L378.4,161.9M400.2,162.4L400.2,162.6M389.4,162.5L400.2,162.5M392.4,162.9L392.4,163M385.7,163L392.4,163M397,163L397,163.1M394.9,163.1L397,163.1M386.7,164.5L386.7,165M375.3,164.7L386.7,164.7M377.6,165.6L377.6,165.7M377,165.6L377.6,165.6M387.1,165.9L387.1,165.9M382.7,165.9L387.1,165.9" fill="none" stroke="#d5b48e" stroke-width="1.0"/>
<path d="M387.4,160.3L387.4,160.7M382.6,160.5L387.4,160.5M375.1,161.6L375.1,161.6M374.5,161.6L375.1,161.6M389.4,162.5L389.4,162.8M381.3,162.6L389.4,162.6M394.9,163.1L394.9,163.2M392.1,163.1L394.9,163.1M382.7,165.7L382.7,165.9M377,165.8L382.7,165.8" fill="none" stroke="#d5b48e" stroke-width="1.1"/>
<path d="M382.6,160.1L382.6,160.5M376.8,160.3L382.6,160.3M376.8,159.9L376.8,160.3M370.8,160.1L376.8,160.1M374.5,160.9L374.5,161.6M373.9,161.2L374.5,161.2M392.1,163.1L392.1,164.3M385.7,163.7L392.1,163.7M385.7,163L385.7,163.7M381.3,163.3L385.7,163.3M377,165.6L377,165.8M375.3,165.7L377,165.7" fill="none" stroke="#d5b48e" stroke-width="1.2"/>
<path d="M373.9,161.2L373.9,161.9M373.3,161.6L373.9,161.6M381.3,162.6L381.3,163.3M373.3,163L381.3,163M375.3,164.7L375.3,165.7M372.4,165.2L375.3,165.2" fill="none" stroke="#d5b48e" stroke-width="1.3"/>
<path d="M373.3,161.6L373.3,163M372.4,162.3L373.3,162.3" fill="none" stroke="#d5b48e" stroke-width="1.4"/>
<path d="M372.4,162.3L372.4,165.2M370.8,163.8L372.4,163.8M370.8,160.1L370.8,163.8M368,161.9L370.8,161.9M368,164.7L368,161.9" fill="none" stroke="#d5b48e" stroke-width="1.5"/>
<g fill="#2f7fe3"><circle cx="245" cy="208.3" r="1.6"/></g>
<g fill="#16ade9"><circle cx="387.2" cy="166.1" r="1.75"/><circle cx="329.3" cy="166.5" r="1.75"/><circle cx="387.1" cy="166.6" r="1.75"/><circle cx="315.6" cy="166.7" r="1.75"/><circle cx="332.6" cy="166.7" r="1.75"/><circle cx="343" cy="166.8" r="1.75"/><circle cx="328.1" cy="166.8" r="1.75"/><circle cx="382.5" cy="167" r="1.75"/><circle cx="352.8" cy="167.2" r="1.75"/><circle cx="351.8" cy="167.4" r="1.75"/><circle cx="353" cy="167.5" r="1.75"/><circle cx="386" cy="167.7" r="1.75"/><circle cx="324.9" cy="167.7" r="1.75"/><circle cx="404.1" cy="167.8" r="1.75"/><circle cx="346.2" cy="167.9" r="1.75"/><circle cx="357" cy="168" r="1.75"/><circle cx="403.6" cy="168.2" r="1.75"/><circle cx="329.2" cy="168.6" r="1.75"/><circle cx="370.3" cy="168.7" r="1.75"/><circle cx="347.7" cy="168.8" r="1.75"/><circle cx="368.9" cy="169.2" r="1.75"/><circle cx="348.6" cy="169.2" r="1.75"/><circle cx="342.1" cy="169.3" r="1.75"/><circle cx="346.4" cy="169.3" r="1.75"/><circle cx="344.9" cy="169.6" r="1.75"/><circle cx="334.3" cy="169.6" r="1.75"/><circle cx="345.4" cy="169.7" r="1.75"/><circle cx="355.4" cy="169.8" r="1.75"/><circle cx="323.7" cy="169.9" r="1.75"/><circle cx="380.5" cy="169.9" r="1.75"/><circle cx="353.5" cy="170.2" r="1.75"/><circle cx="348.1" cy="170.4" r="1.75"/><circle cx="337.3" cy="170.6" r="1.75"/><circle cx="322.6" cy="170.7" r="1.75"/><circle cx="384.1" cy="171" r="1.75"/><circle cx="375" cy="171.1" r="1.75"/><circle cx="343.1" cy="171.5" r="1.75"/><circle cx="373.9" cy="171.9" r="1.75"/><circle cx="342.8" cy="172.1" r="1.75"/><circle cx="378.6" cy="172.3" r="1.75"/><circle cx="327.2" cy="172.8" r="1.75"/><circle cx="325.1" cy="173.4" r="1.75"/><circle cx="363.7" cy="173.5" r="1.75"/><circle cx="332.7" cy="173.7" r="1.75"/><circle cx="333.8" cy="173.8" r="1.75"/><circle cx="333.2" cy="173.8" r="1.75"/><circle cx="345.5" cy="173.9" r="1.75"/><circle cx="350" cy="174" r="1.75"/><circle cx="340.7" cy="174" r="1.75"/><circle cx="427.5" cy="174.1" r="1.75"/><circle cx="391.4" cy="174.3" r="1.75"/><circle cx="314.3" cy="174.3" r="1.75"/><circle cx="355.8" cy="174.3" r="1.75"/><circle cx="317.3" cy="174.5" r="1.75"/><circle cx="388.8" cy="174.6" r="1.75"/><circle cx="348.5" cy="174.6" r="1.75"/><circle cx="364.5" cy="174.7" r="1.75"/><circle cx="325.8" cy="174.9" r="1.75"/><circle cx="370.7" cy="175.1" r="1.75"/><circle cx="350.6" cy="175.2" r="1.75"/><circle cx="355.7" cy="175.3" r="1.75"/><circle cx="347" cy="175.3" r="1.75"/><circle cx="393.1" cy="175.3" r="1.75"/><circle cx="340.5" cy="175.3" r="1.75"/><circle cx="325.4" cy="175.7" r="1.75"/><circle cx="318.5" cy="175.9" r="1.75"/><circle cx="364.2" cy="175.9" r="1.75"/><circle cx="385.7" cy="176.1" r="1.75"/><circle cx="376.2" cy="176.2" r="1.75"/><circle cx="315.1" cy="176.3" r="1.75"/><circle cx="343.7" cy="176.6" r="1.75"/><circle cx="346.7" cy="176.7" r="1.75"/><circle cx="336.3" cy="176.9" r="1.75"/><circle cx="374.2" cy="176.9" r="1.75"/><circle cx="326.2" cy="177.1" r="1.75"/><circle cx="315.2" cy="177.2" r="1.75"/><circle cx="382.8" cy="177.2" r="1.75"/><circle cx="372.7" cy="177.3" r="1.75"/><circle cx="390.2" cy="177.3" r="1.75"/><circle cx="318.6" cy="177.7" r="1.75"/><circle cx="359" cy="178.2" r="1.75"/><circle cx="346.7" cy="178.6" r="1.75"/><circle cx="323.8" cy="178.9" r="1.75"/><circle cx="344.5" cy="179.3" r="1.75"/><circle cx="316.3" cy="179.5" r="1.75"/><circle cx="354.1" cy="179.8" r="1.75"/><circle cx="381.9" cy="179.9" r="1.75"/><circle cx="387.7" cy="179.9" r="1.75"/><circle cx="345.8" cy="180.2" r="1.75"/><circle cx="316.2" cy="180.3" r="1.75"/><circle cx="365.9" cy="180.3" r="1.75"/><circle cx="313.7" cy="180.4" r="1.75"/><circle cx="354.1" cy="180.4" r="1.75"/><circle cx="396.8" cy="180.7" r="1.75"/><circle cx="355.1" cy="180.9" r="1.75"/><circle cx="386.9" cy="181" r="1.75"/><circle cx="372.9" cy="181" r="1.75"/><circle cx="332.4" cy="181.2" r="1.75"/><circle cx="354.6" cy="181.5" r="1.75"/><circle cx="366.1" cy="181.6" r="1.75"/><circle cx="343.1" cy="181.6" r="1.75"/><circle cx="354.7" cy="181.6" r="1.75"/><circle cx="330.4" cy="181.9" r="1.75"/><circle cx="341.8" cy="181.9" r="1.75"/><circle cx="393.5" cy="182" r="1.75"/><circle cx="322.3" cy="182.2" r="1.75"/><circle cx="351.7" cy="182.4" r="1.75"/><circle cx="360.4" cy="182.4" r="1.75"/><circle cx="337.8" cy="182.9" r="1.75"/><circle cx="375.6" cy="182.9" r="1.75"/><circle cx="396.1" cy="182.9" r="1.75"/><circle cx="382.9" cy="183" r="1.75"/><circle cx="361.3" cy="183.1" r="1.75"/><circle cx="355.5" cy="183.1" r="1.75"/><circle cx="367" cy="183.4" r="1.75"/><circle cx="393.2" cy="183.4" r="1.75"/><circle cx="320.3" cy="183.6" r="1.75"/><circle cx="353.5" cy="183.7" r="1.75"/><circle cx="390.6" cy="184" r="1.75"/><circle cx="354" cy="184.1" r="1.75"/><circle cx="345.6" cy="184.3" r="1.75"/><circle cx="339.3" cy="184.3" r="1.75"/><circle cx="348.6" cy="184.5" r="1.75"/><circle cx="354.5" cy="184.5" r="1.75"/><circle cx="341.5" cy="184.6" r="1.75"/><circle cx="389.6" cy="184.9" r="1.75"/><circle cx="331.2" cy="185" r="1.75"/><circle cx="363.4" cy="185.1" r="1.75"/><circle cx="353.7" cy="185.2" r="1.75"/><circle cx="353.7" cy="185.7" r="1.75"/><circle cx="390" cy="185.7" r="1.75"/><circle cx="349.5" cy="185.8" r="1.75"/><circle cx="315.3" cy="185.8" r="1.75"/><circle cx="355.8" cy="186.1" r="1.75"/><circle cx="350.1" cy="186.2" r="1.75"/><circle cx="338.8" cy="186.3" r="1.75"/><circle cx="400.4" cy="186.4" r="1.75"/><circle cx="375.8" cy="186.4" r="1.75"/><circle cx="328.6" cy="186.4" r="1.75"/><circle cx="401.8" cy="186.4" r="1.75"/><circle cx="334.8" cy="186.5" r="1.75"/><circle cx="321.4" cy="186.7" r="1.75"/><circle cx="386.1" cy="186.8" r="1.75"/><circle cx="343.7" cy="186.9" r="1.75"/><circle cx="315.2" cy="187" r="1.75"/><circle cx="344.7" cy="187.5" r="1.75"/><circle cx="349.9" cy="187.5" r="1.75"/><circle cx="387.3" cy="187.6" r="1.75"/><circle cx="390.5" cy="187.6" r="1.75"/><circle cx="430" cy="187.7" r="1.75"/><circle cx="344.4" cy="187.8" r="1.75"/><circle cx="351.2" cy="187.9" r="1.75"/><circle cx="400.1" cy="187.9" r="1.75"/><circle cx="372.1" cy="188" r="1.75"/><circle cx="394.2" cy="188.1" r="1.75"/><circle cx="386.3" cy="188.2" r="1.75"/><circle cx="352.3" cy="188.3" r="1.75"/><circle cx="319.4" cy="188.4" r="1.75"/><circle cx="339.4" cy="188.4" r="1.75"/><circle cx="338" cy="188.4" r="1.75"/><circle cx="387" cy="188.5" r="1.75"/><circle cx="372" cy="188.6" r="1.75"/><circle cx="367.4" cy="188.7" r="1.75"/><circle cx="381.8" cy="188.8" r="1.75"/><circle cx="349.6" cy="188.9" r="1.75"/><circle cx="345.1" cy="188.9" r="1.75"/><circle cx="325.1" cy="188.9" r="1.75"/><circle cx="332.5" cy="189" r="1.75"/><circle cx="322" cy="189" r="1.75"/><circle cx="403.8" cy="189.1" r="1.75"/><circle cx="346.9" cy="189.3" r="1.75"/><circle cx="327.8" cy="189.5" r="1.75"/><circle cx="316.8" cy="189.6" r="1.75"/><circle cx="389.6" cy="189.8" r="1.75"/><circle cx="371.1" cy="189.8" r="1.75"/><circle cx="371.4" cy="189.9" r="1.75"/><circle cx="377" cy="190.3" r="1.75"/><circle cx="329.8" cy="190.4" r="1.75"/><circle cx="344.5" cy="190.4" r="1.75"/><circle cx="324.6" cy="190.4" r="1.75"/><circle cx="346.4" cy="190.5" r="1.75"/><circle cx="313.5" cy="190.5" r="1.75"/><circle cx="340.9" cy="190.6" r="1.75"/><circle cx="328.9" cy="190.9" r="1.75"/><circle cx="336.6" cy="190.9" r="1.75"/><circle cx="347.2" cy="191.3" r="1.75"/><circle cx="319" cy="191.4" r="1.75"/><circle cx="351.6" cy="191.4" r="1.75"/><circle cx="320.7" cy="191.9" r="1.75"/><circle cx="332.9" cy="192.2" r="1.75"/><circle cx="349.3" cy="192.2" r="1.75"/><circle cx="317.6" cy="192.3" r="1.75"/><circle cx="340.5" cy="192.3" r="1.75"/><circle cx="341.1" cy="192.5" r="1.75"/><circle cx="354.6" cy="192.6" r="1.75"/><circle cx="346.7" cy="192.6" r="1.75"/><circle cx="367.3" cy="192.7" r="1.75"/><circle cx="329.5" cy="192.8" r="1.75"/><circle cx="355.7" cy="192.9" r="1.75"/><circle cx="359.4" cy="193.1" r="1.75"/><circle cx="338.6" cy="193.2" r="1.75"/><circle cx="316.7" cy="193.3" r="1.75"/><circle cx="340.7" cy="193.4" r="1.75"/><circle cx="339.4" cy="193.4" r="1.75"/><circle cx="361.9" cy="193.4" r="1.75"/><circle cx="373.3" cy="193.5" r="1.75"/><circle cx="345.1" cy="193.7" r="1.75"/><circle cx="386.7" cy="193.7" r="1.75"/><circle cx="360.2" cy="193.8" r="1.75"/><circle cx="350.1" cy="193.8" r="1.75"/><circle cx="356.5" cy="193.9" r="1.75"/><circle cx="331.5" cy="194" r="1.75"/><circle cx="329.6" cy="194.3" r="1.75"/><circle cx="344.8" cy="194.3" r="1.75"/><circle cx="356.9" cy="194.4" r="1.75"/><circle cx="392.2" cy="194.5" r="1.75"/><circle cx="336.5" cy="194.7" r="1.75"/><circle cx="325.2" cy="194.8" r="1.75"/><circle cx="324.5" cy="195.1" r="1.75"/><circle cx="340.8" cy="195.4" r="1.75"/><circle cx="320.5" cy="195.5" r="1.75"/><circle cx="333.9" cy="195.8" r="1.75"/><circle cx="347.1" cy="195.8" r="1.75"/><circle cx="316.1" cy="195.8" r="1.75"/><circle cx="371.7" cy="196" r="1.75"/><circle cx="336.7" cy="196.1" r="1.75"/><circle cx="319.2" cy="196.1" r="1.75"/><circle cx="319.3" cy="196.2" r="1.75"/><circle cx="380.5" cy="196.5" r="1.75"/><circle cx="393.1" cy="196.5" r="1.75"/><circle cx="349.2" cy="196.6" r="1.75"/><circle cx="323.1" cy="196.8" r="1.75"/><circle cx="368.1" cy="196.8" r="1.75"/><circle cx="330.7" cy="196.8" r="1.75"/><circle cx="326.6" cy="196.8" r="1.75"/><circle cx="368.6" cy="196.9" r="1.75"/><circle cx="362.2" cy="196.9" r="1.75"/><circle cx="325" cy="197.1" r="1.75"/><circle cx="334.1" cy="197.2" r="1.75"/><circle cx="323" cy="197.3" r="1.75"/><circle cx="328" cy="197.4" r="1.75"/><circle cx="317.3" cy="197.6" r="1.75"/><circle cx="335.5" cy="197.8" r="1.75"/><circle cx="318" cy="197.9" r="1.75"/><circle cx="384.9" cy="198.1" r="1.75"/><circle cx="339.5" cy="198.6" r="1.75"/><circle cx="324" cy="198.8" r="1.75"/><circle cx="323.8" cy="199" r="1.75"/><circle cx="405" cy="199" r="1.75"/><circle cx="333.5" cy="199.3" r="1.75"/><circle cx="367" cy="199.4" r="1.75"/><circle cx="367.9" cy="199.4" r="1.75"/><circle cx="367.8" cy="199.8" r="1.75"/><circle cx="321.5" cy="199.9" r="1.75"/><circle cx="319.5" cy="200.3" r="1.75"/><circle cx="376.8" cy="200.4" r="1.75"/><circle cx="375.2" cy="200.4" r="1.75"/><circle cx="319" cy="200.4" r="1.75"/><circle cx="353.8" cy="200.4" r="1.75"/><circle cx="326.3" cy="200.5" r="1.75"/><circle cx="370.4" cy="200.7" r="1.75"/><circle cx="376.7" cy="200.7" r="1.75"/><circle cx="349.8" cy="200.7" r="1.75"/><circle cx="327.7" cy="200.8" r="1.75"/><circle cx="334.6" cy="200.8" r="1.75"/><circle cx="387.9" cy="200.9" r="1.75"/><circle cx="351.9" cy="200.9" r="1.75"/><circle cx="389.1" cy="201.1" r="1.75"/><circle cx="381.6" cy="201.6" r="1.75"/><circle cx="324.9" cy="201.8" r="1.75"/><circle cx="387.6" cy="201.9" r="1.75"/><circle cx="336.9" cy="201.9" r="1.75"/><circle cx="350.5" cy="202.1" r="1.75"/><circle cx="347.8" cy="202.2" r="1.75"/><circle cx="354.6" cy="202.3" r="1.75"/><circle cx="317" cy="202.4" r="1.75"/><circle cx="359.2" cy="202.8" r="1.75"/><circle cx="393.1" cy="203" r="1.75"/><circle cx="387.7" cy="203" r="1.75"/><circle cx="347.7" cy="203.3" r="1.75"/><circle cx="319.8" cy="203.7" r="1.75"/><circle cx="314" cy="204.3" r="1.75"/><circle cx="323.5" cy="204.6" r="1.75"/><circle cx="396.4" cy="204.8" r="1.75"/><circle cx="342.3" cy="204.8" r="1.75"/><circle cx="377.5" cy="204.8" r="1.75"/><circle cx="328.9" cy="204.9" r="1.75"/><circle cx="380.6" cy="205" r="1.75"/><circle cx="340.9" cy="205.1" r="1.75"/><circle cx="368.4" cy="205.2" r="1.75"/><circle cx="326.9" cy="205.3" r="1.75"/><circle cx="328.5" cy="205.3" r="1.75"/><circle cx="369.4" cy="205.4" r="1.75"/><circle cx="361" cy="205.5" r="1.75"/><circle cx="400.4" cy="205.6" r="1.75"/><circle cx="382.9" cy="205.6" r="1.75"/><circle cx="366.9" cy="205.8" r="1.75"/><circle cx="343.1" cy="205.8" r="1.75"/><circle cx="390.2" cy="206" r="1.75"/><circle cx="329.2" cy="206.1" r="1.75"/><circle cx="356.9" cy="206.1" r="1.75"/><circle cx="355.7" cy="206.6" r="1.75"/><circle cx="364.9" cy="207.1" r="1.75"/><circle cx="344.8" cy="207.1" r="1.75"/><circle cx="366.9" cy="207.2" r="1.75"/><circle cx="322.7" cy="207.3" r="1.75"/><circle cx="373" cy="207.7" r="1.75"/><circle cx="350" cy="207.7" r="1.75"/><circle cx="338.3" cy="207.7" r="1.75"/><circle cx="385.4" cy="208" r="1.75"/><circle cx="330.6" cy="208.2" r="1.75"/><circle cx="326.6" cy="208.2" r="1.75"/><circle cx="347.8" cy="208.5" r="1.75"/><circle cx="388.7" cy="208.6" r="1.75"/><circle cx="316.2" cy="208.6" r="1.75"/><circle cx="316.3" cy="208.7" r="1.75"/><circle cx="344.5" cy="208.9" r="1.75"/><circle cx="360.5" cy="209.1" r="1.75"/><circle cx="354.2" cy="209.1" r="1.75"/><circle cx="320.4" cy="209.1" r="1.75"/><circle cx="359.1" cy="209.1" r="1.75"/><circle cx="382" cy="209.2" r="1.75"/><circle cx="385.6" cy="209.3" r="1.75"/><circle cx="401" cy="209.4" r="1.75"/></g>
<g fill="#6b35d4"><circle cx="316.3" cy="211" r="1.6"/><circle cx="311.5" cy="210.1" r="1.6"/><circle cx="315.8" cy="209.5" r="1.6"/><circle cx="318.8" cy="210.3" r="1.6"/><circle cx="328" cy="209.5" r="1.6"/><circle cx="324.4" cy="209.5" r="1.6"/></g>
<g fill="#3b63e0"><circle cx="311.6" cy="208.6" r="1.7"/><circle cx="312.4" cy="205.4" r="1.7"/><circle cx="312.7" cy="208" r="1.7"/><circle cx="310.2" cy="208" r="1.7"/><circle cx="316.9" cy="207.7" r="1.7"/></g>
<g fill="#f8531f"><circle cx="513.2" cy="92.8" r="1.75"/><circle cx="449.8" cy="93" r="1.75"/><circle cx="521.2" cy="93" r="1.75"/><circle cx="472.5" cy="93.2" r="1.75"/><circle cx="461" cy="93.4" r="1.75"/><circle cx="502.5" cy="93.4" r="1.75"/><circle cx="482.1" cy="93.7" r="1.75"/><circle cx="495.9" cy="93.7" r="1.75"/><circle cx="476.2" cy="93.8" r="1.75"/><circle cx="457.6" cy="93.9" r="1.75"/><circle cx="454.5" cy="94.3" r="1.75"/><circle cx="483.1" cy="94.7" r="1.75"/><circle cx="495.2" cy="95" r="1.75"/><circle cx="469.8" cy="95" r="1.75"/><circle cx="459.6" cy="95" r="1.75"/><circle cx="452" cy="95.1" r="1.75"/><circle cx="502.9" cy="95.2" r="1.75"/><circle cx="516.9" cy="95.2" r="1.75"/><circle cx="478" cy="95.3" r="1.75"/><circle cx="484.2" cy="95.7" r="1.75"/><circle cx="515.6" cy="95.7" r="1.75"/><circle cx="472.8" cy="95.8" r="1.75"/><circle cx="505.4" cy="95.9" r="1.75"/><circle cx="467.4" cy="96" r="1.75"/><circle cx="520.6" cy="96.2" r="1.75"/><circle cx="498.4" cy="96.4" r="1.75"/><circle cx="471.9" cy="96.5" r="1.75"/><circle cx="502.7" cy="96.5" r="1.75"/><circle cx="476.2" cy="96.7" r="1.75"/><circle cx="501.3" cy="96.8" r="1.75"/><circle cx="502.5" cy="96.8" r="1.75"/><circle cx="491" cy="96.9" r="1.75"/><circle cx="511.6" cy="96.9" r="1.75"/><circle cx="477" cy="97.2" r="1.75"/><circle cx="474" cy="97.3" r="1.75"/><circle cx="469.3" cy="97.5" r="1.75"/><circle cx="517.9" cy="88.6" r="1.75"/><circle cx="476.1" cy="88.7" r="1.75"/><circle cx="468.4" cy="88.9" r="1.75"/><circle cx="500.8" cy="88.9" r="1.75"/><circle cx="460.4" cy="89" r="1.75"/><circle cx="504" cy="89" r="1.75"/><circle cx="517" cy="89.4" r="1.75"/><circle cx="489.8" cy="89.5" r="1.75"/><circle cx="483.7" cy="89.8" r="1.75"/><circle cx="489.4" cy="90" r="1.75"/><circle cx="473.3" cy="90" r="1.75"/><circle cx="512" cy="90.1" r="1.75"/><circle cx="475.6" cy="90.2" r="1.75"/><circle cx="494.2" cy="90.2" r="1.75"/><circle cx="486.1" cy="90.3" r="1.75"/><circle cx="476.8" cy="90.4" r="1.75"/><circle cx="459.5" cy="90.6" r="1.75"/><circle cx="490.4" cy="91.1" r="1.75"/><circle cx="498" cy="91.2" r="1.75"/><circle cx="474.2" cy="91.2" r="1.75"/><circle cx="514.3" cy="91.3" r="1.75"/><circle cx="448.3" cy="91.5" r="1.75"/><circle cx="477" cy="91.6" r="1.75"/><circle cx="474.3" cy="91.6" r="1.75"/><circle cx="478.9" cy="91.7" r="1.75"/><circle cx="480.8" cy="91.9" r="1.75"/><circle cx="449.8" cy="92.1" r="1.75"/><circle cx="452.1" cy="92.3" r="1.75"/><circle cx="488.1" cy="92.3" r="1.75"/><circle cx="531.9" cy="92.4" r="1.75"/><circle cx="464.2" cy="84.6" r="1.75"/><circle cx="462.4" cy="84.7" r="1.75"/><circle cx="461.5" cy="84.9" r="1.75"/><circle cx="473.4" cy="84.9" r="1.75"/><circle cx="489.2" cy="85.1" r="1.75"/><circle cx="502.1" cy="85.1" r="1.75"/><circle cx="493.6" cy="85.4" r="1.75"/><circle cx="526.2" cy="85.5" r="1.75"/><circle cx="497.9" cy="85.6" r="1.75"/><circle cx="503" cy="85.6" r="1.75"/><circle cx="498.8" cy="85.8" r="1.75"/><circle cx="466.3" cy="86.1" r="1.75"/><circle cx="458.1" cy="86.5" r="1.75"/><circle cx="493.1" cy="86.5" r="1.75"/><circle cx="480.9" cy="86.5" r="1.75"/><circle cx="508.6" cy="86.7" r="1.75"/><circle cx="464.4" cy="87" r="1.75"/><circle cx="475.8" cy="87.2" r="1.75"/><circle cx="491.1" cy="87.2" r="1.75"/><circle cx="459.6" cy="87.3" r="1.75"/><circle cx="473.5" cy="87.3" r="1.75"/><circle cx="449.9" cy="87.4" r="1.75"/><circle cx="483.1" cy="87.4" r="1.75"/><circle cx="495.9" cy="87.5" r="1.75"/><circle cx="458.1" cy="87.8" r="1.75"/><circle cx="491.4" cy="87.9" r="1.75"/><circle cx="449.6" cy="88" r="1.75"/><circle cx="494.9" cy="88.1" r="1.75"/><circle cx="488.4" cy="88.2" r="1.75"/><circle cx="472.3" cy="88.3" r="1.75"/><circle cx="479.8" cy="88.3" r="1.75"/><circle cx="494.8" cy="88.3" r="1.75"/><circle cx="456.4" cy="79" r="1.75"/><circle cx="468.7" cy="79.1" r="1.75"/><circle cx="502.2" cy="79.2" r="1.75"/><circle cx="497" cy="79.2" r="1.75"/><circle cx="460.1" cy="79.3" r="1.75"/><circle cx="501.1" cy="79.5" r="1.75"/><circle cx="462.5" cy="79.6" r="1.75"/><circle cx="516.1" cy="79.9" r="1.75"/><circle cx="473.3" cy="80" r="1.75"/><circle cx="474" cy="80.3" r="1.75"/><circle cx="497.2" cy="80.5" r="1.75"/><circle cx="463.1" cy="80.6" r="1.75"/><circle cx="500.2" cy="80.8" r="1.75"/><circle cx="460.6" cy="81.3" r="1.75"/><circle cx="470.1" cy="81.7" r="1.75"/><circle cx="501.7" cy="81.7" r="1.75"/><circle cx="488.5" cy="81.7" r="1.75"/><circle cx="489.4" cy="81.7" r="1.75"/><circle cx="454.2" cy="81.9" r="1.75"/><circle cx="499.3" cy="81.9" r="1.75"/><circle cx="470.8" cy="82.1" r="1.75"/><circle cx="467.7" cy="82.1" r="1.75"/><circle cx="494.2" cy="82.2" r="1.75"/><circle cx="517.5" cy="82.2" r="1.75"/><circle cx="490.8" cy="82.4" r="1.75"/><circle cx="499.9" cy="82.4" r="1.75"/><circle cx="457.2" cy="82.6" r="1.75"/><circle cx="514.7" cy="82.8" r="1.75"/><circle cx="500.7" cy="82.8" r="1.75"/><circle cx="496.5" cy="83" r="1.75"/><circle cx="468.5" cy="83" r="1.75"/><circle cx="509.1" cy="83" r="1.75"/><circle cx="459.5" cy="83.3" r="1.75"/><circle cx="480.9" cy="83.6" r="1.75"/><circle cx="499.4" cy="83.7" r="1.75"/><circle cx="493.2" cy="84.2" r="1.75"/><circle cx="500.3" cy="84.2" r="1.75"/><circle cx="450.3" cy="84.3" r="1.75"/><circle cx="517.5" cy="84.4" r="1.75"/><circle cx="497.1" cy="84.4" r="1.75"/><circle cx="469.4" cy="62" r="1.75"/><circle cx="484.2" cy="62.3" r="1.75"/><circle cx="492.3" cy="62.3" r="1.75"/><circle cx="465.1" cy="62.4" r="1.75"/><circle cx="493.6" cy="62.4" r="1.75"/><circle cx="496.5" cy="62.5" r="1.75"/><circle cx="462.9" cy="62.8" r="1.75"/><circle cx="457.8" cy="62.9" r="1.75"/><circle cx="509.9" cy="63.1" r="1.75"/><circle cx="462" cy="63.1" r="1.75"/><circle cx="452.8" cy="63.2" r="1.75"/><circle cx="488.9" cy="63.2" r="1.75"/><circle cx="478.6" cy="63.2" r="1.75"/><circle cx="460.5" cy="63.4" r="1.75"/><circle cx="491" cy="63.5" r="1.75"/><circle cx="479.2" cy="63.5" r="1.75"/><circle cx="529.2" cy="63.8" r="1.75"/><circle cx="500.5" cy="64.4" r="1.75"/><circle cx="490.9" cy="64.8" r="1.75"/><circle cx="467.8" cy="64.9" r="1.75"/><circle cx="489.5" cy="64.9" r="1.75"/><circle cx="459.3" cy="65.1" r="1.75"/><circle cx="491.9" cy="65.2" r="1.75"/><circle cx="488.2" cy="65.3" r="1.75"/><circle cx="495.4" cy="65.3" r="1.75"/><circle cx="489.2" cy="65.6" r="1.75"/><circle cx="451.8" cy="65.6" r="1.75"/><circle cx="516.4" cy="65.7" r="1.75"/><circle cx="509.2" cy="65.8" r="1.75"/><circle cx="481.8" cy="65.8" r="1.75"/><circle cx="467.5" cy="65.9" r="1.75"/><circle cx="492.7" cy="65.9" r="1.75"/><circle cx="515" cy="66" r="1.75"/><circle cx="469" cy="66.2" r="1.75"/><circle cx="462.4" cy="66.2" r="1.75"/><circle cx="509.1" cy="66.3" r="1.75"/><circle cx="489.6" cy="66.4" r="1.75"/><circle cx="467.2" cy="66.4" r="1.75"/><circle cx="489" cy="66.5" r="1.75"/><circle cx="495.9" cy="66.6" r="1.75"/><circle cx="489" cy="66.6" r="1.75"/><circle cx="486.8" cy="66.6" r="1.75"/><circle cx="500.4" cy="66.6" r="1.75"/><circle cx="481.3" cy="66.7" r="1.75"/><circle cx="455.5" cy="66.8" r="1.75"/><circle cx="488.7" cy="67.1" r="1.75"/><circle cx="452.1" cy="67.2" r="1.75"/><circle cx="462.6" cy="67.2" r="1.75"/><circle cx="499.5" cy="67.3" r="1.75"/><circle cx="517.7" cy="67.3" r="1.75"/><circle cx="470.3" cy="67.5" r="1.75"/><circle cx="500.7" cy="67.5" r="1.75"/><circle cx="503.4" cy="67.7" r="1.75"/><circle cx="476.8" cy="67.8" r="1.75"/><circle cx="485.1" cy="67.8" r="1.75"/><circle cx="479.9" cy="67.9" r="1.75"/><circle cx="460.5" cy="68" r="1.75"/><circle cx="524.4" cy="68" r="1.75"/><circle cx="458.1" cy="68.1" r="1.75"/><circle cx="463.8" cy="68.4" r="1.75"/><circle cx="516.7" cy="68.8" r="1.75"/><circle cx="497.8" cy="69" r="1.75"/><circle cx="492.5" cy="69" r="1.75"/><circle cx="480.2" cy="69" r="1.75"/><circle cx="467.8" cy="69" r="1.75"/><circle cx="500.5" cy="69.2" r="1.75"/><circle cx="478.8" cy="69.4" r="1.75"/><circle cx="492.1" cy="69.4" r="1.75"/><circle cx="476.6" cy="69.4" r="1.75"/><circle cx="456.4" cy="69.5" r="1.75"/><circle cx="477.1" cy="69.6" r="1.75"/><circle cx="485.7" cy="69.7" r="1.75"/><circle cx="462.5" cy="69.7" r="1.75"/><circle cx="498.3" cy="69.7" r="1.75"/><circle cx="497.5" cy="69.7" r="1.75"/><circle cx="457.7" cy="69.9" r="1.75"/><circle cx="481.5" cy="70" r="1.75"/><circle cx="471.3" cy="70" r="1.75"/><circle cx="515.3" cy="70.1" r="1.75"/><circle cx="477.3" cy="70.1" r="1.75"/><circle cx="471.5" cy="70.3" r="1.75"/><circle cx="470.4" cy="70.3" r="1.75"/><circle cx="473.3" cy="70.4" r="1.75"/><circle cx="485.8" cy="70.4" r="1.75"/><circle cx="472.2" cy="70.6" r="1.75"/><circle cx="518.5" cy="70.7" r="1.75"/><circle cx="458.6" cy="70.9" r="1.75"/><circle cx="483.1" cy="71" r="1.75"/><circle cx="511.8" cy="71" r="1.75"/><circle cx="472.3" cy="71.2" r="1.75"/><circle cx="490.1" cy="71.4" r="1.75"/><circle cx="500.2" cy="71.4" r="1.75"/><circle cx="473.6" cy="71.5" r="1.75"/><circle cx="493.5" cy="71.7" r="1.75"/><circle cx="511.8" cy="71.7" r="1.75"/><circle cx="475.5" cy="71.7" r="1.75"/><circle cx="478.3" cy="71.8" r="1.75"/><circle cx="472.1" cy="71.9" r="1.75"/><circle cx="450.4" cy="71.9" r="1.75"/><circle cx="500.6" cy="71.9" r="1.75"/><circle cx="492" cy="72" r="1.75"/><circle cx="481.4" cy="72.3" r="1.75"/><circle cx="478.8" cy="72.5" r="1.75"/><circle cx="501.4" cy="72.5" r="1.75"/><circle cx="473.4" cy="72.6" r="1.75"/><circle cx="518.3" cy="72.9" r="1.75"/><circle cx="478" cy="73" r="1.75"/><circle cx="485.3" cy="73" r="1.75"/><circle cx="480" cy="73.2" r="1.75"/><circle cx="487.1" cy="73.4" r="1.75"/><circle cx="470.6" cy="73.4" r="1.75"/><circle cx="489.7" cy="73.6" r="1.75"/><circle cx="505.6" cy="73.7" r="1.75"/><circle cx="471.5" cy="73.8" r="1.75"/><circle cx="482" cy="74" r="1.75"/><circle cx="455.6" cy="74.2" r="1.75"/><circle cx="512.1" cy="74.3" r="1.75"/><circle cx="456.9" cy="74.4" r="1.75"/><circle cx="492.3" cy="74.4" r="1.75"/><circle cx="466.2" cy="74.7" r="1.75"/><circle cx="468.6" cy="74.7" r="1.75"/><circle cx="500.6" cy="75" r="1.75"/><circle cx="459.4" cy="75" r="1.75"/><circle cx="451.2" cy="75" r="1.75"/><circle cx="497.2" cy="75.1" r="1.75"/><circle cx="469.8" cy="75.2" r="1.75"/><circle cx="503.5" cy="75.4" r="1.75"/><circle cx="487" cy="75.6" r="1.75"/><circle cx="530.4" cy="75.7" r="1.75"/><circle cx="463.7" cy="75.7" r="1.75"/><circle cx="465.1" cy="75.8" r="1.75"/><circle cx="485" cy="75.8" r="1.75"/><circle cx="468.2" cy="75.9" r="1.75"/><circle cx="506.8" cy="76" r="1.75"/><circle cx="512.5" cy="76.1" r="1.75"/><circle cx="469.6" cy="76.1" r="1.75"/><circle cx="472.8" cy="76.3" r="1.75"/><circle cx="465.8" cy="76.4" r="1.75"/><circle cx="502.3" cy="76.5" r="1.75"/><circle cx="450.8" cy="76.7" r="1.75"/><circle cx="478.8" cy="76.7" r="1.75"/><circle cx="500.7" cy="77" r="1.75"/><circle cx="476.2" cy="77" r="1.75"/><circle cx="485.6" cy="77.1" r="1.75"/><circle cx="470.3" cy="77.2" r="1.75"/><circle cx="481.9" cy="77.3" r="1.75"/><circle cx="511.9" cy="77.5" r="1.75"/><circle cx="454.7" cy="77.5" r="1.75"/><circle cx="500" cy="77.5" r="1.75"/><circle cx="454.1" cy="77.6" r="1.75"/><circle cx="474.4" cy="77.7" r="1.75"/><circle cx="504.8" cy="77.8" r="1.75"/><circle cx="513.5" cy="78" r="1.75"/><circle cx="501.3" cy="78.2" r="1.75"/><circle cx="500.1" cy="78.2" r="1.75"/><circle cx="484.7" cy="78.5" r="1.75"/><circle cx="475.5" cy="78.6" r="1.75"/><circle cx="489.7" cy="78.7" r="1.75"/><circle cx="505.2" cy="78.7" r="1.75"/><circle cx="471" cy="78.7" r="1.75"/><circle cx="462.8" cy="78.7" r="1.75"/><circle cx="467.2" cy="78.8" r="1.75"/><circle cx="492.9" cy="78.8" r="1.75"/><circle cx="500.9" cy="78.8" r="1.75"/><circle cx="465.7" cy="79" r="1.75"/><circle cx="464.2" cy="48.6" r="1.75"/><circle cx="483.2" cy="49.1" r="1.75"/><circle cx="476.5" cy="49.2" r="1.75"/><circle cx="467.6" cy="49.3" r="1.75"/><circle cx="501.9" cy="49.5" r="1.75"/><circle cx="507.3" cy="49.5" r="1.75"/><circle cx="462.2" cy="49.6" r="1.75"/><circle cx="482.5" cy="49.6" r="1.75"/><circle cx="480.9" cy="49.7" r="1.75"/><circle cx="499.9" cy="49.7" r="1.75"/><circle cx="456.7" cy="49.7" r="1.75"/><circle cx="455.6" cy="49.8" r="1.75"/><circle cx="505.6" cy="49.8" r="1.75"/><circle cx="469.4" cy="49.8" r="1.75"/><circle cx="463.8" cy="49.8" r="1.75"/><circle cx="513.7" cy="50" r="1.75"/><circle cx="478.4" cy="50.2" r="1.75"/><circle cx="454.6" cy="50.3" r="1.75"/><circle cx="488.4" cy="50.6" r="1.75"/><circle cx="482.9" cy="50.6" r="1.75"/><circle cx="464.5" cy="50.8" r="1.75"/><circle cx="485.9" cy="50.8" r="1.75"/><circle cx="471.1" cy="50.9" r="1.75"/><circle cx="453.3" cy="50.9" r="1.75"/><circle cx="487.1" cy="51" r="1.75"/><circle cx="518.3" cy="51" r="1.75"/><circle cx="500.4" cy="51" r="1.75"/><circle cx="478.6" cy="51.2" r="1.75"/><circle cx="492.8" cy="51.3" r="1.75"/><circle cx="468.4" cy="51.5" r="1.75"/><circle cx="484.4" cy="51.7" r="1.75"/><circle cx="509.3" cy="51.7" r="1.75"/><circle cx="479.4" cy="51.8" r="1.75"/><circle cx="495.9" cy="51.8" r="1.75"/><circle cx="485.6" cy="52" r="1.75"/><circle cx="488" cy="52" r="1.75"/><circle cx="460.6" cy="52.5" r="1.75"/><circle cx="481.4" cy="52.5" r="1.75"/><circle cx="470.4" cy="52.6" r="1.75"/><circle cx="480.9" cy="52.7" r="1.75"/><circle cx="477.2" cy="52.8" r="1.75"/><circle cx="453.3" cy="52.8" r="1.75"/><circle cx="499.3" cy="53" r="1.75"/><circle cx="492.2" cy="53.1" r="1.75"/><circle cx="465.1" cy="53.1" r="1.75"/><circle cx="498.9" cy="53.4" r="1.75"/><circle cx="526.3" cy="53.8" r="1.75"/><circle cx="512.1" cy="53.9" r="1.75"/><circle cx="484.5" cy="54.1" r="1.75"/><circle cx="501.1" cy="54.1" r="1.75"/><circle cx="474.4" cy="54.2" r="1.75"/><circle cx="478.1" cy="54.2" r="1.75"/><circle cx="450.5" cy="54.3" r="1.75"/><circle cx="492.6" cy="54.4" r="1.75"/><circle cx="497.1" cy="54.4" r="1.75"/><circle cx="451.1" cy="54.6" r="1.75"/><circle cx="454.7" cy="54.7" r="1.75"/><circle cx="484.4" cy="54.8" r="1.75"/><circle cx="460.5" cy="55.1" r="1.75"/><circle cx="450.8" cy="55.1" r="1.75"/><circle cx="486.7" cy="55.2" r="1.75"/><circle cx="453.4" cy="55.2" r="1.75"/><circle cx="530.5" cy="55.5" r="1.75"/><circle cx="510.9" cy="55.5" r="1.75"/><circle cx="479.5" cy="55.7" r="1.75"/><circle cx="476.3" cy="55.7" r="1.75"/><circle cx="464.9" cy="55.9" r="1.75"/><circle cx="511" cy="56" r="1.75"/><circle cx="488.7" cy="56.1" r="1.75"/><circle cx="472.3" cy="56.1" r="1.75"/><circle cx="479.5" cy="56.2" r="1.75"/><circle cx="489.2" cy="56.5" r="1.75"/><circle cx="472.4" cy="56.7" r="1.75"/><circle cx="471.6" cy="56.8" r="1.75"/><circle cx="465.5" cy="56.8" r="1.75"/><circle cx="487.4" cy="57" r="1.75"/><circle cx="491.9" cy="57.2" r="1.75"/><circle cx="474.7" cy="57.3" r="1.75"/><circle cx="465.2" cy="57.4" r="1.75"/><circle cx="473.1" cy="57.5" r="1.75"/><circle cx="501.3" cy="58" r="1.75"/><circle cx="450.1" cy="58.4" r="1.75"/><circle cx="518.2" cy="58.6" r="1.75"/><circle cx="462.7" cy="58.7" r="1.75"/><circle cx="517.2" cy="58.8" r="1.75"/><circle cx="494.6" cy="58.8" r="1.75"/><circle cx="463.4" cy="59" r="1.75"/><circle cx="467.9" cy="59.1" r="1.75"/><circle cx="455.5" cy="59.1" r="1.75"/><circle cx="470.8" cy="59.1" r="1.75"/><circle cx="500.8" cy="59.2" r="1.75"/><circle cx="455" cy="59.3" r="1.75"/><circle cx="479.1" cy="59.4" r="1.75"/><circle cx="452.4" cy="59.4" r="1.75"/><circle cx="509.7" cy="59.7" r="1.75"/><circle cx="473" cy="59.9" r="1.75"/><circle cx="450.9" cy="60" r="1.75"/><circle cx="503.5" cy="60.2" r="1.75"/><circle cx="491.3" cy="60.3" r="1.75"/><circle cx="526.3" cy="60.3" r="1.75"/><circle cx="494.8" cy="60.6" r="1.75"/><circle cx="454.7" cy="60.7" r="1.75"/><circle cx="473" cy="60.7" r="1.75"/><circle cx="452.3" cy="60.8" r="1.75"/><circle cx="457.1" cy="60.8" r="1.75"/><circle cx="475.3" cy="60.8" r="1.75"/><circle cx="474" cy="61" r="1.75"/><circle cx="498.2" cy="61" r="1.75"/><circle cx="478.1" cy="61.1" r="1.75"/><circle cx="528.5" cy="61.1" r="1.75"/><circle cx="499.9" cy="61.2" r="1.75"/><circle cx="483.2" cy="61.4" r="1.75"/><circle cx="515.7" cy="61.4" r="1.75"/><circle cx="456.2" cy="61.5" r="1.75"/><circle cx="487" cy="61.5" r="1.75"/><circle cx="500.3" cy="61.6" r="1.75"/><circle cx="498.9" cy="61.6" r="1.75"/><circle cx="514.9" cy="61.7" r="1.75"/><circle cx="514.6" cy="61.7" r="1.75"/><circle cx="486" cy="61.7" r="1.75"/><circle cx="502.2" cy="42.6" r="1.75"/><circle cx="498.8" cy="42.6" r="1.75"/><circle cx="527.8" cy="43" r="1.75"/><circle cx="503.5" cy="43.2" r="1.75"/><circle cx="457.2" cy="43.3" r="1.75"/><circle cx="496.3" cy="43.3" r="1.75"/><circle cx="502" cy="43.4" r="1.75"/><circle cx="490.4" cy="43.6" r="1.75"/><circle cx="501" cy="43.7" r="1.75"/><circle cx="494.9" cy="43.8" r="1.75"/><circle cx="471.3" cy="43.9" r="1.75"/><circle cx="473.4" cy="44" r="1.75"/><circle cx="457.9" cy="44.1" r="1.75"/><circle cx="453.7" cy="44.3" r="1.75"/><circle cx="477.8" cy="44.8" r="1.75"/><circle cx="473.4" cy="45.1" r="1.75"/><circle cx="483.5" cy="45.1" r="1.75"/><circle cx="502.8" cy="45.2" r="1.75"/><circle cx="481" cy="45.2" r="1.75"/><circle cx="519.2" cy="45.3" r="1.75"/><circle cx="498.7" cy="45.4" r="1.75"/><circle cx="495.2" cy="45.5" r="1.75"/><circle cx="461.9" cy="45.5" r="1.75"/><circle cx="482.2" cy="46" r="1.75"/><circle cx="468.2" cy="46.2" r="1.75"/><circle cx="490.1" cy="46.3" r="1.75"/><circle cx="497.9" cy="46.3" r="1.75"/><circle cx="502.7" cy="46.5" r="1.75"/><circle cx="457.3" cy="46.6" r="1.75"/><circle cx="474.9" cy="46.7" r="1.75"/><circle cx="470.6" cy="47.3" r="1.75"/><circle cx="482" cy="47.4" r="1.75"/><circle cx="512.8" cy="47.5" r="1.75"/><circle cx="480.7" cy="47.5" r="1.75"/><circle cx="507.3" cy="47.6" r="1.75"/><circle cx="464.8" cy="47.6" r="1.75"/><circle cx="477.6" cy="47.6" r="1.75"/><circle cx="459.4" cy="47.7" r="1.75"/><circle cx="499.9" cy="47.7" r="1.75"/><circle cx="465.7" cy="47.8" r="1.75"/><circle cx="496.2" cy="48.2" r="1.75"/><circle cx="452.3" cy="48.2" r="1.75"/><circle cx="459.9" cy="48.4" r="1.75"/><circle cx="472.8" cy="48.4" r="1.75"/><circle cx="460.9" cy="48.5" r="1.75"/><circle cx="483.9" cy="48.5" r="1.75"/><circle cx="480.7" cy="35.7" r="1.75"/><circle cx="470.5" cy="36.1" r="1.75"/><circle cx="461.4" cy="36.1" r="1.75"/><circle cx="498.5" cy="36.4" r="1.75"/><circle cx="470" cy="36.7" r="1.75"/><circle cx="500.3" cy="37.4" r="1.75"/><circle cx="470.5" cy="37.5" r="1.75"/><circle cx="480.1" cy="37.5" r="1.75"/><circle cx="464.1" cy="37.7" r="1.75"/><circle cx="498.5" cy="38" r="1.75"/><circle cx="486.7" cy="38.6" r="1.75"/><circle cx="501.3" cy="38.6" r="1.75"/><circle cx="476.4" cy="38.7" r="1.75"/><circle cx="470.6" cy="38.7" r="1.75"/><circle cx="473.8" cy="38.9" r="1.75"/><circle cx="482.8" cy="38.9" r="1.75"/><circle cx="514.7" cy="39.1" r="1.75"/><circle cx="468.8" cy="39.1" r="1.75"/><circle cx="484.4" cy="39.3" r="1.75"/><circle cx="471.1" cy="39.4" r="1.75"/><circle cx="459.6" cy="39.4" r="1.75"/><circle cx="488" cy="39.5" r="1.75"/><circle cx="477" cy="39.6" r="1.75"/><circle cx="511.5" cy="39.7" r="1.75"/><circle cx="489.5" cy="39.7" r="1.75"/><circle cx="465.1" cy="39.8" r="1.75"/><circle cx="493.2" cy="39.8" r="1.75"/><circle cx="488.9" cy="39.9" r="1.75"/><circle cx="487.1" cy="40" r="1.75"/><circle cx="501.7" cy="40.4" r="1.75"/><circle cx="493.7" cy="40.5" r="1.75"/><circle cx="501.9" cy="40.6" r="1.75"/><circle cx="468.2" cy="40.6" r="1.75"/><circle cx="492.5" cy="40.9" r="1.75"/><circle cx="454.8" cy="41" r="1.75"/><circle cx="473.9" cy="41" r="1.75"/><circle cx="518.6" cy="41.3" r="1.75"/><circle cx="482.1" cy="41.4" r="1.75"/><circle cx="460.4" cy="41.5" r="1.75"/><circle cx="469.4" cy="41.5" r="1.75"/><circle cx="487.2" cy="41.9" r="1.75"/><circle cx="484.4" cy="42.1" r="1.75"/><circle cx="522.4" cy="42.2" r="1.75"/><circle cx="475.9" cy="42.5" r="1.75"/><circle cx="481.4" cy="26.6" r="1.75"/><circle cx="484.5" cy="26.6" r="1.75"/><circle cx="472" cy="26.9" r="1.75"/><circle cx="481.8" cy="27.1" r="1.75"/><circle cx="475.7" cy="27.4" r="1.75"/><circle cx="463.9" cy="27.4" r="1.75"/><circle cx="491" cy="27.6" r="1.75"/><circle cx="475.7" cy="27.8" r="1.75"/><circle cx="472.6" cy="27.9" r="1.75"/><circle cx="467.8" cy="28.1" r="1.75"/><circle cx="470" cy="28.5" r="1.75"/><circle cx="483.7" cy="28.5" r="1.75"/><circle cx="488.2" cy="28.6" r="1.75"/><circle cx="489" cy="28.6" r="1.75"/><circle cx="499.1" cy="29.1" r="1.75"/><circle cx="479.9" cy="29.3" r="1.75"/><circle cx="499.1" cy="29.3" r="1.75"/><circle cx="489.2" cy="29.7" r="1.75"/><circle cx="484.6" cy="30.1" r="1.75"/><circle cx="476.5" cy="30.4" r="1.75"/><circle cx="479.9" cy="30.4" r="1.75"/><circle cx="487.8" cy="30.5" r="1.75"/><circle cx="486.3" cy="30.5" r="1.75"/><circle cx="476.2" cy="30.9" r="1.75"/><circle cx="484" cy="31.1" r="1.75"/><circle cx="475.1" cy="31.4" r="1.75"/><circle cx="479.6" cy="31.6" r="1.75"/><circle cx="486.6" cy="31.9" r="1.75"/><circle cx="472.6" cy="31.9" r="1.75"/><circle cx="485.7" cy="32" r="1.75"/><circle cx="490.9" cy="32.2" r="1.75"/><circle cx="520.6" cy="32.6" r="1.75"/><circle cx="483.3" cy="32.7" r="1.75"/><circle cx="474.3" cy="32.7" r="1.75"/><circle cx="501.3" cy="32.8" r="1.75"/><circle cx="515.8" cy="33.3" r="1.75"/><circle cx="470.7" cy="33.4" r="1.75"/><circle cx="479.3" cy="33.4" r="1.75"/><circle cx="470" cy="33.5" r="1.75"/><circle cx="469.2" cy="33.6" r="1.75"/><circle cx="499.2" cy="33.8" r="1.75"/><circle cx="505.3" cy="33.8" r="1.75"/><circle cx="474" cy="34" r="1.75"/><circle cx="496.3" cy="34.1" r="1.75"/><circle cx="518.2" cy="34.7" r="1.75"/><circle cx="491.9" cy="35" r="1.75"/><circle cx="513.5" cy="35.4" r="1.75"/><circle cx="483.5" cy="35.5" r="1.75"/></g>
<g fill="#fbb727"><circle cx="411.4" cy="96.7" r="1.75"/><circle cx="422.9" cy="96.9" r="1.75"/><circle cx="390.8" cy="97.2" r="1.75"/><circle cx="424.8" cy="97.2" r="1.75"/><circle cx="423.4" cy="97.4" r="1.75"/><circle cx="391.2" cy="97.4" r="1.75"/><circle cx="393" cy="97.5" r="1.75"/><circle cx="442" cy="97.5" r="1.75"/><circle cx="454" cy="97.5" r="1.75"/><circle cx="395" cy="97.5" r="1.75"/><circle cx="413.4" cy="97.6" r="1.75"/><circle cx="423.4" cy="97.7" r="1.75"/><circle cx="400.5" cy="97.8" r="1.75"/><circle cx="407.9" cy="97.9" r="1.75"/><circle cx="431" cy="98.1" r="1.75"/><circle cx="394.6" cy="98.4" r="1.75"/><circle cx="391.8" cy="98.5" r="1.75"/><circle cx="413.9" cy="98.5" r="1.75"/><circle cx="427.4" cy="98.8" r="1.75"/><circle cx="394.7" cy="98.9" r="1.75"/><circle cx="391.9" cy="100.1" r="1.75"/><circle cx="397" cy="100.5" r="1.75"/><circle cx="414.8" cy="100.7" r="1.75"/><circle cx="409.4" cy="100.9" r="1.75"/><circle cx="389.4" cy="100.9" r="1.75"/><circle cx="393.6" cy="101" r="1.75"/><circle cx="390.8" cy="101" r="1.75"/><circle cx="429.1" cy="101.1" r="1.75"/><circle cx="415.8" cy="101.7" r="1.75"/><circle cx="429.8" cy="101.8" r="1.75"/><circle cx="413" cy="102.5" r="1.75"/><circle cx="424.9" cy="102.7" r="1.75"/><circle cx="413" cy="102.9" r="1.75"/><circle cx="401.9" cy="103.3" r="1.75"/><circle cx="395" cy="103.3" r="1.75"/><circle cx="405.9" cy="103.4" r="1.75"/><circle cx="395.6" cy="103.8" r="1.75"/><circle cx="405.7" cy="104.1" r="1.75"/><circle cx="420.4" cy="104.1" r="1.75"/><circle cx="415.7" cy="104.4" r="1.75"/><circle cx="398.8" cy="104.4" r="1.75"/><circle cx="438" cy="104.5" r="1.75"/><circle cx="452" cy="104.5" r="1.75"/><circle cx="460" cy="104.5" r="1.75"/><circle cx="466" cy="104.5" r="1.75"/><circle cx="408.9" cy="104.7" r="1.75"/><circle cx="422" cy="105.1" r="1.75"/><circle cx="412.5" cy="105.3" r="1.75"/><circle cx="398.9" cy="105.7" r="1.75"/><circle cx="391.5" cy="105.8" r="1.75"/><circle cx="391.7" cy="105.8" r="1.75"/><circle cx="407.8" cy="106" r="1.75"/><circle cx="424.3" cy="106.2" r="1.75"/><circle cx="412.4" cy="106.4" r="1.75"/><circle cx="418.5" cy="106.4" r="1.75"/><circle cx="399.5" cy="106.5" r="1.75"/><circle cx="407.4" cy="107" r="1.75"/><circle cx="433" cy="107" r="1.75"/><circle cx="391.7" cy="107.3" r="1.75"/><circle cx="421.5" cy="107.5" r="1.75"/><circle cx="391.9" cy="107.5" r="1.75"/><circle cx="413" cy="107.7" r="1.75"/><circle cx="426.5" cy="107.9" r="1.75"/><circle cx="425.9" cy="108.1" r="1.75"/><circle cx="429.1" cy="108.4" r="1.75"/><circle cx="396.5" cy="109" r="1.75"/><circle cx="430.6" cy="109.3" r="1.75"/><circle cx="422.5" cy="109.5" r="1.75"/><circle cx="409.2" cy="109.8" r="1.75"/><circle cx="389.9" cy="109.9" r="1.75"/><circle cx="431.3" cy="110.1" r="1.75"/><circle cx="410.8" cy="110.3" r="1.75"/><circle cx="432.3" cy="110.4" r="1.75"/><circle cx="432.7" cy="110.9" r="1.75"/><circle cx="402.2" cy="111.4" r="1.75"/><circle cx="417.4" cy="111.5" r="1.75"/><circle cx="415.4" cy="111.8" r="1.75"/><circle cx="398.9" cy="112" r="1.75"/><circle cx="424.8" cy="112" r="1.75"/><circle cx="404.7" cy="112.1" r="1.75"/><circle cx="390.4" cy="112.2" r="1.75"/><circle cx="422.5" cy="112.2" r="1.75"/><circle cx="417.7" cy="112.4" r="1.75"/><circle cx="419.7" cy="112.6" r="1.75"/><circle cx="419.3" cy="112.6" r="1.75"/><circle cx="395.2" cy="112.9" r="1.75"/><circle cx="406" cy="113" r="1.75"/><circle cx="415.6" cy="113.1" r="1.75"/><circle cx="413.9" cy="113.7" r="1.75"/><circle cx="427.6" cy="113.9" r="1.75"/><circle cx="400.9" cy="114.9" r="1.75"/><circle cx="393.2" cy="115.5" r="1.75"/><circle cx="415.4" cy="115.6" r="1.75"/><circle cx="417.3" cy="115.7" r="1.75"/><circle cx="403.2" cy="115.7" r="1.75"/><circle cx="415.1" cy="115.9" r="1.75"/><circle cx="415.4" cy="115.9" r="1.75"/><circle cx="393.1" cy="116" r="1.75"/><circle cx="399.3" cy="116.4" r="1.75"/><circle cx="407.3" cy="116.5" r="1.75"/><circle cx="399.7" cy="116.5" r="1.75"/><circle cx="396.1" cy="116.8" r="1.75"/><circle cx="415.5" cy="116.9" r="1.75"/><circle cx="391.9" cy="117.8" r="1.75"/><circle cx="429.9" cy="117.9" r="1.75"/><circle cx="391.7" cy="118.3" r="1.75"/><circle cx="415.4" cy="118.5" r="1.75"/><circle cx="423.8" cy="119.4" r="1.75"/><circle cx="413.1" cy="120.5" r="1.75"/><circle cx="417.4" cy="120.5" r="1.75"/><circle cx="403.9" cy="120.9" r="1.75"/><circle cx="411.3" cy="121" r="1.75"/><circle cx="416.7" cy="121.2" r="1.75"/><circle cx="405.3" cy="121.2" r="1.75"/><circle cx="421.8" cy="121.6" r="1.75"/><circle cx="433.1" cy="122" r="1.75"/><circle cx="483" cy="121" r="1.75"/><circle cx="401.5" cy="121.1" r="1.75"/><circle cx="442.5" cy="121.2" r="1.75"/><circle cx="406.7" cy="121.5" r="1.75"/><circle cx="436.2" cy="121.6" r="1.75"/><circle cx="454.9" cy="121.7" r="1.75"/><circle cx="408.9" cy="121.9" r="1.75"/><circle cx="461.5" cy="121.9" r="1.75"/><circle cx="428.2" cy="122" r="1.75"/><circle cx="468.1" cy="122.3" r="1.75"/><circle cx="468.9" cy="122.3" r="1.75"/><circle cx="410" cy="122.4" r="1.75"/><circle cx="421.6" cy="122.5" r="1.75"/><circle cx="462.9" cy="122.6" r="1.75"/><circle cx="452.3" cy="122.6" r="1.75"/><circle cx="404.5" cy="123.1" r="1.75"/><circle cx="469.2" cy="123.3" r="1.75"/><circle cx="426" cy="123.9" r="1.75"/><circle cx="455.8" cy="123.9" r="1.75"/><circle cx="418.8" cy="123.9" r="1.75"/><circle cx="460.9" cy="124.4" r="1.75"/><circle cx="442.7" cy="124.6" r="1.75"/><circle cx="425" cy="124.7" r="1.75"/><circle cx="467.2" cy="125.3" r="1.75"/><circle cx="455.5" cy="125.3" r="1.75"/><circle cx="460.8" cy="125.6" r="1.75"/><circle cx="422.8" cy="126" r="1.75"/><circle cx="463.7" cy="126.4" r="1.75"/><circle cx="430" cy="127.3" r="1.75"/><circle cx="410.7" cy="127.3" r="1.75"/><circle cx="423.4" cy="127.3" r="1.75"/><circle cx="445" cy="127.4" r="1.75"/><circle cx="436.5" cy="127.7" r="1.75"/><circle cx="477.9" cy="127.7" r="1.75"/><circle cx="476" cy="128" r="1.75"/><circle cx="470" cy="128.4" r="1.75"/><circle cx="415.2" cy="128.8" r="1.75"/><circle cx="423.8" cy="129" r="1.75"/><circle cx="472.4" cy="129.3" r="1.75"/><circle cx="452.9" cy="129.3" r="1.75"/><circle cx="450.3" cy="129.7" r="1.75"/><circle cx="404.6" cy="129.7" r="1.75"/><circle cx="428.8" cy="130.5" r="1.75"/><circle cx="467.3" cy="130.6" r="1.75"/><circle cx="417.6" cy="130.6" r="1.75"/><circle cx="448.6" cy="130.6" r="1.75"/><circle cx="467.1" cy="130.7" r="1.75"/><circle cx="426.8" cy="130.8" r="1.75"/><circle cx="461.3" cy="130.9" r="1.75"/><circle cx="399.1" cy="131.1" r="1.75"/><circle cx="419.8" cy="131.1" r="1.75"/><circle cx="448.4" cy="131.2" r="1.75"/><circle cx="454.9" cy="131.5" r="1.75"/><circle cx="433.3" cy="132" r="1.75"/><circle cx="463.8" cy="132.2" r="1.75"/><circle cx="459.7" cy="132.2" r="1.75"/><circle cx="468.6" cy="132.3" r="1.75"/><circle cx="471.6" cy="132.4" r="1.75"/><circle cx="463.4" cy="132.4" r="1.75"/><circle cx="460.7" cy="132.4" r="1.75"/><circle cx="405" cy="132.8" r="1.75"/><circle cx="416.9" cy="132.9" r="1.75"/><circle cx="464.2" cy="133" r="1.75"/><circle cx="421.4" cy="133.3" r="1.75"/><circle cx="403.3" cy="133.4" r="1.75"/><circle cx="468.1" cy="133.6" r="1.75"/><circle cx="421.5" cy="133.7" r="1.75"/><circle cx="417.7" cy="133.7" r="1.75"/><circle cx="431.4" cy="134.1" r="1.75"/><circle cx="466.9" cy="134.1" r="1.75"/><circle cx="429.4" cy="134.2" r="1.75"/><circle cx="423" cy="134.2" r="1.75"/><circle cx="478.2" cy="134.7" r="1.75"/><circle cx="460" cy="134.7" r="1.75"/><circle cx="460.3" cy="135" r="1.75"/><circle cx="430.7" cy="135.1" r="1.75"/><circle cx="405.5" cy="135.7" r="1.75"/><circle cx="403" cy="135.8" r="1.75"/><circle cx="405.3" cy="136" r="1.75"/><circle cx="410" cy="136.2" r="1.75"/><circle cx="414.1" cy="136.9" r="1.75"/><circle cx="427.3" cy="136.9" r="1.75"/><circle cx="469" cy="137.2" r="1.75"/><circle cx="448.7" cy="137.4" r="1.75"/><circle cx="414" cy="137.4" r="1.75"/><circle cx="446.2" cy="137.4" r="1.75"/></g>
<g fill="#ee2020"><circle cx="460" cy="135.7" r="1.75"/></g>
<g fill="#f9b828"><circle cx="523.5" cy="134.8" r="1.75"/><circle cx="520.2" cy="135.2" r="1.75"/><circle cx="522.6" cy="135.9" r="1.75"/><circle cx="523.6" cy="136" r="1.75"/><circle cx="518.9" cy="136.3" r="1.75"/><circle cx="520.1" cy="136.4" r="1.75"/><circle cx="516.1" cy="136.8" r="1.75"/><circle cx="515.8" cy="136.9" r="1.75"/><circle cx="528.5" cy="137" r="1.75"/><circle cx="518.1" cy="137.1" r="1.75"/><circle cx="518.3" cy="137.2" r="1.75"/><circle cx="521.9" cy="137.9" r="1.75"/><circle cx="530" cy="138.1" r="1.75"/><circle cx="522" cy="138.6" r="1.75"/><circle cx="525.4" cy="139.3" r="1.75"/><circle cx="515.1" cy="139.5" r="1.75"/><circle cx="530.5" cy="139.8" r="1.75"/><circle cx="520.6" cy="139.8" r="1.75"/><circle cx="527.7" cy="139.9" r="1.75"/><circle cx="513.1" cy="140.5" r="1.75"/><circle cx="531.8" cy="140.6" r="1.75"/><circle cx="520.6" cy="141" r="1.75"/><circle cx="522.1" cy="141.1" r="1.75"/><circle cx="514.8" cy="141.2" r="1.75"/><circle cx="532.3" cy="141.4" r="1.75"/><circle cx="525.5" cy="141.5" r="1.75"/><circle cx="514.8" cy="141.6" r="1.75"/><circle cx="524.5" cy="141.6" r="1.75"/><circle cx="528.2" cy="141.7" r="1.75"/><circle cx="510.8" cy="142" r="1.75"/><circle cx="518.7" cy="142.1" r="1.75"/><circle cx="513.6" cy="142.1" r="1.75"/><circle cx="527.6" cy="142.9" r="1.75"/><circle cx="508.2" cy="143" r="1.75"/><circle cx="527.5" cy="143.1" r="1.75"/><circle cx="507.4" cy="143.6" r="1.75"/><circle cx="525.1" cy="143.6" r="1.75"/><circle cx="510" cy="143.7" r="1.75"/><circle cx="512.4" cy="143.7" r="1.75"/><circle cx="528.1" cy="144.2" r="1.75"/><circle cx="533.2" cy="144.4" r="1.75"/><circle cx="514.7" cy="144.4" r="1.75"/><circle cx="533.3" cy="144.5" r="1.75"/><circle cx="520.1" cy="144.6" r="1.75"/><circle cx="511" cy="144.8" r="1.75"/><circle cx="528.4" cy="144.9" r="1.75"/><circle cx="521.5" cy="144.9" r="1.75"/><circle cx="516.4" cy="146.1" r="1.75"/><circle cx="523" cy="146.3" r="1.75"/><circle cx="510.3" cy="146.3" r="1.75"/><circle cx="519.8" cy="146.3" r="1.75"/><circle cx="519.8" cy="146.4" r="1.75"/><circle cx="519.2" cy="146.4" r="1.75"/><circle cx="532.7" cy="146.5" r="1.75"/><circle cx="509.9" cy="146.7" r="1.75"/><circle cx="511.2" cy="146.8" r="1.75"/><circle cx="525.7" cy="146.8" r="1.75"/><circle cx="514.2" cy="147.3" r="1.75"/><circle cx="531" cy="147.4" r="1.75"/><circle cx="522.7" cy="147.6" r="1.75"/><circle cx="524.8" cy="148.1" r="1.75"/><circle cx="509.4" cy="148.4" r="1.75"/><circle cx="507.1" cy="148.4" r="1.75"/><circle cx="512" cy="148.6" r="1.75"/><circle cx="513" cy="148.6" r="1.75"/><circle cx="532.9" cy="149.2" r="1.75"/><circle cx="515.1" cy="149.3" r="1.75"/><circle cx="520.7" cy="149.4" r="1.75"/><circle cx="534.1" cy="149.9" r="1.75"/><circle cx="509.9" cy="149.9" r="1.75"/><circle cx="506.8" cy="150.4" r="1.75"/><circle cx="508" cy="150.4" r="1.75"/><circle cx="529.5" cy="150.6" r="1.75"/><circle cx="522" cy="150.8" r="1.75"/><circle cx="530.2" cy="151" r="1.75"/><circle cx="521.5" cy="151.2" r="1.75"/><circle cx="509.1" cy="151.3" r="1.75"/><circle cx="507.3" cy="151.5" r="1.75"/><circle cx="514.6" cy="151.5" r="1.75"/><circle cx="522.1" cy="151.6" r="1.75"/><circle cx="511" cy="151.7" r="1.75"/><circle cx="524.6" cy="151.7" r="1.75"/><circle cx="526.3" cy="152.1" r="1.75"/><circle cx="510.5" cy="152.4" r="1.75"/><circle cx="509.2" cy="152.8" r="1.75"/><circle cx="519.3" cy="152.8" r="1.75"/><circle cx="518.2" cy="153" r="1.75"/><circle cx="514.7" cy="153" r="1.75"/><circle cx="515.8" cy="153.1" r="1.75"/><circle cx="504.2" cy="153.1" r="1.75"/><circle cx="519.4" cy="153.3" r="1.75"/><circle cx="526.1" cy="153.4" r="1.75"/><circle cx="521.4" cy="153.4" r="1.75"/><circle cx="520.3" cy="153.4" r="1.75"/><circle cx="511.2" cy="153.6" r="1.75"/><circle cx="531" cy="153.6" r="1.75"/><circle cx="509.7" cy="153.6" r="1.75"/><circle cx="517.3" cy="153.7" r="1.75"/><circle cx="510.7" cy="153.7" r="1.75"/><circle cx="510.5" cy="153.7" r="1.75"/><circle cx="503.2" cy="153.8" r="1.75"/><circle cx="517.3" cy="154.1" r="1.75"/><circle cx="516" cy="154.5" r="1.75"/><circle cx="527.8" cy="154.6" r="1.75"/><circle cx="502" cy="154.8" r="1.75"/><circle cx="522" cy="155.2" r="1.75"/><circle cx="509.7" cy="155.4" r="1.75"/><circle cx="516.2" cy="155.4" r="1.75"/><circle cx="510.9" cy="155.6" r="1.75"/><circle cx="519.6" cy="155.9" r="1.75"/><circle cx="521.6" cy="156.3" r="1.75"/><circle cx="528.1" cy="156.5" r="1.75"/><circle cx="514.1" cy="156.6" r="1.75"/><circle cx="530.4" cy="156.7" r="1.75"/><circle cx="530.4" cy="156.9" r="1.75"/><circle cx="520.9" cy="156.9" r="1.75"/><circle cx="508.5" cy="157.4" r="1.75"/><circle cx="524.5" cy="157.6" r="1.75"/><circle cx="522.9" cy="157.8" r="1.75"/><circle cx="522.3" cy="158.1" r="1.75"/><circle cx="527.3" cy="158.1" r="1.75"/><circle cx="509.3" cy="158.2" r="1.75"/><circle cx="525.6" cy="158.2" r="1.75"/><circle cx="503" cy="158.5" r="1.75"/><circle cx="520" cy="158.6" r="1.75"/><circle cx="517.4" cy="158.9" r="1.75"/><circle cx="513.8" cy="158.9" r="1.75"/><circle cx="516.7" cy="159.3" r="1.75"/><circle cx="522.3" cy="159.5" r="1.75"/><circle cx="506.3" cy="159.6" r="1.75"/><circle cx="523" cy="159.7" r="1.75"/><circle cx="518" cy="159.8" r="1.75"/><circle cx="521.9" cy="160" r="1.75"/><circle cx="503.6" cy="160.6" r="1.75"/></g>
<g fill="#f08a3a"><circle cx="489.8" cy="159.5" r="1.75"/><circle cx="501.6" cy="159.5" r="1.75"/></g>
<g fill="#f8c02a"><circle cx="396" cy="159.9" r="1.7"/><circle cx="391.1" cy="160.1" r="1.7"/><circle cx="395.5" cy="160.3" r="1.7"/><circle cx="400.2" cy="160.7" r="1.7"/><circle cx="421.2" cy="160.7" r="1.7"/><circle cx="386.7" cy="160.7" r="1.7"/><circle cx="404.2" cy="161" r="1.7"/><circle cx="427.2" cy="161.6" r="1.7"/><circle cx="376.8" cy="161.6" r="1.7"/><circle cx="413.9" cy="161.7" r="1.7"/><circle cx="398.1" cy="161.9" r="1.7"/><circle cx="393.8" cy="161.9" r="1.7"/><circle cx="427.2" cy="162.4" r="1.7"/><circle cx="425.3" cy="162.6" r="1.7"/><circle cx="414" cy="162.8" r="1.7"/><circle cx="412.9" cy="162.9" r="1.7"/><circle cx="419.3" cy="163" r="1.7"/><circle cx="418.5" cy="163" r="1.7"/><circle cx="401.9" cy="163.1" r="1.7"/><circle cx="414" cy="163.2" r="1.7"/><circle cx="427" cy="164.3" r="1.7"/><circle cx="408.9" cy="164.5" r="1.7"/><circle cx="403.9" cy="165" r="1.7"/><circle cx="415.2" cy="165.6" r="1.7"/><circle cx="379.7" cy="165.7" r="1.7"/><circle cx="408.4" cy="165.7" r="1.7"/><circle cx="424.7" cy="165.9" r="1.7"/><circle cx="396.9" cy="165.9" r="1.7"/></g>
<text x="115.5" y="188.9" font-size="5.3" fill="#484848" text-anchor="end">20A</text>
<text x="242.6" y="141.4" font-size="5.3" fill="#484848" text-anchor="end">21M (Omicron)</text>
<text x="331.8" y="120.2" font-size="5.3" fill="#484848" text-anchor="end">21L (Omicron)</text>
<text x="398" y="90.4" font-size="5.3" fill="#484848" text-anchor="end">22B (Omicron)</text>
<text x="189.5" y="199.4" font-size="5.3" fill="#484848" text-anchor="end">21A (Delta)</text>
<text x="274" y="192.4" font-size="5.3" fill="#484848" text-anchor="end">21J (Delta)</text>
<text x="223" y="204.9" font-size="5.3" fill="#484848" text-anchor="end">21I (Delta)</text>
<text x="7.3" y="258.4" font-size="13" font-weight="bold" fill="#111" class="serif" textLength="15.8" lengthAdjust="spacingAndGlyphs">(B)</text>
<line x1="81.1" y1="249.5" x2="81.1" y2="426" stroke="#ededed" stroke-width="0.6"/>
<line x1="93.9" y1="249.5" x2="93.9" y2="426" stroke="#ededed" stroke-width="0.6"/>
<line x1="106.8" y1="249.5" x2="106.8" y2="426" stroke="#ededed" stroke-width="0.6"/>
<line x1="119.6" y1="249.5" x2="119.6" y2="426" stroke="#ededed" stroke-width="0.6"/>
<line x1="132.5" y1="249.5" x2="132.5" y2="426" stroke="#dadada" stroke-width="0.9"/>
<line x1="145.3" y1="249.5" x2="145.3" y2="426" stroke="#ededed" stroke-width="0.6"/>
<line x1="158.1" y1="249.5" x2="158.1" y2="426" stroke="#ededed" stroke-width="0.6"/>
<line x1="171" y1="249.5" x2="171" y2="426" stroke="#ededed" stroke-width="0.6"/>
<line x1="183.8" y1="249.5" x2="183.8" y2="426" stroke="#ededed" stroke-width="0.6"/>
<line x1="196.7" y1="249.5" x2="196.7" y2="426" stroke="#dadada" stroke-width="0.9"/>
<line x1="209.5" y1="249.5" x2="209.5" y2="426" stroke="#ededed" stroke-width="0.6"/>
<line x1="222.3" y1="249.5" x2="222.3" y2="426" stroke="#ededed" stroke-width="0.6"/>
<line x1="235.2" y1="249.5" x2="235.2" y2="426" stroke="#ededed" stroke-width="0.6"/>
<line x1="248" y1="249.5" x2="248" y2="426" stroke="#ededed" stroke-width="0.6"/>
<line x1="260.9" y1="249.5" x2="260.9" y2="426" stroke="#dadada" stroke-width="0.9"/>
<line x1="273.7" y1="249.5" x2="273.7" y2="426" stroke="#ededed" stroke-width="0.6"/>
<line x1="286.5" y1="249.5" x2="286.5" y2="426" stroke="#ededed" stroke-width="0.6"/>
<line x1="299.4" y1="249.5" x2="299.4" y2="426" stroke="#ededed" stroke-width="0.6"/>
<line x1="312.2" y1="249.5" x2="312.2" y2="426" stroke="#ededed" stroke-width="0.6"/>
<line x1="325.1" y1="249.5" x2="325.1" y2="426" stroke="#dadada" stroke-width="0.9"/>
<line x1="337.9" y1="249.5" x2="337.9" y2="426" stroke="#ededed" stroke-width="0.6"/>
<line x1="350.7" y1="249.5" x2="350.7" y2="426" stroke="#ededed" stroke-width="0.6"/>
<line x1="363.6" y1="249.5" x2="363.6" y2="426" stroke="#ededed" stroke-width="0.6"/>
<line x1="376.4" y1="249.5" x2="376.4" y2="426" stroke="#ededed" stroke-width="0.6"/>
<line x1="389.3" y1="249.5" x2="389.3" y2="426" stroke="#dadada" stroke-width="0.9"/>
<line x1="402.1" y1="249.5" x2="402.1" y2="426" stroke="#ededed" stroke-width="0.6"/>
<line x1="414.9" y1="249.5" x2="414.9" y2="426" stroke="#ededed" stroke-width="0.6"/>
<line x1="427.8" y1="249.5" x2="427.8" y2="426" stroke="#ededed" stroke-width="0.6"/>
<line x1="440.6" y1="249.5" x2="440.6" y2="426" stroke="#ededed" stroke-width="0.6"/>
<line x1="453.5" y1="249.5" x2="453.5" y2="426" stroke="#dadada" stroke-width="0.9"/>
<line x1="466.3" y1="249.5" x2="466.3" y2="426" stroke="#ededed" stroke-width="0.6"/>
<line x1="479.1" y1="249.5" x2="479.1" y2="426" stroke="#ededed" stroke-width="0.6"/>
<line x1="492" y1="249.5" x2="492" y2="426" stroke="#ededed" stroke-width="0.6"/>
<line x1="504.8" y1="249.5" x2="504.8" y2="426" stroke="#ededed" stroke-width="0.6"/>
<line x1="517.7" y1="249.5" x2="517.7" y2="426" stroke="#dadada" stroke-width="0.9"/>
<line x1="530.5" y1="249.5" x2="530.5" y2="426" stroke="#ededed" stroke-width="0.6"/>
<line x1="88" y1="426" x2="537.5" y2="426" stroke="#dadada" stroke-width="0.8"/>
<line x1="88" y1="390.7" x2="537.5" y2="390.7" stroke="#dadada" stroke-width="0.8"/>
<line x1="88" y1="355.4" x2="537.5" y2="355.4" stroke="#dadada" stroke-width="0.8"/>
<line x1="88" y1="320.1" x2="537.5" y2="320.1" stroke="#dadada" stroke-width="0.8"/>
<line x1="88" y1="284.8" x2="537.5" y2="284.8" stroke="#dadada" stroke-width="0.8"/>
<line x1="88" y1="249.4" x2="537.5" y2="249.4" stroke="#dadada" stroke-width="0.8"/>
<rect x="60" y="240" width="117" height="45.5" fill="#fff"/>
<rect x="68.5" y="250.5" width="5.6" height="5.6" fill="#4a5ce8"/>
<text x="78.5" y="254.9" font-size="4.8" fill="#4a4a4a" text-anchor="start" textLength="2.3" lengthAdjust="spacingAndGlyphs">0</text>
<rect x="68.5" y="257.7" width="5.6" height="5.6" fill="#2b98f0"/>
<text x="78.5" y="262.1" font-size="4.8" fill="#4a4a4a" text-anchor="start" textLength="7.9" lengthAdjust="spacingAndGlyphs">4.11</text>
<rect x="68.5" y="264.9" width="5.6" height="5.6" fill="#22bec9"/>
<text x="78.5" y="269.3" font-size="4.8" fill="#4a4a4a" text-anchor="start" textLength="8.2" lengthAdjust="spacingAndGlyphs">8.21</text>
<rect x="68.5" y="272.1" width="5.6" height="5.6" fill="#5fcf8f"/>
<text x="78.5" y="276.5" font-size="4.8" fill="#4a4a4a" text-anchor="start" textLength="10.6" lengthAdjust="spacingAndGlyphs">12.32</text>
<rect x="68.5" y="279.3" width="5.6" height="5.6" fill="#9fd356"/>
<text x="78.5" y="283.7" font-size="4.8" fill="#4a4a4a" text-anchor="start" textLength="10.6" lengthAdjust="spacingAndGlyphs">16.43</text>
<rect x="124.6" y="250.5" width="5.6" height="5.6" fill="#f5e03c"/>
<text x="133.2" y="254.9" font-size="4.8" fill="#4a4a4a" text-anchor="start" textLength="10.6" lengthAdjust="spacingAndGlyphs">20.54</text>
<rect x="124.6" y="257.7" width="5.6" height="5.6" fill="#f9c12e"/>
<text x="133.2" y="262.1" font-size="4.8" fill="#4a4a4a" text-anchor="start" textLength="10.6" lengthAdjust="spacingAndGlyphs">24.64</text>
<rect x="124.6" y="264.9" width="5.6" height="5.6" fill="#f98a2c"/>
<text x="133.2" y="269.3" font-size="4.8" fill="#4a4a4a" text-anchor="start" textLength="10.6" lengthAdjust="spacingAndGlyphs">28.75</text>
<rect x="124.6" y="272.1" width="5.6" height="5.6" fill="#f44a2a"/>
<text x="133.2" y="276.5" font-size="4.8" fill="#4a4a4a" text-anchor="start" textLength="10.6" lengthAdjust="spacingAndGlyphs">32.86</text>
<rect x="124.6" y="279.3" width="5.6" height="5.6" fill="#ee1010"/>
<text x="133.2" y="283.7" font-size="4.8" fill="#4a4a4a" text-anchor="start" textLength="4.7" lengthAdjust="spacingAndGlyphs">37</text>
<text x="77.3" y="426.5" font-size="5" fill="#555" text-anchor="end">0</text>
<text x="79.7" y="391.8" font-size="5" fill="#555" text-anchor="end">20</text>
<text x="79.7" y="356.5" font-size="5" fill="#555" text-anchor="end">40</text>
<text x="79.7" y="321.2" font-size="5" fill="#555" text-anchor="end">60</text>
<text x="0" y="0" font-size="4.6" fill="#555" text-anchor="middle" transform="translate(68.8,335.5) rotate(-90)">Mutations</text>
<text x="132.4" y="434" font-size="5.2" fill="#555" text-anchor="middle">2020-May</text>
<text x="196.8" y="434" font-size="5.2" fill="#555" text-anchor="middle">2020-Oct</text>
<text x="260.6" y="434" font-size="5.2" fill="#555" text-anchor="middle">2021-Mar</text>
<text x="324.8" y="434" font-size="5.2" fill="#555" text-anchor="middle">2021-Aug</text>
<text x="389.6" y="434" font-size="5.2" fill="#555" text-anchor="middle">2022-Jan</text>
<text x="453" y="434" font-size="5.2" fill="#555" text-anchor="middle">2022-Jun</text>
<text x="517.6" y="434" font-size="5.2" fill="#555" text-anchor="middle">2022-Nov</text>
<clipPath id="cl"><rect x="64.6" y="425" width="40" height="12"/></clipPath>
<text x="78.5" y="434" font-size="5.2" fill="#555" text-anchor="end" clip-path="url(#cl)">2019-Dec</text>
<text x="294" y="440.2" font-size="4.8" fill="#666" text-anchor="middle">Date</text>
<text x="272.7" y="268.6" font-size="7.9" fill="#333" text-anchor="start" textLength="113.4" lengthAdjust="spacingAndGlyphs">rate estimate: 28.37 subs per year</text>
<path d="M80.7,426.5L134.2,416.4M80.7,426.5L134.2,416.8M80.7,426.5L134.2,417.3M80.7,426.5L134.2,417.8M80.7,426.5L134.2,418.2M80.7,426.5L134.2,418.6M80.7,426.5L134.2,419.1M80.7,426.5L134.2,419.5M80.7,426.5L134.2,420" fill="none" stroke="#7890d2" stroke-width="1.0"/>
<path d="M134,417.5L252.4,361" fill="none" stroke="#a9b67c" stroke-width="3.6"/>
<path d="M134,417L248.5,378.5M134,417L240.6,381.1M134,417L245.6,376.6M134,417L247.7,380.6" fill="none" stroke="#72a5a6" stroke-width="0.8"/>
<path d="M248.5,378.5L306,368.1M240.6,381.1L306.4,370.7M245.6,376.6L309.4,365.7M245.6,376.6L306.5,364.7M245.6,376.6L312.6,370.6M245.6,376.6L312.4,378.8M294.5,376.5L307.1,376.3M297,366.4L316.7,365.6M294.9,370.5L311.8,370.7M299.9,373.8L311,372.9M289.4,370.1L307.6,370.4M300.1,362.3L312.9,362.4M252.4,361L258,366M258,366L318,366.5M240,372.5L305,372.5M238,374.2L303,374M250,377L306,376.5M252.4,361L246,372M255,392L330,377M240,382L330,367.5" fill="none" stroke="#88b5b6" stroke-width="0.6"/>
<path d="M134,417L203,401.7" fill="none" stroke="#7f99cf" stroke-width="0.9"/>
<path d="M203,401.7L225,392.7" fill="none" stroke="#5b7be0" stroke-width="0.6"/>
<path d="M203,401.7L332,372.5M180,408L325,377.5" fill="none" stroke="#a3cccc" stroke-width="0.6"/>
<path d="M306.5,364.7L336.7,349.6M312.9,362.4L395.5,335.6M306.5,364.7L394.7,329.9M306,368.1L341.4,369M309.4,365.7L338.8,361.9M309.4,365.7L354.6,365.1M306.5,364.7L351.1,352.8M306.5,364.7L395.7,334M306.5,364.7L320.5,359M309.4,365.7L357.6,345.6M306,368.1L356.1,363.3M312.6,370.6L325.1,366.9M309.4,365.7L361.8,365.2M309.4,365.7L346.7,344.9M312.9,362.4L407.9,338.3M312.9,362.4L393.1,347.9M312.9,362.4L339.6,349.9M311.8,370.7L353.1,370.8M306,368.1L375.6,344.3M312.9,362.4L405.2,337.9M316.7,365.6L341.5,346.6M312.9,362.4L346.3,345.3M312.9,362.4L397.2,351.8M306.5,364.7L403.7,350.7M312.9,362.4L402.5,332.6M312.9,362.4L356.2,344.7M312.9,362.4L405.3,348.5M312.9,362.4L325,359.9M311,372.9L350,371.9M312.9,362.4L332.6,350M312.9,362.4L403.2,349.6M316.7,365.6L367.6,356.1M309.4,365.7L401.4,334.9M306.5,364.7L364.2,363.5M312.9,362.4L325.7,361M316.7,365.6L341.8,359.8M309.4,365.7L359.6,349.3M312.9,362.4L346.4,352.8M312.9,362.4L358.1,350M312.9,362.4L348.9,344.5M316.7,365.6L346.4,354.5M306.5,364.7L398.5,343.4M312.9,362.4L339.1,354.1M306.5,364.7L355.9,351.8M312.9,362.4L353.4,352.1M312.9,362.4L388.5,347.4M312.9,362.4L354,363.9M306,368.1L342.5,349.3M309.4,365.7L360.4,342.2M306.5,364.7L391,342.8M312.6,370.6L357.3,368.6M312.9,362.4L329.5,354.9M312.9,362.4L409.8,329.2M306.5,364.7L368.4,362.9M306.5,364.7L335.3,360.7M312.9,362.4L398.2,340.7M316.7,365.6L360.8,351.7M312.9,362.4L375.6,337.8M312.9,362.4L339,361.2M312.9,362.4L336.7,352.6M311,372.9L340.9,372.9M312.9,362.4L397.2,333.3M306.5,364.7L363,362.1M306.4,370.7L330.2,373M306.5,364.7L332.5,362.9M316.7,365.6L349.4,366.3M312.9,362.4L370.3,351.9M306.5,364.7L329.6,357.4M309.4,365.7L404,333M312.9,362.4L374.7,334M309.4,365.7L333.6,360.6M306.5,364.7L384.1,349.5M306.5,364.7L327.7,362.1M306.4,370.7L337.7,371.4M316.7,365.6L378.2,338M312.9,362.4L377.2,333.4M312.9,362.4L350.4,358.7M309.4,365.7L408,331.6M311,372.9L325.1,372.8M306.5,364.7L392.1,345M306.5,364.7L363.6,357.5M312.9,362.4L357.9,345.3M306,368.1L324.2,361.7M312.9,362.4L377.1,341.9M312.9,362.4L339.6,356.2M312.9,362.4L347.2,353.6M312.9,362.4L403.7,331.5M309.4,365.7L368.7,360.4M309.4,365.7L365.7,357.5M306,368.1L341.2,366.8M309.4,365.7L357.4,357.6M312.9,362.4L344.5,358M312.9,362.4L379.8,350.8M309.4,365.7L348.4,348.6M306.5,364.7L331.2,351.4M312.9,362.4L366.4,357M309.4,365.7L393,331.2M316.7,365.6L337.9,349.6M311.8,370.7L334.2,371.3M312.9,362.4L325,354.2M306.5,364.7L398.8,330.8M312.9,362.4L336.7,351.7M312.9,362.4L363.7,339.5M316.7,365.6L396.9,346.9M307.1,376.3L326.6,373.9M312.9,362.4L355.4,363.6M316.7,365.6L343.5,352.4M312.9,362.4L360.9,361.7M316.7,365.6L366.9,352.2M312.9,362.4L377,342.8M306.5,364.7L382.3,356.7M316.7,365.6L331.1,357M311,372.9L332.7,374.4M306.5,364.7L334.7,363.7M306,368.1L334.1,368.1M312.9,362.4L372.7,346.1M306.5,364.7L321.4,364.3M312.9,362.4L340.3,355.3M312.9,362.4L324.8,362.1M316.7,365.6L336.9,357.4M312.9,362.4L349.4,356.6M312.9,362.4L325.3,357.5M312.9,362.4L335.2,352.8M312.9,362.4L399.8,331.2M310.2,365.6L318.2,365.6M309.4,365.7L361,365.5M306.5,364.7L356,347.9M306.5,364.7L390.5,351.7M312.9,362.4L337.1,356.3M312.9,362.4L327.1,360.9M307.6,370.4L347.3,369.8M306.5,364.7L336.9,358.7M312.9,362.4L372.3,354.4M312.9,362.4L379.3,343M306.5,364.7L381.1,348.6M312.9,362.4L389.5,335.1M306.5,364.7L343.8,350.9M306.5,364.7L325.3,360.2M312.9,362.4L321.4,358.8M306.5,364.7L409.8,332.2M312.9,362.4L340,348.5M312.9,362.4L369.4,357.4M309.4,365.7L369.2,353.5M312.9,362.4L408,328.8M306.5,364.7L350.1,366.4M316.7,365.6L401.6,350.6M306,368.1L329,368M312.6,370.6L336.2,372.3M316.7,365.6L365,348.8M312.9,362.4L401.6,328.1M309.4,365.7L371.6,347.2M306,368.1L357.6,368.6M312.9,362.4L398.8,347.9M309.4,365.7L369.8,350.6M309.4,365.7L366.6,336.4M306.5,364.7L342.7,351.4M316.7,365.6L336.6,366.4M306.5,364.7L345.8,364.3M306.5,364.7L362.1,360.9M307.1,376.3L332.4,374.5M309.4,365.7L330.8,351.4M309.4,365.7L361.5,356.7M309.4,365.7L346.4,366M306.5,364.7L399.5,350M309.4,365.7L334.2,354.4M306.5,364.7L318.8,361.7M306.5,364.7L356.9,347.9M306.5,364.7L396.4,348.6M312.9,362.4L321.3,360.7M306.5,364.7L364.6,351.9M312.9,362.4L352.8,358.1M309.4,365.7L353.9,362.9M309.4,365.7L320.9,364.8M306.5,364.7L348.2,351.5M312.9,362.4L354.2,349.6M312.9,362.4L374.6,335.3M312.9,362.4L364.6,353.6M312.9,362.4L345.7,359.6M316.7,365.6L332,363M316.7,365.6L365.5,345.7M312.9,362.4L361.7,354.8M312.9,362.4L347.6,352.7M312.6,370.6L329.8,371.8M312.4,378.8L347,373.8M306.5,364.7L342.5,352.8M316.7,365.6L355.3,345.1M309.4,365.7L321.9,357.7M316.7,365.6L326,355.1M306.5,364.7L349.3,364.2M312.9,362.4L348.1,360.9M306.5,364.7L371.9,355M309.4,365.7L369,340.8M306.5,364.7L403.3,345.6M312.9,362.4L362.5,338M306,368.1L343.4,364.1M306,368.1L362,367.2M309.4,365.7L402.7,330.7M312.9,362.4L403.7,333.2M306.5,364.7L360.9,345.8M312.9,362.4L342,346.2M312.9,362.4L390.5,353.3M312.9,362.4L353.6,354.4M312.9,362.4L370.1,356.5M306.5,364.7L363.6,360.8M309.4,365.7L334.1,364.5M307.6,370.4L355.8,367.8M306,368.1L337.1,368.4M306.5,364.7L361.9,363.8M307.6,370.4L337.8,369.7M306.5,364.7L398.9,329.8M312.9,362.4L341,352.9M312.9,362.4L369.2,357.5M309.4,365.7L409.9,346.7M306.5,364.7L340.5,364.1M312.9,362.4L402.1,347.6M312.9,362.4L403,335.3M312.9,362.4L351.4,360.6M306,368.1L322,366.5M311.8,370.7L349.5,371.5M312.9,362.4L372.2,341.5M316.7,365.6L371.3,357.2M311.8,370.7L339,370.1M311,372.9L343.2,373.2M312.9,362.4L343.5,350.4M306,368.1L355.3,368.6M312.9,362.4L330.1,360.9M316.7,365.6L405.4,346.3M309.4,365.7L382,349.4M306.5,364.7L395.4,348.3M316.7,365.6L396.6,332.6M306.5,364.7L365.8,363.3M312.9,362.4L393.3,333.1M312.6,370.6L343.2,369.5M311,372.9L327.4,370.5M312.9,362.4L359.7,357.7M309.4,365.7L355.3,360.1M309.4,365.7L344.3,348.4M307.6,370.4L358.6,370.5M306.5,364.7L362.2,350M306,368.1L354.3,368.6M312.9,362.4L343.2,356.9M312.9,362.4L404,348.1M316.7,365.6L370.4,359.5M306.5,364.7L347.2,361.3M306.5,364.7L370.5,353.5M312.9,362.4L387.3,349.5M312.6,370.6L345.6,370.5M306,368.1L343,359.7M306.5,364.7L369.2,353.4M312.4,378.8L328.2,373.8M316.7,365.6L345.5,336.3M312.9,362.4L388,335.6M307.1,376.3L328,378M311,372.9L323,379" fill="none" stroke="#98c1c2" stroke-width="0.45"/>
<path d="M370,350L433.6,344.8M372,348L435,341.5M360,356L415,346" fill="none" stroke="#8fc4b8" stroke-width="0.5"/>
<path d="M252.4,361L367.5,308.9M252.4,361L371.3,311.2M252.4,361L362.5,309.5M252.4,361L363.1,307.9M252.4,361L371.6,311.1M252.4,361L364.4,309.4M252.4,361L365.5,310.3" fill="none" stroke="#d9a679" stroke-width="1.0"/>
<path d="M252.4,361L368,310.5" fill="none" stroke="#dca679" stroke-width="2.4"/>
<path d="M252.4,361L338,323.5" fill="none" stroke="#d9a474" stroke-width="3.4"/>
<path d="M348.1,319L398.5,310.5M371.6,309.4L403.4,305.7M350.6,318.2L393.7,297.9M357.9,313.4L394.8,305.8M360.7,312.4L404.3,298.1M348.2,319.4L394,298.6M351.8,318.2L398.1,297.7M364.9,312.4L403,307.8M359.7,312.3L396.6,306.1M346.7,318.9L403.8,296.2M369.3,309.8L404.9,310.7M368,308.7L397.8,303.7M349.3,318.3L404.6,298.9M360.5,313.7L393.9,304.3" fill="none" stroke="#d6a57c" stroke-width="0.75"/>
<path d="M300,342L395,312M310,338L398,309M290,346L392,314" fill="none" stroke="#dab08a" stroke-width="0.55"/>
<path d="M376.8,306.9L436.2,292.5M367.6,313.8L439.7,291.5M372.4,309.3L436.7,291.9" fill="none" stroke="#d6a57c" stroke-width="0.6"/>
<path d="M293.6,350.5L395,326M293.6,350.5L400,333M320,338L395,328" fill="none" stroke="#e39a6a" stroke-width="0.6"/>
<path d="M395,326L433.6,318.5M395,326L433.6,326.8" fill="none" stroke="#e8a070" stroke-width="0.5"/>
<path d="M404.3,298.1L435.8,300.7M396.6,306.1L424.2,301.6M403.4,305.7L421.9,306.5M397.8,303.7L407.5,303.4M398.5,310.5L423,302.9M403.8,296.2L407.4,309.9M404.6,298.9L436.7,301.7M398.1,297.7L411.5,297.3M396.6,306.1L435.4,310M394.8,305.8L440.1,307.7M394.8,305.8L424.9,308.9M404.6,298.9L422.3,297.9M398.5,310.5L416.5,311M404.6,298.9L427.4,306.9M394.8,305.8L441.8,307.3M404.3,298.1L434.7,301.6M403,307.8L409.4,300.5M397.8,303.7L425,303.3M394,298.6L426.9,300.8M396.6,306.1L412.6,306.6M404.6,298.9L435.2,303.5M403.8,296.2L426.3,299.2M398.5,310.5L420.4,305.5M393.9,304.3L409.9,300.4M396.6,306.1L436.5,309.2M403,307.8L435.1,306.7M403.4,305.7L416.6,310.2M404.3,298.1L435.7,308.1M398.5,310.5L408.6,298M398.5,310.5L414.9,301.7M394.8,305.8L421.9,298.8M396.6,306.1L433.1,297.6M403.4,305.7L405.2,301.2M397.8,303.7L423,301.6M403.4,305.7L406.7,309.2M393.7,297.9L434,298.9M394,298.6L428.3,298.5M393.9,304.3L437.2,312.2M404.3,298.1L406.2,301.2M403.4,305.7L433.7,299.4M394.8,305.8L438.8,309.9M403.4,305.7L436.4,306.3M398.1,297.7L421.2,304.5M403.8,296.2L413.2,312.2M394.8,305.8L421.4,300.8M397.8,303.7L420.9,303.6M397.8,303.7L426.1,298.8M397.8,303.7L435.9,308.8M403,307.8L421.2,309.5M404.3,298.1L407.9,299.7M403.8,296.2L415.3,296.7M393.9,304.3L438.3,306.1M398.1,297.7L421.9,306.4M393.7,297.9L420.8,305.1M394.8,305.8L418.2,312.1M403.8,296.2L438.5,300.1M393.7,297.9L427.1,296.9M394,298.6L416.5,298.7M393.7,297.9L435.3,303.1M394.8,305.8L413.7,310.6M398.1,297.7L423.7,306.6M394,298.6L422.6,310.1M403,307.8L435.4,296.1M404.6,298.9L437,310M398.5,310.5L414.9,304.5M393.9,304.3L421.8,307.3M398.1,297.7L409.7,298.6M394.8,305.8L417.7,303.7M396.6,306.1L404,308M397.8,303.7L430.8,305.4M403,307.8L422.5,308.1M398.1,297.7L437,311.6M403,307.8L410.9,312.4M403.4,305.7L436.4,295.6M404.9,310.7L430.4,295.8M403.8,296.2L435.3,296.9M403.4,305.7L424.4,304.2M403.8,296.2L419,310.5M396.6,306.1L430.4,295.6M398.1,297.7L411.8,299.2M394,298.6L407.5,308.2M403.8,296.2L417.8,306.4M404.6,298.9L419,296.6M393.9,304.3L411,305.2M394,298.6L427.8,303.8M394.8,305.8L426.6,299.4M394,298.6L443.7,297M394,298.6L424.5,310.4M404.6,298.9L412.5,305.9M397.8,303.7L409,297.1M393.9,304.3L431.5,301.4M403.4,305.7L433.3,295.9M398.5,310.5L419.8,301.5M404.9,310.7L413.7,300.5M394,298.6L405.2,301.5M393.7,297.9L423.1,308.7M394,298.6L427.5,308.7M404.3,298.1L422.2,297.3M394,298.6L407.7,306.3M404.6,298.9L417.3,298.4M398.1,297.7L418.7,306M404.6,298.9L440.1,311M403,307.8L420.1,305.9M398.1,297.7L427.4,307.5M394.8,305.8L429.1,312.1M397.8,303.7L410.2,299.3M404.6,298.9L423.7,296.9M393.7,297.9L423.5,309.4M403.8,296.2L416,296.4M403.8,296.2L413.8,303M393.7,297.9L434.3,308.5M396.6,306.1L432,289M394.8,305.8L438,291" fill="none" stroke="#dcae82" stroke-width="0.45"/>
<path d="M443.2,307.4L532.8,291.7M439.8,308.2L460,305.6M430.3,298.2L468.5,298.2M441.4,303.6L525.3,295M429.8,306.3L483.9,298.5M434.6,303.5L516,298.6M440.1,299.1L501.7,289.5M440,297.8L479.3,300.6M423.3,300.6L526.6,299M437.8,302.3L457.1,303.1M438.8,298.7L447.9,297.3M442,304.6L522.2,287.3M435.7,300.9L451.5,298.3M429,308.8L464.8,301.1M422.7,308.9L526.4,288.1M429.5,300.2L481,294.8M441.6,301.7L492.6,301.7M423.2,301.9L455.6,298.3M429,301.4L487.9,291.2M430,303.3L473,298.1M420.8,297.5L529,289.3M446.5,308.3L457,293.7M431.4,300.8L499.7,292.4M428.7,297.9L529.7,289.3M430.1,306.9L489.5,290.7M446.5,299.9L486.9,298.4M433.3,299L502.1,297.7M436.4,302L476.8,298.7M432.5,305.1L455.9,300.9M442.1,297.7L526.9,292.5M443.3,308.2L532.2,291.9M441.2,305.8L467.9,293.1M425.9,308.2L530.2,296.7M436.9,304.1L457,305.9M426.1,304.7L498.4,289.7M427.8,308L525.3,290.5M445.2,304.9L526.5,292.9M440.3,307.8L482.2,298.6M438.3,299.1L519.8,299M440.4,299.6L483.8,296M443.3,300.4L514,297.4M446.9,307L463.4,305M441.2,308L509.7,293.9M426.4,307.6L466.4,291.1M443.8,307.1L491.8,288.2M442.3,306.6L455.2,306.1M442.4,302.7L465.4,300M446.9,301.6L456.7,300.3M441.4,306.3L531.3,298.5M425.2,299L511.8,287M445.2,304.9L457.1,302.6M428,306.1L460.3,296.9M433.9,305.3L503.6,292.4M432.9,307.8L532,284.3M443.4,298.3L489.8,296.7M441.8,303.6L513.3,297.6M421.5,301.1L522.5,291.9M443,302.3L463.6,295.2M424.7,303L530.7,298.6M422.9,298.3L471.7,295.4M427.2,297.1L514.3,295M432.7,306.7L480,287.9M441.2,305.6L468.9,295M443.4,309L474.7,302.7M429.2,303.9L474.1,297.6M438.4,299.5L501.5,298.1M438.9,301.9L504.8,290.5M425.5,300.9L514.7,286.5M447.3,301.9L488,299.7M438,305.7L501.6,294.8M427.9,298.9L520.5,297.5M446.2,297.1L469.2,302.5M430.8,308L472.3,294M434.3,305.4L456.9,304.4M434.6,304.2L511,295.5M423.9,306.4L448.2,299.2M427.4,305.6L470.2,304M447.3,298L481.7,290.2M442.4,297.6L513.7,287.6M423.7,304.5L484.3,301.9M442.7,304.8L508.5,290.4M425.5,307.1L478.4,303.4M426.5,302.5L509.8,296.5M446.8,301.8L532.6,292.5M426.6,300.5L527.3,297.8M426.3,307.7L474,288.7M428.6,297.4L525.1,287.2M420.9,306L469.8,303.5M436.6,303.1L526.3,294.6M425.8,305.7L493.6,295.3M445,309L520,286.5M427.1,305.4L485.8,300.3M430.5,303L461.9,290.1M427.5,298.4L446.3,300.4M442.5,299.9L479.6,298.9M420.1,299.5L509.8,291.7M427.6,298.3L500,299.3M436.7,300.1L446.7,305.5M431.2,304L491,299.3M445.8,299L529.1,292M429.4,301.3L476.9,289.8M434.9,304.1L462,290.8M421.2,305.6L509.2,293.1M423,308.2L495.6,297.7M432.9,301.5L445.2,295.2M431.7,303.1L478.4,288.8M433.8,303.3L527.8,293.8M428.3,303.5L496.3,297.1M440.7,302.8L453,297.2M441.6,306.3L457.6,298.1M431.4,304L490.8,302.6M441.5,301.1L489.1,294.1M441.5,307.5L455.2,300.5M431.7,297.7L495.7,290.6M427.6,304.8L460.3,302M444.7,305L533.2,288.2M439.3,304.2L528.6,299.1M431.2,306.3L508.5,295.9M443.2,308.5L531.1,284.4M444.2,304.3L446.4,305M436.8,301.5L454.8,297.6M439.1,305.3L475.2,297.1M447.2,302L491,287.2M430.5,303.2L533,290.6M434.3,298.1L526.9,299.7M439.5,301.9L482.7,303.3M437.8,305.9L509.2,289.6M422.2,308.3L519.2,292.9M445,307.8L476.6,298.7M427.8,305.1L511.4,295.1M440.8,297.9L480.9,298.3M423.4,308.1L447.9,295M443.3,308.2L462.2,297.1M437.2,302.7L449.4,290.3M436.6,308.3L497,287.9M429.5,298.8L472.6,296.3M444.7,297.2L523.1,287.8M439.7,300.9L503.7,299.4M443.2,307.1L484.1,296.2M423.5,302.3L520.2,285.8M435.7,297.5L483.4,301.1M443.4,302.6L492.1,298.2M430.5,301.5L530.6,296.5M424.4,307.5L502.6,289.5M446.7,307.2L524.7,297.7M423.1,307.2L465.5,305.4M422.8,301.2L484.6,297.5M441.3,304.8L493.6,302.5M424,298.2L470.1,299.2M436.1,307.8L506,295.6M435.2,300.8L518,298.3M427,304.9L457.3,292.8M435.6,304.1L527.5,297.6M434.4,303.8L463.7,294.3M440.5,301.1L512.7,295.3M431,303.4L480,298.3M432.9,305L530.8,292.3M431.4,303.2L497.3,300.2M433.8,308.9L470.6,289.9M424.8,301.8L524.9,295M442.2,306.4L531,287.5M420.3,303.5L503.7,294.6M439.6,297.3L527.2,290.1M442.7,300.1L476.5,295.1M444.3,308.5L468,301.6M434.7,304.5L521,295.1M437.2,305.5L526.3,291.9M426.3,307.2L476.4,302.8M431.7,307.3L449.1,299.6M440.3,301.9L504.5,287.3M444.3,302.6L524.9,289.2M431.5,297.4L526.7,289.2M424.3,298L513.1,294.6M436.7,306.1L521.1,284.6M420,309L491,299.4M436.5,298.3L523,299.9M433.6,301.7L514.7,294.4M428,308.4L471,290.3M447.7,306.8L464.5,290M445.7,304.9L479.8,295.1M423.7,297.5L490,302M423.5,304.4L484,303.7M442.7,305.7L452.9,299M426.3,302.2L489.6,290M421.1,300L500.8,296.2M437.5,298.6L512.3,296.8M422.7,301L472.3,290.1M440,297.2L502.8,289.5M433.2,300.8L471,291.4M422.6,298.4L495.8,297.6M438.7,301.2L447.5,304.2M432.1,306L525.3,288.8M426.3,300.8L526.7,290.4M428,308.6L504.3,288.6M443,302.7L501,288M423.7,305.4L521.5,289.5M437.4,307.7L447.8,300.5M440,302.8L512.4,291.1M421.6,300.6L486.6,297.2M427.1,304.7L458.5,292.7M441.7,308.1L465.1,303.3M421.1,302L531.6,294.1M436.9,306.3L494,288.1M440.9,299.2L479.7,302.4M423.9,307.4L449.9,298.6M431.4,304.1L498.2,301.5M420.8,307.1L533.4,284.8M429.7,305.4L532.6,298.3M422.2,305.6L509.1,290.1M428.1,299.3L526.1,292.1M430.8,308.8L485.7,303.6M436.6,297.1L486.8,301.4M421.6,306.6L449.3,304.7M433.6,301.7L518.6,299.1M445.7,308.5L475,290.8M447.2,297.5L532.5,299M429.9,307.7L491,313M441.3,299.8L498.7,308M444.5,308.1L470,304M446.7,306.3L480,311M421.4,297.8L460,313" fill="none" stroke="#e3a67c" stroke-width="0.4"/>
<path d="M440,306L491,313M445,304L498.7,308M430,310L480,311M425,311L460,313M470,302L532.5,299" fill="none" stroke="#e8a36f" stroke-width="0.6"/>
<path d="M472.1,286L510.8,266.6M454.5,289.1L511.2,262.2M475.9,283.7L511.7,262.9M470.4,287.9L514.3,262.8M437.1,292.1L515.7,258.8M467.4,284.8L509.9,260.2M475.8,287.1L512.1,269.7M426.3,297.3L512.6,263.9M436,293.2L508.9,257.5M458.6,291.6L509.2,263M456.8,291.2L509.7,261.9M445.4,294.8L509.3,267.8M465.3,286.5L512.8,262.2M424.9,295.1L508.7,265.5M465.9,285.3L511.2,268.4M454.7,292.4L508.3,264.7M475.6,284.1L514.1,260.9M464.9,287.5L512.1,266.2" fill="none" stroke="#dc5f70" stroke-width="0.55"/>
<path d="M512,263L527,268.5M512,263L525.1,252M512,263L523.5,262.4M512,263L523.3,262.2M512,263L535.5,258.7M512,263L518.2,261.5M512,263L524.9,255.2M512,263L520.8,249.8M512,263L525.7,255.1M512,263L532.5,269.1M512,263L533.8,250.6M512,263L526.2,251.4M512,263L521.7,262.6M512,263L519.8,251.5M512,263L533.1,252.7M512,263L533.4,258.3M512,263L531.6,270.1M512,263L532.4,268.1M512,263L517.7,264.7M512,263L530.6,253.2M512,263L537,262.9M512,263L517.9,257.8M512,263L514.5,258.8M512,263L515.3,261.9M512,263L518.8,250.9M512,263L522.9,251.1M512,263L531.3,253.1M512,263L517.1,257.7M512,263L515.8,260.2M512,263L532.6,260M512,263L523.8,269.8M512,263L514.2,262.5M512,263L524.7,254.7M512,263L526.5,259.8M512,263L523.9,256.2M512,263L535,252.2M512,263L520.7,254M512,263L524.6,258M512,263L529.8,257.6M512,263L538.8,261.9M512,263L529.1,268.3M512,263L519.8,255.2M512,263L524.8,262.1M512,263L521.2,269.1M512,263L518.4,260M512,263L531.6,269.5M512,263L534.7,257.6M512,263L534.1,262.7M512,263L537.1,257.7M512,263L527.8,254.3M512,263L516.3,260.3M512,263L516.1,256.6M512,263L524.1,268.2M512,263L516.9,253.8M512,263L524.1,248.4M512,263L523.7,255.8M512,263L526.6,262.3M512,263L522.5,256.9M512,263L514.2,261.2M512,263L517.6,253M512,263L525.9,262.8M512,263L525.9,260.2M512,263L529.4,252.7M512,263L517.6,264M512,263L528.8,257.1M512,263L532.3,251.2M512,263L524.1,248.3M512,263L522.8,263.7M512,263L526.5,265.9M512,263L514.1,261.4M512,263L528.2,258.1M512,263L530,253.4M512,263L529.2,266.4M512,263L520.5,259.6M512,263L537.1,262.3M512,263L535.9,256.5M512,263L534.5,251.5M512,263L523.2,253.2M512,263L535.9,264.2M512,263L517.3,261.6M512,263L532.7,265.1M512,263L536.1,267.2M512,263L536.5,261M512,263L531.2,262.2M512,263L517.8,254.4M512,263L534.5,255.9M512,263L520.8,255.8M512,263L535.2,256.4M512,263L514.1,261.8M512,263L531.3,265.2M512,263L529.8,249.7M512,263L516,259.3M512,263L528.4,253M512,263L533.5,263.1M512,263L532.7,268.8M512,263L533.6,254.8M512,263L516.6,251.8M512,263L525.1,269.8M512,263L522.8,262.4M512,263L525.4,257.5M512,263L521.2,263.4M512,263L518.7,253.4M512,263L523.2,263.9M512,263L523,251.3M512,263L539.7,261.1M512,263L522.5,256.2M512,263L530.9,255.4M512,263L532.7,254.8M512,263L525.9,263.3M512,263L517.8,258.4M512,263L528.3,265.6M512,263L532,250.2M512,263L525.4,258.3M512,263L522.6,259.9M512,263L521.1,251.7M512,263L529.6,257.4M512,263L536.5,253.6M512,263L522.9,254M512,263L521.9,253.3M512,263L519.7,266.7M512,263L525.2,261M512,263L530.9,266.6M512,263L515.7,265.9M512,263L523.6,248.8M512,263L524.7,264.6M512,263L522.3,263.9M512,263L515.4,264.6M512,263L536,261.3M512,263L531.9,250.2M512,263L529.5,259.6M512,263L527.6,262.7M512,263L534.6,256.6M512,263L528.4,251M512,263L514.7,254.2M512,263L515.6,260.2M512,263L516,277M512,263L519.5,279.7M512,263L522.7,274.5M512,263L512,266M512,263L510,262M512,263L528,247" fill="none" stroke="#e57b7b" stroke-width="0.35"/>
<g fill="#3a5ce8"><circle cx="203" cy="401.7" r="1.6"/><circle cx="225" cy="392.7" r="1.6"/></g>
<g fill="#1cbec8"><circle cx="336.7" cy="349.6" r="1.65"/><circle cx="395.5" cy="335.6" r="1.65"/><circle cx="394.7" cy="329.9" r="1.65"/><circle cx="341.4" cy="369" r="1.65"/><circle cx="338.8" cy="361.9" r="1.65"/><circle cx="354.6" cy="365.1" r="1.65"/><circle cx="351.1" cy="352.8" r="1.65"/><circle cx="395.7" cy="334" r="1.65"/><circle cx="320.5" cy="359" r="1.65"/><circle cx="357.6" cy="345.6" r="1.65"/><circle cx="356.1" cy="363.3" r="1.65"/><circle cx="325.1" cy="366.9" r="1.65"/><circle cx="361.8" cy="365.2" r="1.65"/><circle cx="346.7" cy="344.9" r="1.65"/><circle cx="407.9" cy="338.3" r="1.65"/><circle cx="393.1" cy="347.9" r="1.65"/><circle cx="339.6" cy="349.9" r="1.65"/><circle cx="353.1" cy="370.8" r="1.65"/><circle cx="375.6" cy="344.3" r="1.65"/><circle cx="405.2" cy="337.9" r="1.65"/><circle cx="341.5" cy="346.6" r="1.65"/><circle cx="346.3" cy="345.3" r="1.65"/><circle cx="397.2" cy="351.8" r="1.65"/><circle cx="403.7" cy="350.7" r="1.65"/><circle cx="402.5" cy="332.6" r="1.65"/><circle cx="356.2" cy="344.7" r="1.65"/><circle cx="405.3" cy="348.5" r="1.65"/><circle cx="325" cy="359.9" r="1.65"/><circle cx="350" cy="371.9" r="1.65"/><circle cx="332.6" cy="350" r="1.65"/><circle cx="403.2" cy="349.6" r="1.65"/><circle cx="367.6" cy="356.1" r="1.65"/><circle cx="401.4" cy="334.9" r="1.65"/><circle cx="364.2" cy="363.5" r="1.65"/><circle cx="325.7" cy="361" r="1.65"/><circle cx="341.8" cy="359.8" r="1.65"/><circle cx="359.6" cy="349.3" r="1.65"/><circle cx="346.4" cy="352.8" r="1.65"/><circle cx="358.1" cy="350" r="1.65"/><circle cx="348.9" cy="344.5" r="1.65"/><circle cx="346.4" cy="354.5" r="1.65"/><circle cx="398.5" cy="343.4" r="1.65"/><circle cx="339.1" cy="354.1" r="1.65"/><circle cx="355.9" cy="351.8" r="1.65"/><circle cx="353.4" cy="352.1" r="1.65"/><circle cx="388.5" cy="347.4" r="1.65"/><circle cx="354" cy="363.9" r="1.65"/><circle cx="342.5" cy="349.3" r="1.65"/><circle cx="360.4" cy="342.2" r="1.65"/><circle cx="391" cy="342.8" r="1.65"/><circle cx="357.3" cy="368.6" r="1.65"/><circle cx="329.5" cy="354.9" r="1.65"/><circle cx="409.8" cy="329.2" r="1.65"/><circle cx="368.4" cy="362.9" r="1.65"/><circle cx="335.3" cy="360.7" r="1.65"/><circle cx="398.2" cy="340.7" r="1.65"/><circle cx="360.8" cy="351.7" r="1.65"/><circle cx="375.6" cy="337.8" r="1.65"/><circle cx="339" cy="361.2" r="1.65"/><circle cx="336.7" cy="352.6" r="1.65"/><circle cx="340.9" cy="372.9" r="1.65"/><circle cx="397.2" cy="333.3" r="1.65"/><circle cx="363" cy="362.1" r="1.65"/><circle cx="330.2" cy="373" r="1.65"/><circle cx="332.5" cy="362.9" r="1.65"/><circle cx="349.4" cy="366.3" r="1.65"/><circle cx="370.3" cy="351.9" r="1.65"/><circle cx="329.6" cy="357.4" r="1.65"/><circle cx="404" cy="333" r="1.65"/><circle cx="374.7" cy="334" r="1.65"/><circle cx="333.6" cy="360.6" r="1.65"/><circle cx="384.1" cy="349.5" r="1.65"/><circle cx="327.7" cy="362.1" r="1.65"/><circle cx="337.7" cy="371.4" r="1.65"/><circle cx="378.2" cy="338" r="1.65"/><circle cx="377.2" cy="333.4" r="1.65"/><circle cx="350.4" cy="358.7" r="1.65"/><circle cx="408" cy="331.6" r="1.65"/><circle cx="325.1" cy="372.8" r="1.65"/><circle cx="392.1" cy="345" r="1.65"/><circle cx="363.6" cy="357.5" r="1.65"/><circle cx="357.9" cy="345.3" r="1.65"/><circle cx="324.2" cy="361.7" r="1.65"/><circle cx="377.1" cy="341.9" r="1.65"/><circle cx="339.6" cy="356.2" r="1.65"/><circle cx="347.2" cy="353.6" r="1.65"/><circle cx="403.7" cy="331.5" r="1.65"/><circle cx="368.7" cy="360.4" r="1.65"/><circle cx="365.7" cy="357.5" r="1.65"/><circle cx="341.2" cy="366.8" r="1.65"/><circle cx="357.4" cy="357.6" r="1.65"/><circle cx="344.5" cy="358" r="1.65"/><circle cx="379.8" cy="350.8" r="1.65"/><circle cx="348.4" cy="348.6" r="1.65"/><circle cx="331.2" cy="351.4" r="1.65"/><circle cx="366.4" cy="357" r="1.65"/><circle cx="393" cy="331.2" r="1.65"/><circle cx="337.9" cy="349.6" r="1.65"/><circle cx="334.2" cy="371.3" r="1.65"/><circle cx="325" cy="354.2" r="1.65"/><circle cx="398.8" cy="330.8" r="1.65"/><circle cx="336.7" cy="351.7" r="1.65"/><circle cx="363.7" cy="339.5" r="1.65"/><circle cx="396.9" cy="346.9" r="1.65"/><circle cx="326.6" cy="373.9" r="1.65"/><circle cx="355.4" cy="363.6" r="1.65"/><circle cx="343.5" cy="352.4" r="1.65"/><circle cx="360.9" cy="361.7" r="1.65"/><circle cx="366.9" cy="352.2" r="1.65"/><circle cx="377" cy="342.8" r="1.65"/><circle cx="382.3" cy="356.7" r="1.65"/><circle cx="331.1" cy="357" r="1.65"/><circle cx="332.7" cy="374.4" r="1.65"/><circle cx="334.7" cy="363.7" r="1.65"/><circle cx="334.1" cy="368.1" r="1.65"/><circle cx="372.7" cy="346.1" r="1.65"/><circle cx="321.4" cy="364.3" r="1.65"/><circle cx="340.3" cy="355.3" r="1.65"/><circle cx="324.8" cy="362.1" r="1.65"/><circle cx="336.9" cy="357.4" r="1.65"/><circle cx="349.4" cy="356.6" r="1.65"/><circle cx="325.3" cy="357.5" r="1.65"/><circle cx="335.2" cy="352.8" r="1.65"/><circle cx="399.8" cy="331.2" r="1.65"/><circle cx="318.2" cy="365.6" r="1.65"/><circle cx="361" cy="365.5" r="1.65"/><circle cx="356" cy="347.9" r="1.65"/><circle cx="390.5" cy="351.7" r="1.65"/><circle cx="337.1" cy="356.3" r="1.65"/><circle cx="327.1" cy="360.9" r="1.65"/><circle cx="347.3" cy="369.8" r="1.65"/><circle cx="336.9" cy="358.7" r="1.65"/><circle cx="372.3" cy="354.4" r="1.65"/><circle cx="379.3" cy="343" r="1.65"/><circle cx="381.1" cy="348.6" r="1.65"/><circle cx="389.5" cy="335.1" r="1.65"/><circle cx="343.8" cy="350.9" r="1.65"/><circle cx="325.3" cy="360.2" r="1.65"/><circle cx="321.4" cy="358.8" r="1.65"/><circle cx="409.8" cy="332.2" r="1.65"/><circle cx="340" cy="348.5" r="1.65"/><circle cx="369.4" cy="357.4" r="1.65"/><circle cx="369.2" cy="353.5" r="1.65"/><circle cx="408" cy="328.8" r="1.65"/><circle cx="350.1" cy="366.4" r="1.65"/><circle cx="401.6" cy="350.6" r="1.65"/><circle cx="329" cy="368" r="1.65"/><circle cx="336.2" cy="372.3" r="1.65"/><circle cx="365" cy="348.8" r="1.65"/><circle cx="401.6" cy="328.1" r="1.65"/><circle cx="371.6" cy="347.2" r="1.65"/><circle cx="357.6" cy="368.6" r="1.65"/><circle cx="398.8" cy="347.9" r="1.65"/><circle cx="369.8" cy="350.6" r="1.65"/><circle cx="366.6" cy="336.4" r="1.65"/><circle cx="342.7" cy="351.4" r="1.65"/><circle cx="336.6" cy="366.4" r="1.65"/><circle cx="345.8" cy="364.3" r="1.65"/><circle cx="362.1" cy="360.9" r="1.65"/><circle cx="332.4" cy="374.5" r="1.65"/><circle cx="330.8" cy="351.4" r="1.65"/><circle cx="361.5" cy="356.7" r="1.65"/><circle cx="346.4" cy="366" r="1.65"/><circle cx="399.5" cy="350" r="1.65"/><circle cx="334.2" cy="354.4" r="1.65"/><circle cx="318.8" cy="361.7" r="1.65"/><circle cx="356.9" cy="347.9" r="1.65"/><circle cx="396.4" cy="348.6" r="1.65"/><circle cx="321.3" cy="360.7" r="1.65"/><circle cx="364.6" cy="351.9" r="1.65"/><circle cx="352.8" cy="358.1" r="1.65"/><circle cx="353.9" cy="362.9" r="1.65"/><circle cx="320.9" cy="364.8" r="1.65"/><circle cx="348.2" cy="351.5" r="1.65"/><circle cx="354.2" cy="349.6" r="1.65"/><circle cx="374.6" cy="335.3" r="1.65"/><circle cx="364.6" cy="353.6" r="1.65"/><circle cx="345.7" cy="359.6" r="1.65"/><circle cx="332" cy="363" r="1.65"/><circle cx="365.5" cy="345.7" r="1.65"/><circle cx="361.7" cy="354.8" r="1.65"/><circle cx="347.6" cy="352.7" r="1.65"/><circle cx="329.8" cy="371.8" r="1.65"/><circle cx="347" cy="373.8" r="1.65"/><circle cx="342.5" cy="352.8" r="1.65"/><circle cx="355.3" cy="345.1" r="1.65"/><circle cx="321.9" cy="357.7" r="1.65"/><circle cx="326" cy="355.1" r="1.65"/><circle cx="349.3" cy="364.2" r="1.65"/><circle cx="348.1" cy="360.9" r="1.65"/><circle cx="371.9" cy="355" r="1.65"/><circle cx="369" cy="340.8" r="1.65"/><circle cx="403.3" cy="345.6" r="1.65"/><circle cx="362.5" cy="338" r="1.65"/><circle cx="343.4" cy="364.1" r="1.65"/><circle cx="362" cy="367.2" r="1.65"/><circle cx="402.7" cy="330.7" r="1.65"/><circle cx="403.7" cy="333.2" r="1.65"/><circle cx="360.9" cy="345.8" r="1.65"/><circle cx="342" cy="346.2" r="1.65"/><circle cx="390.5" cy="353.3" r="1.65"/><circle cx="353.6" cy="354.4" r="1.65"/><circle cx="370.1" cy="356.5" r="1.65"/><circle cx="363.6" cy="360.8" r="1.65"/><circle cx="334.1" cy="364.5" r="1.65"/><circle cx="355.8" cy="367.8" r="1.65"/><circle cx="337.1" cy="368.4" r="1.65"/><circle cx="361.9" cy="363.8" r="1.65"/><circle cx="337.8" cy="369.7" r="1.65"/><circle cx="398.9" cy="329.8" r="1.65"/><circle cx="341" cy="352.9" r="1.65"/><circle cx="369.2" cy="357.5" r="1.65"/><circle cx="409.9" cy="346.7" r="1.65"/><circle cx="340.5" cy="364.1" r="1.65"/><circle cx="402.1" cy="347.6" r="1.65"/><circle cx="403" cy="335.3" r="1.65"/><circle cx="351.4" cy="360.6" r="1.65"/><circle cx="322" cy="366.5" r="1.65"/><circle cx="349.5" cy="371.5" r="1.65"/><circle cx="372.2" cy="341.5" r="1.65"/><circle cx="371.3" cy="357.2" r="1.65"/><circle cx="339" cy="370.1" r="1.65"/><circle cx="343.2" cy="373.2" r="1.65"/><circle cx="343.5" cy="350.4" r="1.65"/><circle cx="355.3" cy="368.6" r="1.65"/><circle cx="330.1" cy="360.9" r="1.65"/><circle cx="405.4" cy="346.3" r="1.65"/><circle cx="382" cy="349.4" r="1.65"/><circle cx="395.4" cy="348.3" r="1.65"/><circle cx="396.6" cy="332.6" r="1.65"/><circle cx="365.8" cy="363.3" r="1.65"/><circle cx="393.3" cy="333.1" r="1.65"/><circle cx="343.2" cy="369.5" r="1.65"/><circle cx="327.4" cy="370.5" r="1.65"/><circle cx="359.7" cy="357.7" r="1.65"/><circle cx="355.3" cy="360.1" r="1.65"/><circle cx="344.3" cy="348.4" r="1.65"/><circle cx="358.6" cy="370.5" r="1.65"/><circle cx="362.2" cy="350" r="1.65"/><circle cx="354.3" cy="368.6" r="1.65"/><circle cx="343.2" cy="356.9" r="1.65"/><circle cx="404" cy="348.1" r="1.65"/><circle cx="370.4" cy="359.5" r="1.65"/><circle cx="347.2" cy="361.3" r="1.65"/><circle cx="370.5" cy="353.5" r="1.65"/><circle cx="387.3" cy="349.5" r="1.65"/><circle cx="345.6" cy="370.5" r="1.65"/><circle cx="343" cy="359.7" r="1.65"/><circle cx="369.2" cy="353.4" r="1.65"/><circle cx="328.2" cy="373.8" r="1.65"/><circle cx="345.5" cy="336.3" r="1.65"/><circle cx="388" cy="335.6" r="1.65"/><circle cx="328" cy="378" r="1.65"/><circle cx="323" cy="379" r="1.65"/></g>
<g fill="#3fc9a0"><circle cx="375" cy="333" r="1.65"/></g>
<g fill="#2fc6a0"><circle cx="252.4" cy="361" r="1.7"/></g>
<g fill="#3dc6a8"><circle cx="433.6" cy="344.8" r="1.65"/><circle cx="435" cy="341.5" r="1.65"/></g>
<g fill="#f8b22a"><circle cx="435.8" cy="300.7" r="1.7"/><circle cx="424.2" cy="301.6" r="1.7"/><circle cx="421.9" cy="306.5" r="1.7"/><circle cx="407.5" cy="303.4" r="1.7"/><circle cx="423" cy="302.9" r="1.7"/><circle cx="407.4" cy="309.9" r="1.7"/><circle cx="436.7" cy="301.7" r="1.7"/><circle cx="411.5" cy="297.3" r="1.7"/><circle cx="435.4" cy="310" r="1.7"/><circle cx="399.9" cy="308" r="1.7"/><circle cx="440.1" cy="307.7" r="1.7"/><circle cx="424.9" cy="308.9" r="1.7"/><circle cx="422.3" cy="297.9" r="1.7"/><circle cx="416.5" cy="311" r="1.7"/><circle cx="427.4" cy="306.9" r="1.7"/><circle cx="441.8" cy="307.3" r="1.7"/><circle cx="400.2" cy="296.8" r="1.7"/><circle cx="434.7" cy="301.6" r="1.7"/><circle cx="409.4" cy="300.5" r="1.7"/><circle cx="425" cy="303.3" r="1.7"/><circle cx="426.9" cy="300.8" r="1.7"/><circle cx="412.6" cy="306.6" r="1.7"/><circle cx="403.6" cy="298.2" r="1.7"/><circle cx="402.3" cy="305.1" r="1.7"/><circle cx="435.2" cy="303.5" r="1.7"/><circle cx="426.3" cy="299.2" r="1.7"/><circle cx="420.4" cy="305.5" r="1.7"/><circle cx="409.9" cy="300.4" r="1.7"/><circle cx="436.5" cy="309.2" r="1.7"/><circle cx="402.6" cy="305.6" r="1.7"/><circle cx="435.1" cy="306.7" r="1.7"/><circle cx="416.6" cy="310.2" r="1.7"/><circle cx="435.7" cy="308.1" r="1.7"/><circle cx="400.6" cy="305.3" r="1.7"/><circle cx="403.3" cy="303.7" r="1.7"/><circle cx="408.6" cy="298" r="1.7"/><circle cx="402.5" cy="311.5" r="1.7"/><circle cx="414.9" cy="301.7" r="1.7"/><circle cx="421.9" cy="298.8" r="1.7"/><circle cx="433.1" cy="297.6" r="1.7"/><circle cx="405.2" cy="301.2" r="1.7"/><circle cx="423" cy="301.6" r="1.7"/><circle cx="402.5" cy="295.7" r="1.7"/><circle cx="406.7" cy="309.2" r="1.7"/><circle cx="434" cy="298.9" r="1.7"/><circle cx="428.3" cy="298.5" r="1.7"/><circle cx="437.2" cy="312.2" r="1.7"/><circle cx="406.2" cy="301.2" r="1.7"/><circle cx="398.3" cy="309.8" r="1.7"/><circle cx="433.7" cy="299.4" r="1.7"/><circle cx="438.8" cy="309.9" r="1.7"/><circle cx="436.4" cy="306.3" r="1.7"/><circle cx="421.2" cy="304.5" r="1.7"/><circle cx="413.2" cy="312.2" r="1.7"/><circle cx="401.8" cy="306.4" r="1.7"/><circle cx="421.4" cy="300.8" r="1.7"/><circle cx="420.9" cy="303.6" r="1.7"/><circle cx="426.1" cy="298.8" r="1.7"/><circle cx="435.9" cy="308.8" r="1.7"/><circle cx="421.2" cy="309.5" r="1.7"/><circle cx="407.9" cy="299.7" r="1.7"/><circle cx="415.3" cy="296.7" r="1.7"/><circle cx="438.3" cy="306.1" r="1.7"/><circle cx="421.9" cy="306.4" r="1.7"/><circle cx="420.8" cy="305.1" r="1.7"/><circle cx="418.2" cy="312.1" r="1.7"/><circle cx="438.5" cy="300.1" r="1.7"/><circle cx="427.1" cy="296.9" r="1.7"/><circle cx="398.6" cy="301.2" r="1.7"/><circle cx="416.5" cy="298.7" r="1.7"/><circle cx="435.3" cy="303.1" r="1.7"/><circle cx="413.7" cy="310.6" r="1.7"/><circle cx="423.7" cy="306.6" r="1.7"/><circle cx="422.6" cy="310.1" r="1.7"/><circle cx="435.4" cy="296.1" r="1.7"/><circle cx="437" cy="310" r="1.7"/><circle cx="398.6" cy="300.4" r="1.7"/><circle cx="414.9" cy="304.5" r="1.7"/><circle cx="403.7" cy="303.9" r="1.7"/><circle cx="421.8" cy="307.3" r="1.7"/><circle cx="409.7" cy="298.6" r="1.7"/><circle cx="417.7" cy="303.7" r="1.7"/><circle cx="404" cy="308" r="1.7"/><circle cx="403.3" cy="305.7" r="1.7"/><circle cx="430.8" cy="305.4" r="1.7"/><circle cx="422.5" cy="308.1" r="1.7"/><circle cx="398" cy="305.3" r="1.7"/><circle cx="437" cy="311.6" r="1.7"/><circle cx="410.9" cy="312.4" r="1.7"/><circle cx="436.4" cy="295.6" r="1.7"/><circle cx="430.4" cy="295.8" r="1.7"/><circle cx="435.3" cy="296.9" r="1.7"/><circle cx="424.4" cy="304.2" r="1.7"/><circle cx="419" cy="310.5" r="1.7"/><circle cx="430.4" cy="295.6" r="1.7"/><circle cx="411.8" cy="299.2" r="1.7"/><circle cx="403.8" cy="300.1" r="1.7"/><circle cx="407.5" cy="308.2" r="1.7"/><circle cx="417.8" cy="306.4" r="1.7"/><circle cx="419" cy="296.6" r="1.7"/><circle cx="411" cy="305.2" r="1.7"/><circle cx="427.8" cy="303.8" r="1.7"/><circle cx="426.6" cy="299.4" r="1.7"/><circle cx="443.7" cy="297" r="1.7"/><circle cx="424.5" cy="310.4" r="1.7"/><circle cx="403.7" cy="310.7" r="1.7"/><circle cx="412.5" cy="305.9" r="1.7"/><circle cx="409" cy="297.1" r="1.7"/><circle cx="431.5" cy="301.4" r="1.7"/><circle cx="433.3" cy="295.9" r="1.7"/><circle cx="419.8" cy="301.5" r="1.7"/><circle cx="413.7" cy="300.5" r="1.7"/><circle cx="405.2" cy="301.5" r="1.7"/><circle cx="423.1" cy="308.7" r="1.7"/><circle cx="427.5" cy="308.7" r="1.7"/><circle cx="422.2" cy="297.3" r="1.7"/><circle cx="407.7" cy="306.3" r="1.7"/><circle cx="417.3" cy="298.4" r="1.7"/><circle cx="400.4" cy="296.1" r="1.7"/><circle cx="418.7" cy="306" r="1.7"/><circle cx="440.1" cy="311" r="1.7"/><circle cx="420.1" cy="305.9" r="1.7"/><circle cx="427.4" cy="307.5" r="1.7"/><circle cx="429.1" cy="312.1" r="1.7"/><circle cx="410.2" cy="299.3" r="1.7"/><circle cx="423.7" cy="296.9" r="1.7"/><circle cx="423.5" cy="309.4" r="1.7"/><circle cx="416" cy="296.4" r="1.7"/><circle cx="413.8" cy="303" r="1.7"/><circle cx="434.3" cy="308.5" r="1.7"/><circle cx="432" cy="289" r="1.7"/><circle cx="438" cy="291" r="1.7"/></g>
<g fill="#f7922a"><circle cx="388.9" cy="327.5" r="1.7"/><circle cx="395.8" cy="321.3" r="1.7"/><circle cx="386.2" cy="322.5" r="1.7"/><circle cx="401.4" cy="321.5" r="1.7"/><circle cx="395.4" cy="324.6" r="1.7"/><circle cx="399.3" cy="332.7" r="1.7"/><circle cx="409.5" cy="328" r="1.7"/><circle cx="411.6" cy="321.3" r="1.7"/><circle cx="402.6" cy="330.5" r="1.7"/><circle cx="386.4" cy="332.3" r="1.7"/><circle cx="403.7" cy="332.3" r="1.7"/><circle cx="392.2" cy="322.1" r="1.7"/><circle cx="403.6" cy="322.1" r="1.7"/><circle cx="401" cy="324.1" r="1.7"/><circle cx="390" cy="322.5" r="1.7"/><circle cx="409" cy="322" r="1.7"/><circle cx="388.5" cy="325.2" r="1.7"/><circle cx="391.7" cy="326.8" r="1.7"/><circle cx="405.2" cy="332.1" r="1.7"/><circle cx="403.5" cy="324" r="1.7"/><circle cx="392.8" cy="325.7" r="1.7"/><circle cx="393.5" cy="327.2" r="1.7"/><circle cx="397.5" cy="331.3" r="1.7"/><circle cx="406.2" cy="328" r="1.7"/><circle cx="410.8" cy="331.6" r="1.7"/><circle cx="393.1" cy="331.2" r="1.7"/><circle cx="409.5" cy="330" r="1.7"/><circle cx="409.7" cy="320.6" r="1.7"/><circle cx="410.4" cy="328.5" r="1.7"/><circle cx="390.9" cy="329.7" r="1.7"/><circle cx="433.6" cy="318.5" r="1.7"/><circle cx="433.6" cy="326.8" r="1.7"/></g>
<g fill="#f9952a"><circle cx="532.8" cy="291.7" r="1.7"/><circle cx="460" cy="305.6" r="1.7"/><circle cx="468.5" cy="298.2" r="1.7"/><circle cx="525.3" cy="295" r="1.7"/><circle cx="483.9" cy="298.5" r="1.7"/><circle cx="516" cy="298.6" r="1.7"/><circle cx="501.7" cy="289.5" r="1.7"/><circle cx="479.3" cy="300.6" r="1.7"/><circle cx="526.6" cy="299" r="1.7"/><circle cx="457.1" cy="303.1" r="1.7"/><circle cx="447.9" cy="297.3" r="1.7"/><circle cx="522.2" cy="287.3" r="1.7"/><circle cx="451.5" cy="298.3" r="1.7"/><circle cx="464.8" cy="301.1" r="1.7"/><circle cx="526.4" cy="288.1" r="1.7"/><circle cx="481" cy="294.8" r="1.7"/><circle cx="492.6" cy="301.7" r="1.7"/><circle cx="455.6" cy="298.3" r="1.7"/><circle cx="487.9" cy="291.2" r="1.7"/><circle cx="473" cy="298.1" r="1.7"/><circle cx="529" cy="289.3" r="1.7"/><circle cx="457" cy="293.7" r="1.7"/><circle cx="499.7" cy="292.4" r="1.7"/><circle cx="529.7" cy="289.3" r="1.7"/><circle cx="489.5" cy="290.7" r="1.7"/><circle cx="486.9" cy="298.4" r="1.7"/><circle cx="502.1" cy="297.7" r="1.7"/><circle cx="476.8" cy="298.7" r="1.7"/><circle cx="455.9" cy="300.9" r="1.7"/><circle cx="526.9" cy="292.5" r="1.7"/><circle cx="532.2" cy="291.9" r="1.7"/><circle cx="467.9" cy="293.1" r="1.7"/><circle cx="530.2" cy="296.7" r="1.7"/><circle cx="457" cy="305.9" r="1.7"/><circle cx="498.4" cy="289.7" r="1.7"/><circle cx="525.3" cy="290.5" r="1.7"/><circle cx="526.5" cy="292.9" r="1.7"/><circle cx="482.2" cy="298.6" r="1.7"/><circle cx="519.8" cy="299" r="1.7"/><circle cx="483.8" cy="296" r="1.7"/><circle cx="514" cy="297.4" r="1.7"/><circle cx="463.4" cy="305" r="1.7"/><circle cx="509.7" cy="293.9" r="1.7"/><circle cx="466.4" cy="291.1" r="1.7"/><circle cx="491.8" cy="288.2" r="1.7"/><circle cx="455.2" cy="306.1" r="1.7"/><circle cx="465.4" cy="300" r="1.7"/><circle cx="456.7" cy="300.3" r="1.7"/><circle cx="531.3" cy="298.5" r="1.7"/><circle cx="511.8" cy="287" r="1.7"/><circle cx="457.1" cy="302.6" r="1.7"/><circle cx="460.3" cy="296.9" r="1.7"/><circle cx="503.6" cy="292.4" r="1.7"/><circle cx="532" cy="284.3" r="1.7"/><circle cx="489.8" cy="296.7" r="1.7"/><circle cx="513.3" cy="297.6" r="1.7"/><circle cx="522.5" cy="291.9" r="1.7"/><circle cx="463.6" cy="295.2" r="1.7"/><circle cx="530.7" cy="298.6" r="1.7"/><circle cx="471.7" cy="295.4" r="1.7"/><circle cx="514.3" cy="295" r="1.7"/><circle cx="480" cy="287.9" r="1.7"/><circle cx="468.9" cy="295" r="1.7"/><circle cx="474.7" cy="302.7" r="1.7"/><circle cx="474.1" cy="297.6" r="1.7"/><circle cx="501.5" cy="298.1" r="1.7"/><circle cx="504.8" cy="290.5" r="1.7"/><circle cx="514.7" cy="286.5" r="1.7"/><circle cx="488" cy="299.7" r="1.7"/><circle cx="501.6" cy="294.8" r="1.7"/><circle cx="520.5" cy="297.5" r="1.7"/><circle cx="469.2" cy="302.5" r="1.7"/><circle cx="472.3" cy="294" r="1.7"/><circle cx="456.9" cy="304.4" r="1.7"/><circle cx="511" cy="295.5" r="1.7"/><circle cx="448.2" cy="299.2" r="1.7"/><circle cx="470.2" cy="304" r="1.7"/><circle cx="481.7" cy="290.2" r="1.7"/><circle cx="513.7" cy="287.6" r="1.7"/><circle cx="484.3" cy="301.9" r="1.7"/><circle cx="508.5" cy="290.4" r="1.7"/><circle cx="478.4" cy="303.4" r="1.7"/><circle cx="509.8" cy="296.5" r="1.7"/><circle cx="532.6" cy="292.5" r="1.7"/><circle cx="527.3" cy="297.8" r="1.7"/><circle cx="474" cy="288.7" r="1.7"/><circle cx="525.1" cy="287.2" r="1.7"/><circle cx="469.8" cy="303.5" r="1.7"/><circle cx="526.3" cy="294.6" r="1.7"/><circle cx="493.6" cy="295.3" r="1.7"/><circle cx="520" cy="286.5" r="1.7"/><circle cx="485.8" cy="300.3" r="1.7"/><circle cx="461.9" cy="290.1" r="1.7"/><circle cx="446.3" cy="300.4" r="1.7"/><circle cx="479.6" cy="298.9" r="1.7"/><circle cx="509.8" cy="291.7" r="1.7"/><circle cx="500" cy="299.3" r="1.7"/><circle cx="446.7" cy="305.5" r="1.7"/><circle cx="491" cy="299.3" r="1.7"/><circle cx="529.1" cy="292" r="1.7"/><circle cx="476.9" cy="289.8" r="1.7"/><circle cx="462" cy="290.8" r="1.7"/><circle cx="509.2" cy="293.1" r="1.7"/><circle cx="495.6" cy="297.7" r="1.7"/><circle cx="445.2" cy="295.2" r="1.7"/><circle cx="478.4" cy="288.8" r="1.7"/><circle cx="527.8" cy="293.8" r="1.7"/><circle cx="496.3" cy="297.1" r="1.7"/><circle cx="453" cy="297.2" r="1.7"/><circle cx="457.6" cy="298.1" r="1.7"/><circle cx="490.8" cy="302.6" r="1.7"/><circle cx="489.1" cy="294.1" r="1.7"/><circle cx="455.2" cy="300.5" r="1.7"/><circle cx="495.7" cy="290.6" r="1.7"/><circle cx="460.3" cy="302" r="1.7"/><circle cx="533.2" cy="288.2" r="1.7"/><circle cx="528.6" cy="299.1" r="1.7"/><circle cx="508.5" cy="295.9" r="1.7"/><circle cx="531.1" cy="284.4" r="1.7"/><circle cx="446.4" cy="305" r="1.7"/><circle cx="454.8" cy="297.6" r="1.7"/><circle cx="475.2" cy="297.1" r="1.7"/><circle cx="491" cy="287.2" r="1.7"/><circle cx="533" cy="290.6" r="1.7"/><circle cx="526.9" cy="299.7" r="1.7"/><circle cx="482.7" cy="303.3" r="1.7"/><circle cx="509.2" cy="289.6" r="1.7"/><circle cx="519.2" cy="292.9" r="1.7"/><circle cx="476.6" cy="298.7" r="1.7"/><circle cx="511.4" cy="295.1" r="1.7"/><circle cx="480.9" cy="298.3" r="1.7"/><circle cx="447.9" cy="295" r="1.7"/><circle cx="462.2" cy="297.1" r="1.7"/><circle cx="449.4" cy="290.3" r="1.7"/><circle cx="497" cy="287.9" r="1.7"/><circle cx="472.6" cy="296.3" r="1.7"/><circle cx="523.1" cy="287.8" r="1.7"/><circle cx="503.7" cy="299.4" r="1.7"/><circle cx="484.1" cy="296.2" r="1.7"/><circle cx="520.2" cy="285.8" r="1.7"/><circle cx="483.4" cy="301.1" r="1.7"/><circle cx="492.1" cy="298.2" r="1.7"/><circle cx="530.6" cy="296.5" r="1.7"/><circle cx="502.6" cy="289.5" r="1.7"/><circle cx="524.7" cy="297.7" r="1.7"/><circle cx="465.5" cy="305.4" r="1.7"/><circle cx="484.6" cy="297.5" r="1.7"/><circle cx="493.6" cy="302.5" r="1.7"/><circle cx="470.1" cy="299.2" r="1.7"/><circle cx="506" cy="295.6" r="1.7"/><circle cx="518" cy="298.3" r="1.7"/><circle cx="457.3" cy="292.8" r="1.7"/><circle cx="527.5" cy="297.6" r="1.7"/><circle cx="463.7" cy="294.3" r="1.7"/><circle cx="512.7" cy="295.3" r="1.7"/><circle cx="480" cy="298.3" r="1.7"/><circle cx="530.8" cy="292.3" r="1.7"/><circle cx="497.3" cy="300.2" r="1.7"/><circle cx="470.6" cy="289.9" r="1.7"/><circle cx="524.9" cy="295" r="1.7"/><circle cx="531" cy="287.5" r="1.7"/><circle cx="503.7" cy="294.6" r="1.7"/><circle cx="527.2" cy="290.1" r="1.7"/><circle cx="476.5" cy="295.1" r="1.7"/><circle cx="468" cy="301.6" r="1.7"/><circle cx="521" cy="295.1" r="1.7"/><circle cx="526.3" cy="291.9" r="1.7"/><circle cx="476.4" cy="302.8" r="1.7"/><circle cx="449.1" cy="299.6" r="1.7"/><circle cx="504.5" cy="287.3" r="1.7"/><circle cx="524.9" cy="289.2" r="1.7"/><circle cx="526.7" cy="289.2" r="1.7"/><circle cx="513.1" cy="294.6" r="1.7"/><circle cx="521.1" cy="284.6" r="1.7"/><circle cx="491" cy="299.4" r="1.7"/><circle cx="523" cy="299.9" r="1.7"/><circle cx="514.7" cy="294.4" r="1.7"/><circle cx="471" cy="290.3" r="1.7"/><circle cx="464.5" cy="290" r="1.7"/><circle cx="479.8" cy="295.1" r="1.7"/><circle cx="490" cy="302" r="1.7"/><circle cx="484" cy="303.7" r="1.7"/><circle cx="452.9" cy="299" r="1.7"/><circle cx="489.6" cy="290" r="1.7"/><circle cx="500.8" cy="296.2" r="1.7"/><circle cx="512.3" cy="296.8" r="1.7"/><circle cx="472.3" cy="290.1" r="1.7"/><circle cx="502.8" cy="289.5" r="1.7"/><circle cx="471" cy="291.4" r="1.7"/><circle cx="495.8" cy="297.6" r="1.7"/><circle cx="447.5" cy="304.2" r="1.7"/><circle cx="525.3" cy="288.8" r="1.7"/><circle cx="526.7" cy="290.4" r="1.7"/><circle cx="504.3" cy="288.6" r="1.7"/><circle cx="501" cy="288" r="1.7"/><circle cx="521.5" cy="289.5" r="1.7"/><circle cx="447.8" cy="300.5" r="1.7"/><circle cx="512.4" cy="291.1" r="1.7"/><circle cx="486.6" cy="297.2" r="1.7"/><circle cx="458.5" cy="292.7" r="1.7"/><circle cx="465.1" cy="303.3" r="1.7"/><circle cx="531.6" cy="294.1" r="1.7"/><circle cx="494" cy="288.1" r="1.7"/><circle cx="479.7" cy="302.4" r="1.7"/><circle cx="449.9" cy="298.6" r="1.7"/><circle cx="498.2" cy="301.5" r="1.7"/><circle cx="533.4" cy="284.8" r="1.7"/><circle cx="532.6" cy="298.3" r="1.7"/><circle cx="509.1" cy="290.1" r="1.7"/><circle cx="526.1" cy="292.1" r="1.7"/><circle cx="485.7" cy="303.6" r="1.7"/><circle cx="486.8" cy="301.4" r="1.7"/><circle cx="449.3" cy="304.7" r="1.7"/><circle cx="518.6" cy="299.1" r="1.7"/><circle cx="475" cy="290.8" r="1.7"/><circle cx="532.5" cy="299" r="1.7"/><circle cx="491" cy="313" r="1.7"/><circle cx="498.7" cy="308" r="1.7"/><circle cx="470" cy="304" r="1.7"/><circle cx="480" cy="311" r="1.7"/><circle cx="460" cy="313" r="1.7"/></g>
<g fill="#fb1212"><circle cx="527" cy="268.5" r="1.8"/><circle cx="525.1" cy="252" r="1.8"/><circle cx="523.5" cy="262.4" r="1.8"/><circle cx="523.3" cy="262.2" r="1.8"/><circle cx="535.5" cy="258.7" r="1.8"/><circle cx="518.2" cy="261.5" r="1.8"/><circle cx="524.9" cy="255.2" r="1.8"/><circle cx="520.8" cy="249.8" r="1.8"/><circle cx="525.7" cy="255.1" r="1.8"/><circle cx="532.5" cy="269.1" r="1.8"/><circle cx="533.8" cy="250.6" r="1.8"/><circle cx="526.2" cy="251.4" r="1.8"/><circle cx="521.7" cy="262.6" r="1.8"/><circle cx="519.8" cy="251.5" r="1.8"/><circle cx="533.1" cy="252.7" r="1.8"/><circle cx="533.4" cy="258.3" r="1.8"/><circle cx="531.6" cy="270.1" r="1.8"/><circle cx="532.4" cy="268.1" r="1.8"/><circle cx="517.7" cy="264.7" r="1.8"/><circle cx="530.6" cy="253.2" r="1.8"/><circle cx="537" cy="262.9" r="1.8"/><circle cx="517.9" cy="257.8" r="1.8"/><circle cx="514.5" cy="258.8" r="1.8"/><circle cx="515.3" cy="261.9" r="1.8"/><circle cx="518.8" cy="250.9" r="1.8"/><circle cx="522.9" cy="251.1" r="1.8"/><circle cx="531.3" cy="253.1" r="1.8"/><circle cx="517.1" cy="257.7" r="1.8"/><circle cx="515.8" cy="260.2" r="1.8"/><circle cx="532.6" cy="260" r="1.8"/><circle cx="523.8" cy="269.8" r="1.8"/><circle cx="514.2" cy="262.5" r="1.8"/><circle cx="524.7" cy="254.7" r="1.8"/><circle cx="526.5" cy="259.8" r="1.8"/><circle cx="523.9" cy="256.2" r="1.8"/><circle cx="535" cy="252.2" r="1.8"/><circle cx="520.7" cy="254" r="1.8"/><circle cx="524.6" cy="258" r="1.8"/><circle cx="529.8" cy="257.6" r="1.8"/><circle cx="538.8" cy="261.9" r="1.8"/><circle cx="529.1" cy="268.3" r="1.8"/><circle cx="519.8" cy="255.2" r="1.8"/><circle cx="524.8" cy="262.1" r="1.8"/><circle cx="521.2" cy="269.1" r="1.8"/><circle cx="518.4" cy="260" r="1.8"/><circle cx="531.6" cy="269.5" r="1.8"/><circle cx="534.7" cy="257.6" r="1.8"/><circle cx="534.1" cy="262.7" r="1.8"/><circle cx="537.1" cy="257.7" r="1.8"/><circle cx="527.8" cy="254.3" r="1.8"/><circle cx="516.3" cy="260.3" r="1.8"/><circle cx="516.1" cy="256.6" r="1.8"/><circle cx="524.1" cy="268.2" r="1.8"/><circle cx="516.9" cy="253.8" r="1.8"/><circle cx="524.1" cy="248.4" r="1.8"/><circle cx="523.7" cy="255.8" r="1.8"/><circle cx="526.6" cy="262.3" r="1.8"/><circle cx="522.5" cy="256.9" r="1.8"/><circle cx="514.2" cy="261.2" r="1.8"/><circle cx="517.6" cy="253" r="1.8"/><circle cx="525.9" cy="262.8" r="1.8"/><circle cx="525.9" cy="260.2" r="1.8"/><circle cx="529.4" cy="252.7" r="1.8"/><circle cx="517.6" cy="264" r="1.8"/><circle cx="528.8" cy="257.1" r="1.8"/><circle cx="532.3" cy="251.2" r="1.8"/><circle cx="524.1" cy="248.3" r="1.8"/><circle cx="522.8" cy="263.7" r="1.8"/><circle cx="526.5" cy="265.9" r="1.8"/><circle cx="514.1" cy="261.4" r="1.8"/><circle cx="528.2" cy="258.1" r="1.8"/><circle cx="530" cy="253.4" r="1.8"/><circle cx="529.2" cy="266.4" r="1.8"/><circle cx="520.5" cy="259.6" r="1.8"/><circle cx="537.1" cy="262.3" r="1.8"/><circle cx="535.9" cy="256.5" r="1.8"/><circle cx="534.5" cy="251.5" r="1.8"/><circle cx="523.2" cy="253.2" r="1.8"/><circle cx="535.9" cy="264.2" r="1.8"/><circle cx="517.3" cy="261.6" r="1.8"/><circle cx="532.7" cy="265.1" r="1.8"/><circle cx="536.1" cy="267.2" r="1.8"/><circle cx="536.5" cy="261" r="1.8"/><circle cx="531.2" cy="262.2" r="1.8"/><circle cx="517.8" cy="254.4" r="1.8"/><circle cx="534.5" cy="255.9" r="1.8"/><circle cx="520.8" cy="255.8" r="1.8"/><circle cx="535.2" cy="256.4" r="1.8"/><circle cx="514.1" cy="261.8" r="1.8"/><circle cx="531.3" cy="265.2" r="1.8"/><circle cx="529.8" cy="249.7" r="1.8"/><circle cx="516" cy="259.3" r="1.8"/><circle cx="528.4" cy="253" r="1.8"/><circle cx="533.5" cy="263.1" r="1.8"/><circle cx="532.7" cy="268.8" r="1.8"/><circle cx="533.6" cy="254.8" r="1.8"/><circle cx="516.6" cy="251.8" r="1.8"/><circle cx="525.1" cy="269.8" r="1.8"/><circle cx="522.8" cy="262.4" r="1.8"/><circle cx="525.4" cy="257.5" r="1.8"/><circle cx="521.2" cy="263.4" r="1.8"/><circle cx="518.7" cy="253.4" r="1.8"/><circle cx="523.2" cy="263.9" r="1.8"/><circle cx="523" cy="251.3" r="1.8"/><circle cx="539.7" cy="261.1" r="1.8"/><circle cx="522.5" cy="256.2" r="1.8"/><circle cx="530.9" cy="255.4" r="1.8"/><circle cx="532.7" cy="254.8" r="1.8"/><circle cx="525.9" cy="263.3" r="1.8"/><circle cx="517.8" cy="258.4" r="1.8"/><circle cx="528.3" cy="265.6" r="1.8"/><circle cx="532" cy="250.2" r="1.8"/><circle cx="525.4" cy="258.3" r="1.8"/><circle cx="522.6" cy="259.9" r="1.8"/><circle cx="521.1" cy="251.7" r="1.8"/><circle cx="529.6" cy="257.4" r="1.8"/><circle cx="536.5" cy="253.6" r="1.8"/><circle cx="522.9" cy="254" r="1.8"/><circle cx="521.9" cy="253.3" r="1.8"/><circle cx="519.7" cy="266.7" r="1.8"/><circle cx="525.2" cy="261" r="1.8"/><circle cx="530.9" cy="266.6" r="1.8"/><circle cx="515.7" cy="265.9" r="1.8"/><circle cx="523.6" cy="248.8" r="1.8"/><circle cx="524.7" cy="264.6" r="1.8"/><circle cx="522.3" cy="263.9" r="1.8"/><circle cx="515.4" cy="264.6" r="1.8"/><circle cx="536" cy="261.3" r="1.8"/><circle cx="531.9" cy="250.2" r="1.8"/><circle cx="529.5" cy="259.6" r="1.8"/><circle cx="527.6" cy="262.7" r="1.8"/><circle cx="534.6" cy="256.6" r="1.8"/><circle cx="528.4" cy="251" r="1.8"/><circle cx="514.7" cy="254.2" r="1.8"/><circle cx="515.6" cy="260.2" r="1.8"/><circle cx="516" cy="277" r="1.8"/><circle cx="519.5" cy="279.7" r="1.8"/><circle cx="522.7" cy="274.5" r="1.8"/><circle cx="512" cy="266" r="1.8"/><circle cx="510" cy="262" r="1.8"/><circle cx="528" cy="247" r="1.8"/></g>
<line x1="80.7" y1="426.6" x2="537.5" y2="277.3" stroke="#161616" stroke-width="2.5"/>
<circle cx="80.5" cy="426.6" r="2.1" fill="#2340e0"/>
</svg>
</body></html>
